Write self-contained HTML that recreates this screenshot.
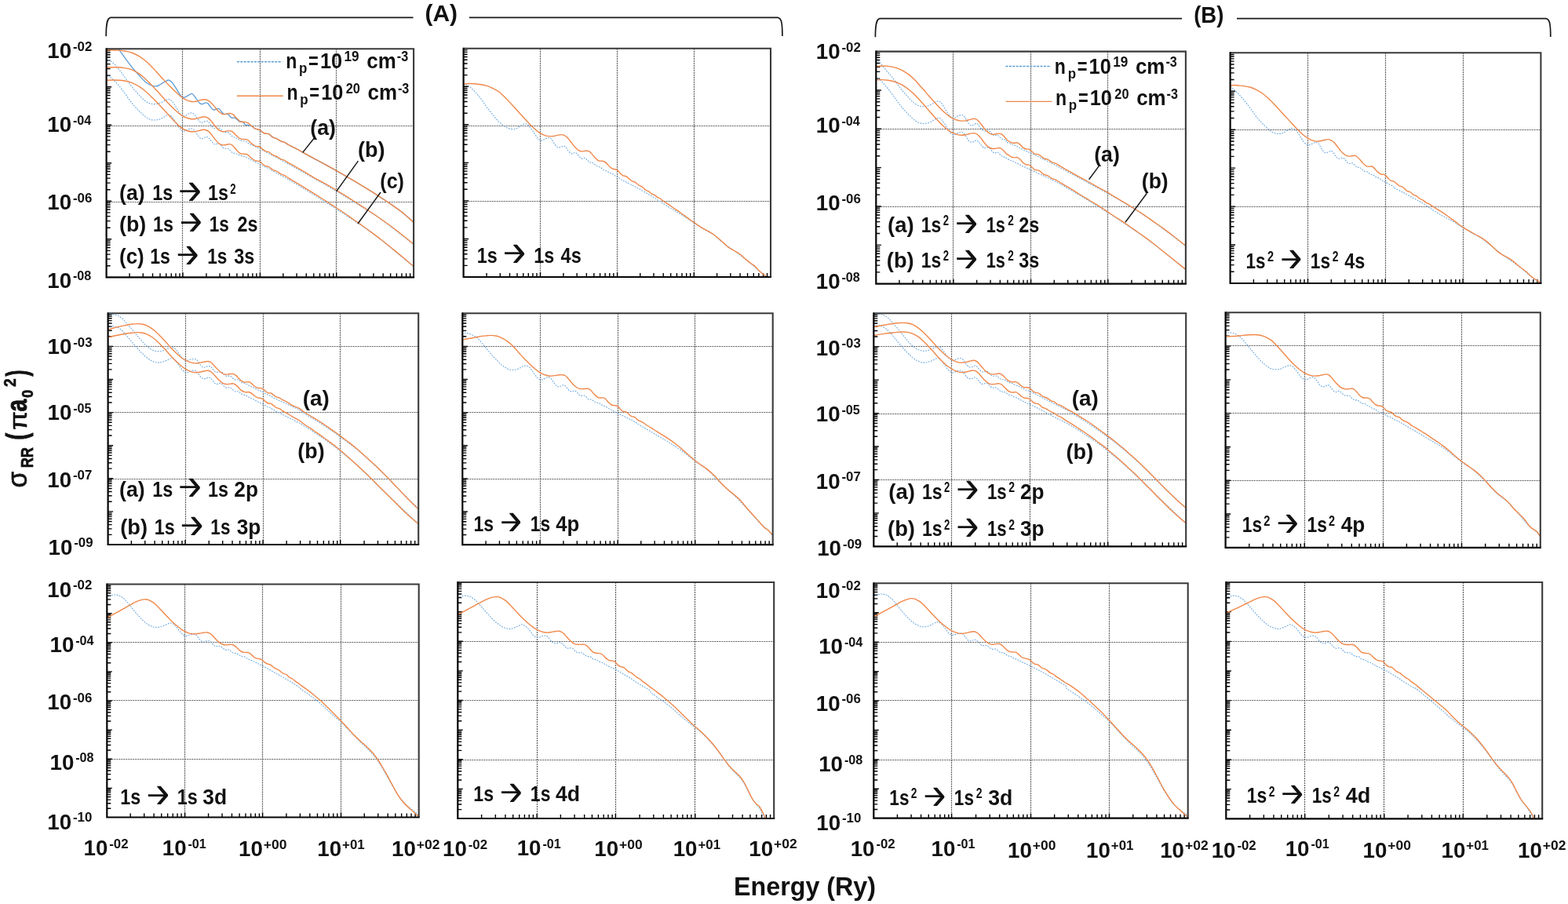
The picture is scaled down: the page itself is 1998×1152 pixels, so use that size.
<!DOCTYPE html>
<html lang="en"><head><meta charset="utf-8"><title>Radiative recombination cross sections</title>
<style>
html,body{margin:0;padding:0;background:#fff;}
body{width:1998px;height:1152px;overflow:hidden;}
svg{display:block;font-family:"Liberation Sans",sans-serif;font-weight:bold;fill:#111;}
.g{stroke:#444;stroke-width:1.2;stroke-dasharray:2 1;fill:none;opacity:.85}
.fr{stroke:#3a3a3a;stroke-width:2.1;fill:none;}
.ax{stroke:#050505;stroke-width:2.2;fill:none;}
.tk{stroke:#000;stroke-width:1.4;fill:none;}
.o{stroke:#F0884A;stroke-width:1.4;fill:none;stroke-linejoin:round;}
.b{stroke:#6CA8DE;stroke-width:1.1;fill:none;stroke-dasharray:1.8 1.5;stroke-linejoin:round;}
.bs{stroke:#5B9BD5;stroke-width:1.3;fill:none;stroke-linejoin:round;}
.ln{stroke:#1a1a1a;stroke-width:1.5;fill:none;}
</style></head><body>
<svg width="1998" height="1152" viewBox="0 0 1998 1152">
<rect x="0" y="0" width="1998" height="1152" fill="#fff"/>

<g id="p1">
<clipPath id="cp1"><rect x="135.6" y="62.3" width="391.5" height="291"/></clipPath>
<path class="g" d="M232.5 62.3V353.3M331.5 62.3V353.3M428.5 62.3V353.3M135.6 160.5H527.1M135.6 257.5H527.1"/>
<path class="tk" d="M165.06 353.3v-5M182.3 353.3v-5M194.53 353.3v-5M204.01 353.3v-5M211.76 353.3v-5M218.31 353.3v-5M223.99 353.3v-5M229 353.3v-5M262.94 353.3v-5M280.17 353.3v-5M292.4 353.3v-5M301.89 353.3v-5M309.64 353.3v-5M316.19 353.3v-5M321.86 353.3v-5M326.87 353.3v-5M360.81 353.3v-5M378.05 353.3v-5M390.28 353.3v-5M399.76 353.3v-5M407.51 353.3v-5M414.06 353.3v-5M419.74 353.3v-5M424.75 353.3v-5M458.69 353.3v-5M475.92 353.3v-5M488.15 353.3v-5M497.64 353.3v-5M505.39 353.3v-5M511.94 353.3v-5M517.61 353.3v-5M522.62 353.3v-5M233 353.3v-6M331.4 353.3v-6M428.7 353.3v-6M135.6 338.7h5M135.6 330.16h5M135.6 324.1h5M135.6 319.4h5M135.6 315.56h5M135.6 312.31h5M135.6 309.5h5M135.6 307.02h5M135.6 304.8h6.5M135.6 290.2h5M135.6 281.66h5M135.6 275.6h5M135.6 270.9h5M135.6 267.06h5M135.6 263.81h5M135.6 261h5M135.6 258.52h5M135.6 256.3h6.5M135.6 241.7h5M135.6 233.16h5M135.6 227.1h5M135.6 222.4h5M135.6 218.56h5M135.6 215.31h5M135.6 212.5h5M135.6 210.02h5M135.6 207.8h6.5M135.6 193.2h5M135.6 184.66h5M135.6 178.6h5M135.6 173.9h5M135.6 170.06h5M135.6 166.81h5M135.6 164h5M135.6 161.52h5M135.6 159.3h6.5M135.6 144.7h5M135.6 136.16h5M135.6 130.1h5M135.6 125.4h5M135.6 121.56h5M135.6 118.31h5M135.6 115.5h5M135.6 113.02h5M135.6 110.8h6.5M135.6 96.2h5M135.6 87.66h5M135.6 81.6h5M135.6 76.9h5M135.6 73.06h5M135.6 69.81h5M135.6 67h5M135.6 64.52h5"/>
<g clip-path="url(#cp1)">
<path class="b" d="M135.01 75.02C135.84 75.39 138.34 76.27 140.01 77.27C141.68 78.27 143.35 79.46 145.02 81.03C146.68 82.59 148.35 84.67 150.02 86.66C151.69 88.64 153.36 90.72 155.03 92.91C156.69 95.1 158.36 97.5 160.03 99.79C161.7 102.09 163.37 104.49 165.04 106.68C166.7 108.87 168.37 110.95 170.04 112.93C171.71 114.91 173.38 116.69 175.05 118.56C176.71 120.44 178.38 122.52 180.05 124.19C181.72 125.86 183.39 127.36 185.06 128.57C186.72 129.78 188.39 130.78 190.06 131.45C191.73 132.12 193.4 132.43 195.07 132.58C196.73 132.72 198.4 132.64 200.07 132.33C201.74 132.01 203.41 131.39 205.08 130.7C206.74 130.01 208.62 128.91 210.08 128.2C211.54 127.49 212.79 126.7 213.83 126.45C214.88 126.2 215.4 126.24 216.34 126.7C217.27 127.15 218.42 128.05 219.46 129.2C220.51 130.35 221.45 131.8 222.59 133.58C223.74 135.35 225.1 137.85 226.35 139.83C227.6 141.81 228.95 144.11 230.1 145.46C231.25 146.82 232.19 147.65 233.23 147.97C234.27 148.28 235.21 147.82 236.36 147.34C237.5 146.86 238.96 145.67 240.11 145.09C241.26 144.51 242.3 143.98 243.24 143.84C244.18 143.69 244.91 143.73 245.74 144.21C246.57 144.69 247.3 145.57 248.24 146.72C249.18 147.86 250.33 149.74 251.37 151.1C252.41 152.45 253.56 154.01 254.5 154.85C255.44 155.68 256.06 156.04 257 156.1C257.94 156.16 259.09 155.58 260.13 155.22C261.17 154.87 262.32 153.93 263.26 153.97C264.2 154.01 264.93 154.7 265.76 155.47C266.59 156.25 267.32 157.46 268.26 158.6C269.2 159.75 270.45 161.48 271.39 162.36C272.33 163.23 273.06 163.75 273.89 163.86C274.73 163.96 275.56 163.13 276.4 162.98C277.23 162.84 278.06 162.67 278.9 162.98C279.73 163.29 280.57 164.13 281.4 164.86C282.24 165.59 283.07 166.74 283.9 167.36C284.74 167.99 285.36 168.4 286.41 168.61C287.45 168.82 289.12 168.3 290.16 168.61C291.2 168.93 291.62 169.55 292.66 170.49C293.71 171.43 295.17 173.41 296.42 174.24C297.67 175.08 298.53 174.74 300.17 175.49C301.81 176.25 304.2 177.99 306.26 178.79C308.31 179.59 310.22 179.35 312.51 180.29C314.81 181.23 316.89 182.9 320.02 184.42C323.15 185.94 327.53 187.55 331.28 189.42C335.04 191.3 337.33 192.87 342.54 195.68C347.76 198.5 355.06 202.21 362.56 206.32C370.07 210.42 377.16 214.45 387.59 220.33C398.01 226.21 412.61 234.22 425.13 241.6C437.64 248.98 452.24 258.03 462.66 264.62C473.09 271.21 476.84 273.24 487.69 281.14C498.53 289.04 521.05 306.9 527.73 312.05"/>
<path class="b" d="M135.01 95.04C135.84 95.52 138.34 96.71 140.01 97.92C141.68 99.13 143.35 100.73 145.02 102.3C146.68 103.86 148.35 105.42 150.02 107.3C151.69 109.18 153.36 111.37 155.03 113.56C156.69 115.75 158.36 118.15 160.03 120.44C161.7 122.73 163.37 125.13 165.04 127.32C166.7 129.51 168.37 131.6 170.04 133.58C171.71 135.56 173.38 137.44 175.05 139.21C176.71 140.98 178.38 142.65 180.05 144.21C181.72 145.78 183.39 147.34 185.06 148.59C186.72 149.84 188.39 150.99 190.06 151.72C191.73 152.45 193.4 152.81 195.07 152.97C196.73 153.14 198.4 152.99 200.07 152.72C201.74 152.45 203.41 152.03 205.08 151.35C206.74 150.66 208.62 149.43 210.08 148.59C211.54 147.76 212.79 146.65 213.83 146.34C214.88 146.03 215.4 146.24 216.34 146.72C217.27 147.2 218.42 148.07 219.46 149.22C220.51 150.37 221.45 151.82 222.59 153.6C223.74 155.37 225.1 157.98 226.35 159.85C227.6 161.73 228.95 163.65 230.1 164.86C231.25 166.07 232.19 166.84 233.23 167.11C234.27 167.38 235.21 166.9 236.36 166.49C237.5 166.07 238.96 165.05 240.11 164.61C241.26 164.17 242.2 163.86 243.24 163.86C244.28 163.86 245.43 164.02 246.37 164.61C247.3 165.19 247.93 166.07 248.87 167.36C249.81 168.65 250.95 170.91 252 172.37C253.04 173.83 254.29 175.39 255.13 176.12C255.96 176.85 256.17 176.85 257 176.75C257.84 176.64 259.09 175.91 260.13 175.49C261.17 175.08 262.32 174.24 263.26 174.24C264.2 174.24 264.93 174.76 265.76 175.49C266.59 176.22 267.32 177.48 268.26 178.62C269.2 179.77 270.45 181.5 271.39 182.38C272.33 183.25 273.06 183.71 273.89 183.88C274.73 184.04 275.56 183.52 276.4 183.38C277.23 183.23 278.06 182.75 278.9 183C279.73 183.25 280.57 184.04 281.4 184.88C282.24 185.71 283.07 187.28 283.9 188.01C284.74 188.74 285.36 189.05 286.41 189.26C287.45 189.47 289.12 188.95 290.16 189.26C291.2 189.57 291.62 190.24 292.66 191.14C293.71 192.03 295.17 193.91 296.42 194.64C297.67 195.37 298.53 194.92 300.17 195.51C301.81 196.11 304.2 197.43 306.26 198.18C308.31 198.94 310.22 199.12 312.51 200.06C314.81 201 316.89 202.25 320.02 203.81C323.15 205.38 327.53 207.57 331.28 209.44C335.04 211.32 337.33 212.3 342.54 215.08C347.76 217.85 355.06 221.81 362.56 226.09C370.07 230.36 377.16 234.39 387.59 240.73C398.01 247.07 412.61 256.1 425.13 264.12C437.64 272.15 452.24 281.68 462.66 288.9C473.09 296.11 476.84 298.83 487.69 307.42C498.53 316.01 521.05 334.94 527.73 340.45"/>
<path class="bs" d="M150.65 61.01C150.96 61.59 151.79 63.36 152.52 64.51C153.25 65.66 153.77 66.18 155.03 67.89C156.28 69.6 158.36 72.47 160.03 74.77C161.7 77.06 163.37 79.46 165.04 81.65C166.7 83.84 168.37 85.93 170.04 87.91C171.71 89.89 173.38 91.66 175.05 93.54C176.71 95.41 178.38 97.4 180.05 99.17C181.72 100.94 183.39 102.78 185.06 104.17C186.72 105.57 188.39 106.65 190.06 107.55C191.73 108.45 193.61 109.18 195.07 109.55C196.52 109.93 197.57 109.97 198.82 109.8C200.07 109.64 201.32 109.12 202.57 108.55C203.82 107.99 205.08 107.16 206.33 106.43C207.58 105.7 208.93 104.86 210.08 104.17C211.23 103.48 212.37 102.65 213.21 102.3C214.04 101.94 214.36 101.84 215.09 102.05C215.81 102.25 216.75 102.88 217.59 103.55C218.42 104.21 219.05 104.69 220.09 106.05C221.13 107.41 222.59 109.7 223.84 111.68C225.1 113.66 226.45 116.16 227.6 117.94C228.74 119.71 229.79 121.27 230.73 122.32C231.66 123.36 232.29 123.98 233.23 124.19C234.17 124.4 235.21 124.05 236.36 123.57C237.5 123.09 238.96 121.98 240.11 121.32C241.26 120.65 242.4 119.81 243.24 119.56C244.07 119.31 244.39 119.36 245.12 119.81C245.85 120.27 246.68 121.17 247.62 122.32C248.56 123.46 249.7 125.24 250.75 126.7C251.79 128.16 252.83 130.07 253.87 131.08C254.92 132.08 255.96 132.6 257 132.7C258.04 132.81 259.19 132.01 260.13 131.7C261.07 131.39 261.8 130.76 262.63 130.82C263.47 130.89 264.3 131.3 265.14 132.08C265.97 132.85 266.7 134.27 267.64 135.45C268.58 136.64 269.83 138.44 270.77 139.21C271.7 139.98 272.43 140.15 273.27 140.08C274.1 140.02 274.94 139.12 275.77 138.83C276.6 138.54 277.54 138.21 278.27 138.33C279 138.46 279.42 138.81 280.15 139.58C280.88 140.36 281.71 141.98 282.65 142.96C283.59 143.94 284.74 145.11 285.78 145.46C286.82 145.82 287.97 144.94 288.91 145.09C289.85 145.24 290.58 145.65 291.41 146.34C292.25 147.03 293.08 148.53 293.91 149.22C294.75 149.91 295.58 150.37 296.42 150.47C297.25 150.57 298.08 149.64 298.92 149.84C299.75 150.05 300.38 150.89 301.42 151.72C302.46 152.55 304.13 154.33 305.18 154.85C306.22 155.37 306.84 154.64 307.68 154.85C308.51 155.06 309.35 155.37 310.18 156.1C311.01 156.83 311.85 158.71 312.68 159.23C313.52 159.75 314.35 159.08 315.19 159.23C316.02 159.37 316.88 159.93 317.69 160.1C318.49 160.28 318.8 159.62 320.02 160.27C321.24 160.92 323.46 163.19 325.03 164.02C326.59 164.86 328.26 164.9 329.4 165.28C330.55 165.65 330.97 165.65 331.91 166.28C332.85 166.9 333.89 168.34 335.04 169.03C336.18 169.72 337.54 170.11 338.79 170.41C340.04 170.7 341.08 170.03 342.54 170.78C344 171.53 345.88 173.91 347.55 174.91C349.22 175.91 350.88 175.95 352.55 176.79C354.22 177.62 355.89 179.14 357.56 179.91C359.23 180.69 360.89 180.64 362.56 181.42C364.23 182.19 365.48 183.4 367.57 184.54C369.65 185.69 371.74 186.53 375.08 188.3C378.41 190.07 383.42 192.89 387.59 195.18C391.76 197.47 395.93 199.81 400.1 202.06C404.27 204.31 408.44 206.44 412.61 208.69C416.78 210.95 420.95 213.24 425.13 215.58C429.3 217.91 433.47 220.31 437.64 222.71C441.81 225.11 445.98 227.5 450.15 229.96C454.32 232.43 458.49 234.93 462.66 237.47C466.83 240.02 471 242.58 475.18 245.23C479.35 247.88 483.52 250.61 487.69 253.36C491.86 256.12 496.03 258.84 500.2 261.75C504.37 264.66 508.12 267.12 512.71 270.82C517.3 274.52 525.23 281.77 527.73 283.96"/>
<path class="o" d="M135.01 63.76C137.92 63.82 148.14 63.86 152.52 64.13C156.9 64.4 158.57 64.82 161.28 65.38C163.99 65.95 166.29 66.57 168.79 67.51C171.29 68.45 173.79 69.56 176.3 71.02C178.8 72.47 181.3 74.29 183.8 76.27C186.31 78.25 188.81 80.44 191.31 82.9C193.81 85.36 196.32 88.32 198.82 91.04C201.32 93.75 203.82 96.46 206.33 99.17C208.83 101.88 211.33 104.69 213.83 107.3C216.34 109.91 218.84 112.41 221.34 114.81C223.84 117.21 226.55 119.81 228.85 121.69C231.14 123.57 233.23 124.96 235.11 126.07C236.98 127.18 238.44 127.74 240.11 128.32C241.78 128.91 243.45 129.43 245.12 129.57C246.78 129.72 248.45 129.53 250.12 129.2C251.79 128.86 253.46 127.99 255.13 127.57C256.79 127.15 258.67 126.74 260.13 126.7C261.59 126.65 262.63 126.8 263.88 127.32C265.14 127.84 266.39 128.78 267.64 129.82C268.89 130.87 270.14 132.22 271.39 133.58C272.64 134.93 273.89 136.5 275.15 137.96C276.4 139.42 277.65 141.15 278.9 142.34C280.15 143.53 281.4 144.55 282.65 145.09C283.9 145.63 285.16 145.63 286.41 145.59C287.66 145.55 288.91 145.01 290.16 144.84C291.41 144.67 292.77 144.42 293.91 144.59C295.06 144.76 296 145.07 297.04 145.84C298.08 146.61 299.05 148.11 300.17 149.22C301.29 150.33 302.74 151.59 303.75 152.51C304.77 153.44 305.21 154.26 306.26 154.76C307.3 155.27 308.86 155.37 310.01 155.52C311.16 155.66 312.1 155.41 313.14 155.64C314.18 155.87 315.12 156.16 316.27 156.89C317.41 157.62 318.56 158.87 320.02 160.02C321.48 161.17 323.46 162.94 325.03 163.77C326.59 164.61 328.26 164.65 329.4 165.03C330.55 165.4 330.97 165.4 331.91 166.03C332.85 166.65 333.89 168.07 335.04 168.78C336.18 169.49 337.54 169.97 338.79 170.28C340.04 170.59 341.08 169.9 342.54 170.66C344 171.41 345.88 173.78 347.55 174.78C349.22 175.79 350.88 175.83 352.55 176.66C354.22 177.5 355.89 179.02 357.56 179.79C359.23 180.56 360.89 180.52 362.56 181.29C364.23 182.06 365.48 183.27 367.57 184.42C369.65 185.57 371.74 186.4 375.08 188.17C378.41 189.95 383.42 192.76 387.59 195.06C391.76 197.35 395.93 199.68 400.1 201.94C404.27 204.19 408.44 206.32 412.61 208.57C416.78 210.82 420.95 213.11 425.13 215.45C429.3 217.79 433.47 220.18 437.64 222.58C441.81 224.98 445.98 227.38 450.15 229.84C454.32 232.3 458.49 234.8 462.66 237.35C466.83 239.89 471 242.46 475.18 245.11C479.35 247.75 483.52 250.49 487.69 253.24C491.86 255.99 496.03 258.7 500.2 261.62C504.37 264.54 508.12 267.04 512.71 270.76C517.3 274.47 525.23 281.7 527.73 283.89"/>
<path class="o" d="M135.01 86.03C136.26 85.99 140.01 85.82 142.51 85.78C145.02 85.74 147.52 85.68 150.02 85.78C152.52 85.88 155.03 86.05 157.53 86.41C160.03 86.76 162.74 87.24 165.04 87.91C167.33 88.57 169.21 89.37 171.29 90.41C173.38 91.45 175.46 92.7 177.55 94.16C179.63 95.62 181.72 97.33 183.8 99.17C185.89 101 187.97 103.09 190.06 105.17C192.15 107.26 194.23 109.45 196.32 111.68C198.4 113.91 200.49 116.27 202.57 118.56C204.66 120.86 206.74 123.15 208.83 125.44C210.91 127.74 213 130.14 215.09 132.33C217.17 134.52 219.26 136.6 221.34 138.58C223.43 140.56 225.51 142.59 227.6 144.21C229.68 145.84 231.98 147.3 233.85 148.34C235.73 149.39 237.19 149.91 238.86 150.47C240.53 151.03 242.2 151.55 243.86 151.72C245.53 151.89 247.2 151.74 248.87 151.47C250.54 151.2 252.21 150.51 253.87 150.09C255.54 149.68 257.42 149.11 258.88 148.97C260.34 148.82 261.38 148.82 262.63 149.22C263.88 149.61 265.14 150.3 266.39 151.35C267.64 152.39 268.89 153.95 270.14 155.47C271.39 157 272.64 158.96 273.89 160.48C275.15 162 276.4 163.5 277.65 164.61C278.9 165.71 280.15 166.59 281.4 167.11C282.65 167.63 283.9 167.74 285.16 167.74C286.41 167.74 287.66 167.3 288.91 167.11C290.16 166.92 291.52 166.53 292.66 166.61C293.81 166.69 294.75 166.97 295.79 167.61C296.83 168.26 297.8 169.42 298.92 170.49C300.04 171.56 301.28 172.96 302.5 174.03C303.73 175.1 305.01 176.35 306.26 176.91C307.51 177.47 308.86 177.31 310.01 177.41C311.16 177.52 312.1 177.31 313.14 177.54C314.18 177.77 315.12 177.95 316.27 178.79C317.41 179.62 318.56 181.33 320.02 182.54C321.48 183.75 323.46 185.34 325.03 186.05C326.59 186.76 328.26 186.53 329.4 186.8C330.55 187.07 330.97 187.03 331.91 187.67C332.85 188.32 333.89 189.8 335.04 190.68C336.18 191.55 337.54 192.45 338.79 192.93C340.04 193.41 341.08 192.82 342.54 193.55C344 194.28 345.88 196.33 347.55 197.31C349.22 198.29 350.88 198.56 352.55 199.43C354.22 200.31 355.89 201.75 357.56 202.56C359.23 203.38 360.89 203.48 362.56 204.31C364.23 205.15 365.48 206.36 367.57 207.57C369.65 208.78 371.74 209.69 375.08 211.57C378.41 213.45 383.42 216.37 387.59 218.83C391.76 221.29 395.93 223.94 400.1 226.34C404.27 228.73 408.44 230.88 412.61 233.22C416.78 235.55 420.95 237.91 425.13 240.35C429.3 242.79 433.47 245.29 437.64 247.86C441.81 250.42 445.98 253.07 450.15 255.74C454.32 258.41 458.49 261.16 462.66 263.87C466.83 266.58 471 269.19 475.18 272.01C479.35 274.82 483.52 277.8 487.69 280.77C491.86 283.73 496.03 286.65 500.2 289.77C504.37 292.9 508.12 295.89 512.71 299.53C517.3 303.18 525.23 309.65 527.73 311.67"/>
<path class="o" d="M135.01 102.3C136.67 102.25 141.68 102 145.02 102.05C148.35 102.09 152.11 102.25 155.03 102.55C157.94 102.84 160.03 103.17 162.53 103.8C165.04 104.42 167.54 105.2 170.04 106.3C172.54 107.41 175.05 108.8 177.55 110.43C180.05 112.06 182.55 113.97 185.06 116.06C187.56 118.15 190.06 120.54 192.56 122.94C195.07 125.34 197.57 127.84 200.07 130.45C202.57 133.06 205.08 135.87 207.58 138.58C210.08 141.29 212.58 144 215.09 146.72C217.59 149.43 220.3 152.45 222.59 154.85C224.89 157.25 226.97 159.48 228.85 161.11C230.73 162.73 232.19 163.67 233.85 164.61C235.52 165.55 237.19 166.21 238.86 166.74C240.53 167.26 242.2 167.59 243.86 167.74C245.53 167.88 247.2 167.84 248.87 167.61C250.54 167.38 252.21 166.76 253.87 166.36C255.54 165.96 257.42 165.34 258.88 165.23C260.34 165.13 261.38 165.28 262.63 165.73C263.88 166.19 265.14 166.88 266.39 167.99C267.64 169.09 268.89 170.8 270.14 172.37C271.39 173.93 272.64 175.81 273.89 177.37C275.15 178.94 276.4 180.6 277.65 181.75C278.9 182.9 280.15 183.73 281.4 184.25C282.65 184.77 283.9 184.88 285.16 184.88C286.41 184.88 287.66 184.46 288.91 184.25C290.16 184.04 291.52 183.52 292.66 183.63C293.81 183.73 294.75 184.15 295.79 184.88C296.83 185.61 297.8 186.73 298.92 188.01C300.04 189.29 301.28 191.27 302.5 192.55C303.73 193.83 305.01 195.08 306.26 195.68C307.51 196.29 308.86 196.08 310.01 196.18C311.16 196.29 312.1 196.08 313.14 196.31C314.18 196.54 315.12 196.72 316.27 197.56C317.41 198.39 318.56 200.14 320.02 201.31C321.48 202.48 323.46 203.9 325.03 204.56C326.59 205.23 328.26 205.02 329.4 205.32C330.55 205.61 330.97 205.63 331.91 206.32C332.85 207 333.89 208.55 335.04 209.44C336.18 210.34 337.54 211.18 338.79 211.7C340.04 212.22 341.08 211.8 342.54 212.57C344 213.34 345.88 215.39 347.55 216.33C349.22 217.26 350.88 217.33 352.55 218.2C354.22 219.08 355.89 220.68 357.56 221.58C359.23 222.48 360.89 222.69 362.56 223.58C364.23 224.48 365.48 225.67 367.57 226.96C369.65 228.25 371.74 229.36 375.08 231.34C378.41 233.32 383.42 236.3 387.59 238.85C391.76 241.39 395.93 244 400.1 246.61C404.27 249.21 408.44 251.82 412.61 254.49C416.78 257.16 420.95 259.91 425.13 262.62C429.3 265.33 433.47 267.94 437.64 270.76C441.81 273.57 445.98 276.59 450.15 279.51C454.32 282.43 458.49 285.29 462.66 288.27C466.83 291.26 471 294.28 475.18 297.41C479.35 300.54 483.52 303.77 487.69 307.04C491.86 310.32 496.03 313.67 500.2 317.05C504.37 320.43 508.12 323.45 512.71 327.31C517.3 331.17 525.23 338.05 527.73 340.2"/>
</g>
<path class="fr" d="M135.6 62.3H527.1V353.3"/>
<path class="ax" d="M135.6 61.3V353.3H528.1"/>
</g>
<g id="p2">
<clipPath id="cp2"><rect x="590.6" y="61.7" width="391.4" height="291.3"/></clipPath>
<path class="g" d="M688.5 61.7V353M786.5 61.7V353M884.5 61.7V353M590.6 160.5H982M590.6 256.5H982"/>
<path class="tk" d="M620.06 353v-5M637.29 353v-5M649.51 353v-5M658.99 353v-5M666.74 353v-5M673.29 353v-5M678.97 353v-5M683.97 353v-5M717.91 353v-5M735.14 353v-5M747.36 353v-5M756.84 353v-5M764.59 353v-5M771.14 353v-5M776.82 353v-5M781.82 353v-5M815.76 353v-5M832.99 353v-5M845.21 353v-5M854.69 353v-5M862.44 353v-5M868.99 353v-5M874.67 353v-5M879.67 353v-5M913.61 353v-5M930.84 353v-5M943.06 353v-5M952.54 353v-5M960.29 353v-5M966.84 353v-5M972.52 353v-5M977.52 353v-5M688.5 353v-6M786.6 353v-6M884.3 353v-6M590.6 338.38h5M590.6 329.84h5M590.6 323.77h5M590.6 319.07h5M590.6 315.22h5M590.6 311.97h5M590.6 309.15h5M590.6 306.67h5M590.6 304.45h6.5M590.6 289.83h5M590.6 281.29h5M590.6 275.22h5M590.6 270.52h5M590.6 266.67h5M590.6 263.42h5M590.6 260.6h5M590.6 258.12h5M590.6 255.9h6.5M590.6 241.28h5M590.6 232.74h5M590.6 226.67h5M590.6 221.97h5M590.6 218.12h5M590.6 214.87h5M590.6 212.05h5M590.6 209.57h5M590.6 207.35h6.5M590.6 192.73h5M590.6 184.19h5M590.6 178.12h5M590.6 173.42h5M590.6 169.57h5M590.6 166.32h5M590.6 163.5h5M590.6 161.02h5M590.6 158.8h6.5M590.6 144.18h5M590.6 135.64h5M590.6 129.57h5M590.6 124.87h5M590.6 121.02h5M590.6 117.77h5M590.6 114.95h5M590.6 112.47h5M590.6 110.25h6.5M590.6 95.63h5M590.6 87.09h5M590.6 81.02h5M590.6 76.32h5M590.6 72.47h5M590.6 69.22h5M590.6 66.4h5M590.6 63.92h5"/>
<g clip-path="url(#cp2)">
<path class="b" d="M590.01 107.52C590.84 107.62 593.34 107.41 595.01 108.14C596.68 108.87 598.35 110.44 600.02 111.9C601.68 113.36 603.35 115.17 605.02 116.9C606.69 118.63 608.36 120.3 610.03 122.28C611.69 124.26 613.36 126.45 615.03 128.79C616.7 131.12 618.37 134 620.04 136.3C621.7 138.59 623.37 140.47 625.04 142.55C626.71 144.64 628.38 146.83 630.05 148.81C631.71 150.79 633.38 152.77 635.05 154.44C636.72 156.11 638.39 157.51 640.06 158.82C641.72 160.13 643.39 161.43 645.06 162.32C646.73 163.22 648.4 163.84 650.07 164.2C651.73 164.55 653.4 164.72 655.07 164.45C656.74 164.18 658.41 163.41 660.08 162.57C661.74 161.74 663.62 160.24 665.08 159.44C666.54 158.65 667.58 157.92 668.83 157.82C670.09 157.71 671.54 158.13 672.59 158.82C673.63 159.51 674.05 160.59 675.09 161.95C676.13 163.3 677.59 165.18 678.84 166.95C680.1 168.72 681.35 170.81 682.6 172.58C683.85 174.36 685.2 176.5 686.35 177.59C687.5 178.67 688.44 178.98 689.48 179.09C690.52 179.19 691.46 178.67 692.61 178.21C693.75 177.75 695.21 176.8 696.36 176.34C697.51 175.88 698.55 175.46 699.49 175.46C700.43 175.46 701.16 175.56 701.99 176.34C702.83 177.11 703.66 178.8 704.49 180.09C705.33 181.38 706.06 182.88 707 184.09C707.94 185.3 709.19 186.7 710.13 187.35C711.06 187.99 711.69 188.04 712.63 187.97C713.57 187.91 714.71 187.28 715.76 186.97C716.8 186.66 717.95 185.89 718.88 186.1C719.82 186.3 720.55 187.24 721.39 188.22C722.22 189.2 722.95 190.79 723.89 191.98C724.83 193.17 726.08 194.73 727.02 195.36C727.96 195.98 728.58 195.88 729.52 195.73C730.46 195.58 731.71 194.48 732.65 194.48C733.59 194.48 734.32 195 735.15 195.73C735.98 196.46 736.71 197.82 737.65 198.86C738.59 199.9 739.84 201.51 740.78 201.99C741.72 202.47 742.45 201.84 743.28 201.74C744.12 201.63 744.95 201.01 745.79 201.36C746.62 201.72 747.35 202.93 748.29 203.86C749.23 204.8 750.37 206.47 751.42 206.99C752.46 207.51 753.5 206.57 754.54 206.99C755.59 207.41 756.53 208.66 757.67 209.49C758.82 210.33 760.18 211.37 761.43 212C762.68 212.62 763.93 212.52 765.18 213.25C766.43 213.98 767.68 215.65 768.93 216.38C770.19 217.11 771.44 217 772.69 217.63C773.94 218.25 775.19 219.5 776.44 220.13C777.69 220.76 778.94 220.71 780.2 221.38C781.45 222.05 782.7 223.34 783.95 224.13C785.2 224.93 786.24 225.24 787.7 226.14C789.16 227.03 791.04 228.53 792.71 229.51C794.38 230.49 795.03 230.64 797.71 232.02C800.4 233.39 804.88 235.67 808.82 237.77C812.76 239.88 817.16 242.26 821.33 244.66C825.5 247.05 829.67 249.56 833.84 252.16C838.01 254.77 842.19 257.69 846.36 260.3C850.53 262.9 854.7 265.26 858.87 267.8C863.04 270.35 867.15 272.85 871.38 275.56C875.61 278.27 880.1 281.36 884.27 284.07C888.44 286.78 892.3 289.35 896.41 291.83C900.51 294.31 904.75 296 908.92 298.96C913.09 301.92 916.63 305.93 921.43 309.6C926.23 313.27 931.86 316.62 937.7 320.98C943.54 325.34 951.67 331.83 956.47 335.75C961.26 339.67 962.51 341.34 966.48 344.51C970.44 347.68 977.95 353.06 980.24 354.77"/>
<path class="o" d="M590.01 107.27C591.26 107.14 595.01 106.6 597.51 106.52C600.02 106.43 602.52 106.56 605.02 106.77C607.52 106.98 610.03 107.33 612.53 107.77C615.03 108.21 617.53 108.64 620.04 109.39C622.54 110.15 625.04 111.08 627.54 112.27C630.05 113.46 632.76 114.92 635.05 116.53C637.34 118.13 639.22 119.97 641.31 121.91C643.39 123.85 645.48 125.97 647.56 128.16C649.65 130.35 651.73 132.75 653.82 135.05C655.9 137.34 657.99 139.63 660.08 141.93C662.16 144.22 664.25 146.51 666.33 148.81C668.42 151.1 670.5 153.5 672.59 155.69C674.67 157.88 676.76 160.01 678.84 161.95C680.93 163.89 683.22 165.87 685.1 167.33C686.98 168.79 688.44 169.79 690.11 170.71C691.77 171.62 693.44 172.35 695.11 172.83C696.78 173.31 698.45 173.48 700.12 173.58C701.78 173.69 703.45 173.67 705.12 173.46C706.79 173.25 708.46 172.65 710.13 172.33C711.79 172.02 713.67 171.58 715.13 171.58C716.59 171.58 717.63 171.75 718.88 172.33C720.14 172.92 721.39 173.9 722.64 175.09C723.89 176.27 725.14 177.9 726.39 179.46C727.64 181.03 728.89 182.91 730.15 184.47C731.4 186.03 732.65 187.6 733.9 188.85C735.15 190.1 736.4 191.31 737.65 191.98C738.9 192.64 740.16 192.79 741.41 192.85C742.66 192.92 743.91 192.44 745.16 192.35C746.41 192.27 747.77 192.1 748.91 192.35C750.06 192.6 751 193.02 752.04 193.85C753.08 194.69 754.02 196.04 755.17 197.36C756.32 198.67 757.67 200.49 758.92 201.74C760.18 202.99 761.43 204.3 762.68 204.86C763.93 205.43 765.28 204.97 766.43 205.12C767.58 205.26 768.52 205.28 769.56 205.74C770.6 206.2 771.54 206.83 772.69 207.87C773.83 208.91 775.19 210.83 776.44 212C777.69 213.16 778.94 214.25 780.2 214.87C781.45 215.5 782.8 215.4 783.95 215.75C785.1 216.11 786.03 216.17 787.08 217C788.12 217.84 789.06 219.61 790.21 220.76C791.35 221.9 792.71 223.26 793.96 223.88C795.21 224.51 796.46 223.88 797.71 224.51C798.96 225.14 800.22 226.59 801.47 227.64C802.72 228.68 803.97 230.04 805.22 230.77C806.47 231.5 807.85 231.43 808.97 232.02C810.1 232.6 810.93 233.48 811.95 234.27C812.96 235.06 814.03 236.15 815.08 236.77C816.12 237.4 816.95 237.13 818.2 238.02C819.45 238.92 821.23 241.19 822.58 242.15C823.94 243.11 825.09 243.01 826.34 243.78C827.59 244.55 828.84 246.01 830.09 246.78C831.34 247.55 832.59 247.66 833.84 248.41C835.1 249.16 836.35 250.52 837.6 251.29C838.85 252.06 840.1 252.2 841.35 253.04C842.6 253.87 843.65 255.25 845.11 256.29C846.56 257.34 848.44 258.21 850.11 259.3C851.78 260.38 853.45 261.63 855.12 262.8C856.78 263.97 858.45 265.16 860.12 266.3C861.79 267.45 863.25 268.39 865.13 269.68C867 270.97 869.3 272.54 871.38 274.06C873.47 275.58 875.49 277.25 877.64 278.81C879.79 280.38 882.18 281.98 884.27 283.44C886.35 284.9 888.13 286.26 890.15 287.57C892.17 288.89 894.32 290.14 896.41 291.33C898.49 292.52 900.58 293.52 902.66 294.71C904.75 295.89 906.83 297 908.92 298.46C911 299.92 913.09 301.69 915.18 303.46C917.26 305.24 919.35 307.22 921.43 309.1C923.52 310.97 925.81 313.27 927.69 314.73C929.56 316.19 931.02 316.87 932.69 317.85C934.36 318.83 935.82 319.46 937.7 320.61C939.57 321.75 941.87 323.11 943.95 324.74C946.04 326.36 948.12 328.59 950.21 330.37C952.3 332.14 954.59 333.95 956.47 335.37C958.34 336.79 959.8 337.42 961.47 338.87C963.14 340.33 964.81 342.52 966.48 344.13C968.14 345.74 969.81 347.15 971.48 348.51C973.15 349.87 975.03 351.28 976.49 352.26C977.95 353.24 979.61 354.04 980.24 354.39"/>
</g>
<path class="fr" d="M590.6 61.7H982V353"/>
<path class="ax" d="M590.6 60.7V353H983"/>
</g>
<g id="p3">
<clipPath id="cp3"><rect x="1116.3" y="65.6" width="394.6" height="296.1"/></clipPath>
<path class="g" d="M1214.5 65.6V361.7M1313.5 65.6V361.7M1411.5 65.6V361.7M1116.3 164.5H1510.9M1116.3 263.5H1510.9"/>
<path class="tk" d="M1146 361.7v-5M1163.37 361.7v-5M1175.69 361.7v-5M1185.25 361.7v-5M1193.06 361.7v-5M1199.67 361.7v-5M1205.39 361.7v-5M1210.44 361.7v-5M1244.65 361.7v-5M1262.02 361.7v-5M1274.34 361.7v-5M1283.9 361.7v-5M1291.71 361.7v-5M1298.32 361.7v-5M1304.04 361.7v-5M1309.09 361.7v-5M1343.3 361.7v-5M1360.67 361.7v-5M1372.99 361.7v-5M1382.55 361.7v-5M1390.36 361.7v-5M1396.97 361.7v-5M1402.69 361.7v-5M1407.74 361.7v-5M1441.95 361.7v-5M1459.32 361.7v-5M1471.64 361.7v-5M1481.2 361.7v-5M1489.01 361.7v-5M1495.62 361.7v-5M1501.34 361.7v-5M1506.39 361.7v-5M1214.9 361.7v-6M1313.6 361.7v-6M1411.8 361.7v-6M1116.3 346.84h5M1116.3 338.15h5M1116.3 331.99h5M1116.3 327.21h5M1116.3 323.3h5M1116.3 319.99h5M1116.3 317.13h5M1116.3 314.61h5M1116.3 312.35h6.5M1116.3 297.49h5M1116.3 288.8h5M1116.3 282.64h5M1116.3 277.86h5M1116.3 273.95h5M1116.3 270.64h5M1116.3 267.78h5M1116.3 265.26h5M1116.3 263h6.5M1116.3 248.14h5M1116.3 239.45h5M1116.3 233.29h5M1116.3 228.51h5M1116.3 224.6h5M1116.3 221.29h5M1116.3 218.43h5M1116.3 215.91h5M1116.3 213.65h6.5M1116.3 198.79h5M1116.3 190.1h5M1116.3 183.94h5M1116.3 179.16h5M1116.3 175.25h5M1116.3 171.94h5M1116.3 169.08h5M1116.3 166.56h5M1116.3 164.3h6.5M1116.3 149.44h5M1116.3 140.75h5M1116.3 134.59h5M1116.3 129.81h5M1116.3 125.9h5M1116.3 122.59h5M1116.3 119.73h5M1116.3 117.21h5M1116.3 114.95h6.5M1116.3 100.09h5M1116.3 91.4h5M1116.3 85.24h5M1116.3 80.46h5M1116.3 76.55h5M1116.3 73.24h5M1116.3 70.38h5M1116.3 67.86h5"/>
<g clip-path="url(#cp3)">
<path class="b" d="M1115.63 76.02C1116.36 76.47 1118.45 77.37 1120.01 78.77C1121.57 80.17 1123.35 82.42 1125.02 84.4C1126.68 86.38 1128.35 88.67 1130.02 90.66C1131.69 92.64 1133.36 94.31 1135.03 96.29C1136.69 98.27 1138.36 100.35 1140.03 102.54C1141.7 104.73 1143.37 107.23 1145.04 109.42C1146.7 111.61 1148.37 113.7 1150.04 115.68C1151.71 117.66 1153.38 119.43 1155.05 121.31C1156.71 123.19 1158.38 125.23 1160.05 126.94C1161.72 128.65 1163.39 130.32 1165.06 131.57C1166.72 132.82 1168.39 133.76 1170.06 134.45C1171.73 135.14 1173.4 135.53 1175.07 135.7C1176.73 135.87 1178.4 135.76 1180.07 135.45C1181.74 135.14 1183.41 134.55 1185.08 133.82C1186.74 133.09 1188.62 131.84 1190.08 131.07C1191.54 130.3 1192.69 129.47 1193.83 129.19C1194.98 128.92 1195.92 128.99 1196.96 129.44C1198 129.9 1199.05 130.7 1200.09 131.95C1201.13 133.2 1202.07 135.08 1203.22 136.95C1204.37 138.83 1205.72 141.33 1206.97 143.21C1208.22 145.09 1209.47 147.02 1210.73 148.21C1211.98 149.4 1213.33 150.07 1214.48 150.34C1215.63 150.61 1216.46 150.3 1217.61 149.84C1218.75 149.38 1220.21 148.13 1221.36 147.59C1222.51 147.05 1223.55 146.69 1224.49 146.59C1225.43 146.48 1226.16 146.48 1226.99 146.96C1227.83 147.44 1228.66 148.32 1229.49 149.46C1230.33 150.61 1231.06 152.38 1232 153.84C1232.94 155.3 1234.19 157.22 1235.13 158.22C1236.06 159.22 1236.69 159.75 1237.63 159.85C1238.57 159.95 1239.71 159.27 1240.76 158.85C1241.8 158.43 1242.95 157.35 1243.88 157.35C1244.82 157.35 1245.55 158.08 1246.39 158.85C1247.22 159.62 1247.95 160.83 1248.89 161.98C1249.83 163.12 1251.08 164.9 1252.02 165.73C1252.96 166.56 1253.58 166.88 1254.52 166.98C1255.46 167.09 1256.71 166.46 1257.65 166.36C1258.59 166.25 1259.32 165.98 1260.15 166.36C1260.98 166.73 1261.82 167.71 1262.65 168.61C1263.49 169.51 1264.32 171.07 1265.16 171.74C1265.99 172.4 1266.72 172.57 1267.66 172.61C1268.6 172.65 1269.85 171.74 1270.79 171.99C1271.72 172.24 1272.35 173.28 1273.29 174.11C1274.23 174.95 1275.48 176.41 1276.42 176.99C1277.35 177.58 1277.98 177.41 1278.92 177.62C1279.86 177.83 1281.45 177.64 1282.05 178.24C1282.65 178.85 1281.39 180.38 1282.51 181.26C1283.63 182.14 1286.68 182.68 1288.77 183.51C1290.85 184.35 1292.94 185.29 1295.03 186.27C1297.11 187.25 1299.2 188.35 1301.28 189.39C1303.37 190.44 1305.49 191.58 1307.54 192.52C1309.58 193.46 1310.42 193.57 1313.54 195.03C1316.67 196.48 1321.05 198.67 1326.31 201.28C1331.56 203.89 1337.78 206.87 1345.08 210.67C1352.37 214.46 1361.76 219.57 1370.1 224.05C1378.44 228.54 1386.78 233.02 1395.13 237.57C1403.47 242.11 1411.81 246.53 1420.15 251.33C1428.49 256.13 1436.83 261.09 1445.18 266.35C1453.52 271.6 1459.15 274.92 1470.2 282.86C1481.25 290.81 1504.61 308.83 1511.49 314.02"/>
<path class="b" d="M1115.63 98.29C1116.36 98.68 1118.45 99.44 1120.01 100.67C1121.57 101.9 1123.35 103.9 1125.02 105.67C1126.68 107.44 1128.35 109.32 1130.02 111.3C1131.69 113.28 1133.36 115.37 1135.03 117.56C1136.69 119.75 1138.36 122.15 1140.03 124.44C1141.7 126.73 1143.37 129.13 1145.04 131.32C1146.7 133.51 1148.37 135.6 1150.04 137.58C1151.71 139.56 1153.38 141.44 1155.05 143.21C1156.71 144.98 1158.38 146.61 1160.05 148.21C1161.72 149.82 1163.39 151.53 1165.06 152.84C1166.72 154.16 1168.39 155.35 1170.06 156.1C1171.73 156.85 1173.4 157.16 1175.07 157.35C1176.73 157.54 1178.4 157.49 1180.07 157.22C1181.74 156.95 1183.41 156.45 1185.08 155.72C1186.74 154.99 1188.62 153.68 1190.08 152.84C1191.54 152.01 1192.69 151.13 1193.83 150.72C1194.98 150.3 1195.92 150.03 1196.96 150.34C1198 150.65 1199.05 151.49 1200.09 152.59C1201.13 153.7 1202.07 155.2 1203.22 156.97C1204.37 158.74 1205.72 161.25 1206.97 163.23C1208.22 165.21 1209.47 167.46 1210.73 168.86C1211.98 170.26 1213.33 171.24 1214.48 171.61C1215.63 171.99 1216.46 171.53 1217.61 171.11C1218.75 170.69 1220.21 169.59 1221.36 169.11C1222.51 168.63 1223.55 168.27 1224.49 168.23C1225.43 168.19 1226.16 168.34 1226.99 168.86C1227.83 169.38 1228.66 170.21 1229.49 171.36C1230.33 172.51 1231.06 174.28 1232 175.74C1232.94 177.2 1234.19 179.18 1235.13 180.12C1236.06 181.06 1236.69 181.33 1237.63 181.37C1238.57 181.41 1239.71 180.79 1240.76 180.37C1241.8 179.95 1242.95 178.91 1243.88 178.87C1244.82 178.83 1245.55 179.39 1246.39 180.12C1247.22 180.85 1247.95 182.1 1248.89 183.25C1249.83 184.4 1251.08 186.11 1252.02 187C1252.96 187.9 1253.58 188.48 1254.52 188.63C1255.46 188.77 1256.71 187.94 1257.65 187.88C1258.59 187.82 1259.32 187.77 1260.15 188.25C1260.98 188.73 1261.82 189.82 1262.65 190.76C1263.49 191.69 1264.32 193.15 1265.16 193.88C1265.99 194.61 1266.72 195.14 1267.66 195.14C1268.6 195.14 1269.85 193.78 1270.79 193.88C1271.72 193.99 1272.35 194.93 1273.29 195.76C1274.23 196.59 1275.48 198.2 1276.42 198.89C1277.35 199.58 1277.98 199.58 1278.92 199.89C1279.86 200.2 1281.45 200.43 1282.05 200.77C1282.65 201.1 1281.39 201.24 1282.51 201.91C1283.63 202.58 1286.68 203.85 1288.77 204.78C1290.85 205.72 1292.94 206.56 1295.03 207.54C1297.11 208.52 1299.2 209.62 1301.28 210.67C1303.37 211.71 1305.49 212.81 1307.54 213.79C1309.58 214.77 1310.42 215.09 1313.54 216.55C1316.67 218.01 1321.05 220.09 1326.31 222.55C1331.56 225.01 1337.78 227.45 1345.08 231.31C1352.37 235.17 1361.76 240.8 1370.1 245.7C1378.44 250.6 1386.78 255.61 1395.13 260.72C1403.47 265.82 1411.81 270.93 1420.15 276.36C1428.49 281.78 1436.83 287.45 1445.18 293.25C1453.52 299.05 1459.15 302.65 1470.2 311.14C1481.25 319.63 1504.61 338.67 1511.49 344.17"/>
<path class="o" d="M1115.63 84.65C1116.99 84.55 1121.16 84.07 1123.76 84.02C1126.37 83.98 1128.77 84.13 1131.27 84.4C1133.77 84.67 1136.28 85.03 1138.78 85.65C1141.28 86.28 1143.99 87.21 1146.29 88.15C1148.58 89.09 1150.46 90.03 1152.54 91.28C1154.63 92.53 1156.71 93.99 1158.8 95.66C1160.88 97.33 1162.97 99.21 1165.06 101.29C1167.14 103.38 1169.23 105.88 1171.31 108.17C1173.4 110.47 1175.48 112.66 1177.57 115.06C1179.65 117.45 1181.74 120.16 1183.82 122.56C1185.91 124.96 1187.99 127.15 1190.08 129.44C1192.17 131.74 1194.25 134.14 1196.34 136.33C1198.42 138.52 1200.51 140.71 1202.59 142.58C1204.68 144.46 1206.81 146.13 1208.85 147.59C1210.89 149.05 1212.98 150.4 1214.85 151.34C1216.73 152.28 1218.4 152.76 1220.11 153.22C1221.82 153.68 1223.45 153.99 1225.12 154.09C1226.78 154.2 1228.45 154.09 1230.12 153.84C1231.79 153.59 1233.46 153.01 1235.13 152.59C1236.79 152.18 1238.77 151.49 1240.13 151.34C1241.49 151.2 1242.22 151.3 1243.26 151.72C1244.3 152.13 1245.24 152.76 1246.39 153.84C1247.53 154.93 1248.89 156.66 1250.14 158.22C1251.39 159.79 1252.64 161.66 1253.89 163.23C1255.15 164.79 1256.4 166.42 1257.65 167.61C1258.9 168.8 1260.15 169.73 1261.4 170.36C1262.65 170.99 1263.9 171.3 1265.16 171.36C1266.41 171.42 1267.66 170.94 1268.91 170.74C1270.16 170.53 1271.52 170.11 1272.66 170.11C1273.81 170.11 1274.75 170.21 1275.79 170.74C1276.83 171.26 1277.77 172.09 1278.92 173.24C1280.07 174.39 1281.87 176.7 1282.67 177.62C1283.48 178.54 1282.75 178.05 1283.76 178.76C1284.78 179.47 1287.31 181.3 1288.77 181.89C1290.23 182.47 1291.27 182.26 1292.52 182.26C1293.77 182.26 1295.03 181.53 1296.28 181.89C1297.53 182.24 1298.78 183.35 1300.03 184.39C1301.28 185.43 1302.53 187.2 1303.78 188.14C1305.04 189.08 1306.29 189.67 1307.54 190.02C1308.79 190.37 1310.14 189.85 1311.29 190.27C1312.44 190.69 1313.27 191.56 1314.42 192.52C1315.57 193.48 1316.82 195.34 1318.17 196.03C1319.53 196.71 1321.2 196.19 1322.55 196.65C1323.91 197.11 1325.06 197.9 1326.31 198.78C1327.56 199.65 1328.6 201.18 1330.06 201.91C1331.52 202.64 1333.4 202.39 1335.07 203.16C1336.73 203.93 1338.4 205.7 1340.07 206.54C1341.74 207.37 1343.2 207.27 1345.08 208.16C1346.95 209.06 1349.25 210.67 1351.33 211.92C1353.42 213.17 1354.46 213.9 1357.59 215.67C1360.72 217.44 1365.93 220.26 1370.1 222.55C1374.27 224.85 1378.44 227.14 1382.61 229.43C1386.78 231.73 1390.95 234.02 1395.13 236.32C1399.3 238.61 1403.47 240.8 1407.64 243.2C1411.81 245.6 1415.98 248.2 1420.15 250.71C1424.32 253.21 1428.49 255.71 1432.66 258.21C1436.83 260.72 1441 263.11 1445.18 265.72C1449.35 268.33 1453.52 271.04 1457.69 273.85C1461.86 276.67 1466.03 279.69 1470.2 282.61C1474.37 285.53 1478.54 288.35 1482.71 291.37C1486.88 294.4 1490.43 297.02 1495.23 300.76C1500.02 304.49 1508.78 311.6 1511.49 313.77"/>
<path class="o" d="M1115.63 101.92C1116.99 101.88 1121.16 101.6 1123.76 101.67C1126.37 101.73 1128.77 101.94 1131.27 102.29C1133.77 102.65 1136.28 103.08 1138.78 103.79C1141.28 104.5 1143.99 105.5 1146.29 106.55C1148.58 107.59 1150.46 108.69 1152.54 110.05C1154.63 111.41 1156.71 112.97 1158.8 114.68C1160.88 116.39 1162.97 118.27 1165.06 120.31C1167.14 122.35 1169.23 124.69 1171.31 126.94C1173.4 129.19 1175.48 131.47 1177.57 133.82C1179.65 136.18 1181.74 138.68 1183.82 141.08C1185.91 143.48 1187.99 145.88 1190.08 148.21C1192.17 150.55 1194.25 152.91 1196.34 155.1C1198.42 157.28 1200.51 159.47 1202.59 161.35C1204.68 163.23 1206.81 164.96 1208.85 166.36C1210.89 167.75 1212.98 168.86 1214.85 169.73C1216.73 170.61 1218.4 171.19 1220.11 171.61C1221.82 172.03 1223.45 172.22 1225.12 172.24C1226.78 172.26 1228.45 172.03 1230.12 171.74C1231.79 171.44 1233.46 170.84 1235.13 170.49C1236.79 170.13 1238.77 169.67 1240.13 169.61C1241.49 169.55 1242.22 169.67 1243.26 170.11C1244.3 170.55 1245.24 171.19 1246.39 172.24C1247.53 173.28 1248.89 174.84 1250.14 176.37C1251.39 177.89 1252.64 179.81 1253.89 181.37C1255.15 182.94 1256.4 184.56 1257.65 185.75C1258.9 186.94 1260.15 187.88 1261.4 188.5C1262.65 189.13 1263.9 189.4 1265.16 189.5C1266.41 189.61 1267.66 189.3 1268.91 189.13C1270.16 188.96 1271.52 188.48 1272.66 188.5C1273.81 188.52 1274.75 188.67 1275.79 189.25C1276.83 189.84 1277.77 190.82 1278.92 192.01C1280.07 193.2 1281.87 195.63 1282.67 196.39C1283.48 197.14 1282.75 195.92 1283.76 196.53C1284.78 197.13 1287.31 199.34 1288.77 200.03C1290.23 200.72 1291.27 200.55 1292.52 200.66C1293.77 200.76 1295.03 200.24 1296.28 200.66C1297.53 201.07 1298.78 202.01 1300.03 203.16C1301.28 204.31 1302.53 206.43 1303.78 207.54C1305.04 208.64 1306.29 209.37 1307.54 209.79C1308.79 210.21 1310.14 209.58 1311.29 210.04C1312.44 210.5 1313.27 211.54 1314.42 212.54C1315.57 213.54 1316.82 215.32 1318.17 216.05C1319.53 216.78 1321.2 216.42 1322.55 216.92C1323.91 217.42 1325.06 218.15 1326.31 219.05C1327.56 219.95 1328.6 221.51 1330.06 222.3C1331.52 223.09 1333.4 222.97 1335.07 223.8C1336.73 224.64 1338.4 226.43 1340.07 227.31C1341.74 228.18 1343.2 228.14 1345.08 229.06C1346.95 229.98 1349.25 231.56 1351.33 232.81C1353.42 234.06 1354.46 234.69 1357.59 236.57C1360.72 238.44 1365.93 241.51 1370.1 244.07C1374.27 246.64 1378.44 249.39 1382.61 251.96C1386.78 254.52 1390.95 256.9 1395.13 259.46C1399.3 262.03 1403.47 264.64 1407.64 267.35C1411.81 270.06 1415.98 272.98 1420.15 275.73C1424.32 278.48 1428.49 281.05 1432.66 283.86C1436.83 286.68 1441 289.7 1445.18 292.62C1449.35 295.54 1453.52 298.36 1457.69 301.38C1461.86 304.41 1466.03 307.53 1470.2 310.77C1474.37 314 1478.54 317.44 1482.71 320.78C1486.88 324.11 1490.43 326.93 1495.23 330.79C1500.02 334.64 1508.78 341.73 1511.49 343.92"/>
</g>
<path class="fr" d="M1116.3 65.6H1510.9V361.7"/>
<path class="ax" d="M1116.3 64.6V361.7H1511.9"/>
</g>
<g id="p4">
<clipPath id="cp4"><rect x="1567.6" y="67.3" width="395.8" height="293.7"/></clipPath>
<path class="g" d="M1666.5 67.3V361M1765.5 67.3V361M1864.5 67.3V361M1567.6 165.5H1963.4M1567.6 263.5H1963.4"/>
<path class="tk" d="M1597.39 361v-5M1614.81 361v-5M1627.17 361v-5M1636.76 361v-5M1644.6 361v-5M1651.22 361v-5M1656.96 361v-5M1662.02 361v-5M1696.34 361v-5M1713.76 361v-5M1726.12 361v-5M1735.71 361v-5M1743.55 361v-5M1750.17 361v-5M1755.91 361v-5M1760.97 361v-5M1795.29 361v-5M1812.71 361v-5M1825.07 361v-5M1834.66 361v-5M1842.5 361v-5M1849.12 361v-5M1854.86 361v-5M1859.92 361v-5M1894.24 361v-5M1911.66 361v-5M1924.02 361v-5M1933.61 361v-5M1941.45 361v-5M1948.07 361v-5M1953.81 361v-5M1958.87 361v-5M1666.5 361v-6M1765.3 361v-6M1864.1 361v-6M1567.6 346.26h5M1567.6 337.64h5M1567.6 331.53h5M1567.6 326.79h5M1567.6 322.91h5M1567.6 319.63h5M1567.6 316.79h5M1567.6 314.29h5M1567.6 312.05h6.5M1567.6 297.31h5M1567.6 288.69h5M1567.6 282.58h5M1567.6 277.84h5M1567.6 273.96h5M1567.6 270.68h5M1567.6 267.84h5M1567.6 265.34h5M1567.6 263.1h6.5M1567.6 248.36h5M1567.6 239.74h5M1567.6 233.63h5M1567.6 228.89h5M1567.6 225.01h5M1567.6 221.73h5M1567.6 218.89h5M1567.6 216.39h5M1567.6 214.15h6.5M1567.6 199.41h5M1567.6 190.79h5M1567.6 184.68h5M1567.6 179.94h5M1567.6 176.06h5M1567.6 172.78h5M1567.6 169.94h5M1567.6 167.44h5M1567.6 165.2h6.5M1567.6 150.46h5M1567.6 141.84h5M1567.6 135.73h5M1567.6 130.99h5M1567.6 127.11h5M1567.6 123.83h5M1567.6 120.99h5M1567.6 118.49h5M1567.6 116.25h6.5M1567.6 101.51h5M1567.6 92.89h5M1567.6 86.78h5M1567.6 82.04h5M1567.6 78.16h5M1567.6 74.88h5M1567.6 72.04h5M1567.6 69.54h5"/>
<g clip-path="url(#cp4)">
<path class="b" d="M1567.01 110.39C1567.84 110.95 1570.34 112.37 1572.01 113.77C1573.68 115.17 1575.35 117.11 1577.02 118.77C1578.68 120.44 1580.35 121.9 1582.02 123.78C1583.69 125.66 1585.36 127.95 1587.03 130.04C1588.69 132.12 1590.36 134.1 1592.03 136.29C1593.7 138.48 1595.37 140.88 1597.04 143.17C1598.7 145.47 1600.37 147.97 1602.04 150.06C1603.71 152.14 1605.38 153.91 1607.05 155.69C1608.71 157.46 1610.38 159.08 1612.05 160.69C1613.72 162.3 1615.39 163.96 1617.06 165.32C1618.72 166.68 1620.39 167.97 1622.06 168.82C1623.73 169.68 1625.4 170.24 1627.07 170.45C1628.73 170.66 1630.4 170.45 1632.07 170.08C1633.74 169.7 1635.41 169.03 1637.08 168.2C1638.74 167.36 1640.62 165.84 1642.08 165.07C1643.54 164.3 1644.58 163.71 1645.83 163.57C1647.09 163.42 1648.44 163.53 1649.59 164.19C1650.73 164.86 1651.57 166.07 1652.72 167.57C1653.86 169.07 1655.22 171.22 1656.47 173.2C1657.72 175.18 1658.97 177.73 1660.22 179.46C1661.47 181.19 1662.83 182.69 1663.98 183.59C1665.12 184.49 1666.06 184.76 1667.11 184.84C1668.15 184.92 1669.09 184.57 1670.23 184.09C1671.38 183.61 1672.84 182.42 1673.99 181.96C1675.13 181.5 1676.18 181.23 1677.12 181.34C1678.05 181.44 1678.78 181.75 1679.62 182.59C1680.45 183.42 1681.18 184.88 1682.12 186.34C1683.06 187.8 1684.21 189.99 1685.25 191.35C1686.29 192.7 1687.44 193.95 1688.38 194.47C1689.31 195 1689.94 194.72 1690.88 194.47C1691.82 194.22 1693.07 193.33 1694.01 192.97C1694.95 192.62 1695.68 192.1 1696.51 192.35C1697.34 192.6 1698.18 193.49 1699.01 194.47C1699.85 195.45 1700.58 197.02 1701.51 198.23C1702.45 199.44 1703.7 201.11 1704.64 201.73C1705.58 202.36 1706.21 202.09 1707.15 201.98C1708.08 201.88 1709.33 201.11 1710.27 201.11C1711.21 201.11 1711.94 201.31 1712.78 201.98C1713.61 202.65 1714.34 204.07 1715.28 205.11C1716.22 206.15 1717.47 207.72 1718.41 208.24C1719.34 208.76 1720.07 208.3 1720.91 208.24C1721.74 208.18 1722.58 207.55 1723.41 207.86C1724.25 208.18 1724.98 209.22 1725.91 210.12C1726.85 211.01 1728 212.72 1729.04 213.24C1730.08 213.76 1731.13 212.87 1732.17 213.24C1733.21 213.62 1734.26 214.66 1735.3 215.5C1736.34 216.33 1737.28 217.69 1738.43 218.25C1739.57 218.81 1740.93 218.25 1742.18 218.87C1743.43 219.5 1744.68 221.33 1745.93 222C1747.19 222.67 1748.44 222.25 1749.69 222.88C1750.94 223.5 1752.19 225.07 1753.44 225.76C1754.69 226.44 1755.94 226.32 1757.2 227.01C1758.45 227.7 1759.59 229.05 1760.95 229.88C1762.3 230.72 1763.66 231.09 1765.33 232.01C1767 232.93 1769.19 234.45 1770.96 235.39C1772.73 236.33 1775.07 237 1775.96 237.64C1776.86 238.29 1774.16 237.91 1776.31 239.27C1778.45 240.62 1784.65 243.54 1788.82 245.77C1792.99 248.01 1797.16 250.36 1801.33 252.66C1805.5 254.95 1809.67 256.97 1813.84 259.54C1818.01 262.1 1822.19 265.38 1826.36 268.05C1830.53 270.72 1834.7 273.22 1838.87 275.55C1843.04 277.89 1847.17 279.62 1851.38 282.06C1855.59 284.5 1859.97 287.65 1864.14 290.19C1868.31 292.74 1872.28 294.95 1876.41 297.33C1880.54 299.7 1884.75 301.6 1888.92 304.46C1893.09 307.31 1896.63 310.73 1901.43 314.47C1906.23 318.2 1912.07 322.7 1917.7 326.85C1923.33 331 1929.79 335.2 1935.22 339.37C1940.64 343.54 1945.43 348.27 1950.23 351.88C1955.03 355.49 1961.7 359.49 1963.99 361.01"/>
<path class="o" d="M1567.01 109.51C1567.84 109.35 1570.13 108.6 1572.01 108.51C1573.89 108.43 1575.97 108.81 1578.27 109.01C1580.56 109.22 1583.27 109.39 1585.77 109.76C1588.28 110.14 1590.78 110.49 1593.28 111.27C1595.78 112.04 1598.29 113.14 1600.79 114.39C1603.29 115.65 1605.79 117 1608.3 118.77C1610.8 120.55 1613.3 122.74 1615.8 125.03C1618.31 127.32 1620.81 129.93 1623.31 132.54C1625.81 135.14 1628.32 137.96 1630.82 140.67C1633.32 143.38 1635.82 146.09 1638.33 148.8C1640.83 151.51 1643.33 154.23 1645.83 156.94C1648.34 159.65 1650.84 162.57 1653.34 165.07C1655.84 167.57 1658.66 170.12 1660.85 171.95C1663.04 173.79 1664.6 174.93 1666.48 176.08C1668.36 177.23 1670.34 178.17 1672.11 178.83C1673.88 179.5 1675.45 179.94 1677.12 180.09C1678.78 180.23 1680.45 179.98 1682.12 179.71C1683.79 179.44 1685.46 178.81 1687.13 178.46C1688.79 178.1 1690.67 177.56 1692.13 177.58C1693.59 177.6 1694.63 177.96 1695.88 178.58C1697.14 179.21 1698.39 180.15 1699.64 181.34C1700.89 182.53 1702.14 184.15 1703.39 185.72C1704.64 187.28 1705.89 189.16 1707.15 190.72C1708.4 192.28 1709.65 193.91 1710.9 195.1C1712.15 196.29 1713.4 197.19 1714.65 197.85C1715.9 198.52 1717.16 198.94 1718.41 199.1C1719.66 199.27 1720.91 199 1722.16 198.85C1723.41 198.71 1724.77 198.12 1725.91 198.23C1727.06 198.33 1728 198.75 1729.04 199.48C1730.08 200.21 1731.02 201.36 1732.17 202.61C1733.32 203.86 1734.67 205.63 1735.92 206.99C1737.18 208.34 1738.43 209.84 1739.68 210.74C1740.93 211.64 1742.18 212.16 1743.43 212.37C1744.68 212.58 1746.14 211.91 1747.19 211.99C1748.23 212.08 1748.75 212.14 1749.69 212.87C1750.63 213.6 1751.67 215.16 1752.82 216.37C1753.96 217.58 1755.32 219.14 1756.57 220.13C1757.82 221.11 1759.18 221.88 1760.32 222.25C1761.47 222.63 1762.51 222.11 1763.45 222.38C1764.39 222.65 1765.02 223 1765.95 223.88C1766.89 224.75 1768.04 226.59 1769.08 227.63C1770.12 228.68 1771.06 229.55 1772.21 230.14C1773.36 230.72 1774.71 230.47 1775.96 231.14C1777.22 231.8 1778.47 233.16 1779.72 234.14C1780.97 235.12 1782.22 236.33 1783.47 237.02C1784.72 237.71 1785.92 237.43 1787.23 238.27C1788.53 239.1 1790.33 241.14 1791.32 242.02C1792.32 242.9 1792.26 243.06 1793.2 243.52C1794.14 243.98 1795.7 244.02 1796.95 244.77C1798.2 245.52 1799.35 247.19 1800.71 248.03C1802.06 248.86 1803.73 248.94 1805.09 249.78C1806.44 250.61 1807.48 252.13 1808.84 253.03C1810.19 253.93 1811.86 254.32 1813.22 255.16C1814.57 255.99 1815.62 257.2 1816.97 258.04C1818.33 258.87 1820 259.39 1821.35 260.16C1822.71 260.93 1823.65 261.73 1825.11 262.67C1826.56 263.6 1828.44 264.75 1830.11 265.79C1831.78 266.84 1833.45 267.88 1835.12 268.92C1836.78 269.96 1838.45 270.9 1840.12 272.05C1841.79 273.2 1843.25 274.45 1845.13 275.8C1847 277.16 1849.3 278.66 1851.38 280.18C1853.47 281.71 1855.51 283.37 1857.64 284.94C1859.76 286.5 1862.06 288.17 1864.14 289.57C1866.23 290.96 1868.11 292.11 1870.15 293.32C1872.19 294.53 1874.32 295.68 1876.41 296.82C1878.49 297.97 1880.58 299.01 1882.66 300.2C1884.75 301.39 1886.83 302.6 1888.92 303.96C1891 305.31 1893.09 306.67 1895.18 308.34C1897.26 310 1899.35 312.05 1901.43 313.97C1903.52 315.89 1905.81 318.24 1907.69 319.85C1909.56 321.45 1911.02 322.5 1912.69 323.6C1914.36 324.71 1915.82 325.44 1917.7 326.48C1919.57 327.52 1921.87 328.5 1923.95 329.86C1926.04 331.21 1928.33 333.09 1930.21 334.61C1932.09 336.13 1933.55 337.64 1935.22 338.99C1936.88 340.35 1938.55 341.49 1940.22 342.75C1941.89 344 1943.56 345.04 1945.23 346.5C1946.89 347.96 1948.56 350.04 1950.23 351.5C1951.9 352.96 1953.57 354.11 1955.24 355.26C1956.9 356.41 1958.78 357.49 1960.24 358.39C1961.7 359.28 1963.37 360.26 1963.99 360.64"/>
</g>
<path class="fr" d="M1567.6 67.3H1963.4V361"/>
<path class="ax" d="M1567.6 66.3V361H1964.4"/>
</g>
<g id="p5">
<clipPath id="cp5"><rect x="137.6" y="399.3" width="395.6" height="294.7"/></clipPath>
<path class="g" d="M236.5 399.3V694M335.5 399.3V694M433.5 399.3V694M137.6 441.5H533.2M137.6 525.5H533.2M137.6 610.5H533.2"/>
<path class="tk" d="M167.37 694v-5M184.79 694v-5M197.14 694v-5M206.73 694v-5M214.56 694v-5M221.18 694v-5M226.92 694v-5M231.97 694v-5M266.27 694v-5M283.69 694v-5M296.04 694v-5M305.63 694v-5M313.46 694v-5M320.08 694v-5M325.82 694v-5M330.87 694v-5M365.17 694v-5M382.59 694v-5M394.94 694v-5M404.53 694v-5M412.36 694v-5M418.98 694v-5M424.72 694v-5M429.77 694v-5M464.07 694v-5M481.49 694v-5M493.84 694v-5M503.43 694v-5M511.26 694v-5M517.88 694v-5M523.62 694v-5M528.67 694v-5M236 694v-6M335.1 694v-6M433.7 694v-6M137.6 681.33h5M137.6 673.91h5M137.6 668.65h5M137.6 664.57h5M137.6 661.24h5M137.6 658.42h5M137.6 655.98h5M137.6 653.83h5M137.6 651.9h6.5M137.6 639.23h5M137.6 631.81h5M137.6 626.55h5M137.6 622.47h5M137.6 619.14h5M137.6 616.32h5M137.6 613.88h5M137.6 611.73h5M137.6 609.8h6.5M137.6 597.13h5M137.6 589.71h5M137.6 584.45h5M137.6 580.37h5M137.6 577.04h5M137.6 574.22h5M137.6 571.78h5M137.6 569.63h5M137.6 567.7h6.5M137.6 555.03h5M137.6 547.61h5M137.6 542.35h5M137.6 538.27h5M137.6 534.94h5M137.6 532.12h5M137.6 529.68h5M137.6 527.53h5M137.6 525.6h6.5M137.6 512.93h5M137.6 505.51h5M137.6 500.25h5M137.6 496.17h5M137.6 492.84h5M137.6 490.02h5M137.6 487.58h5M137.6 485.43h5M137.6 483.5h6.5M137.6 470.83h5M137.6 463.41h5M137.6 458.15h5M137.6 454.07h5M137.6 450.74h5M137.6 447.92h5M137.6 445.48h5M137.6 443.33h5M137.6 441.4h6.5M137.6 428.73h5M137.6 421.31h5M137.6 416.05h5M137.6 411.97h5M137.6 408.64h5M137.6 405.82h5M137.6 403.38h5M137.6 401.23h5"/>
<g clip-path="url(#cp5)">
<path class="b" d="M137.01 400.76C138.26 400.76 142.43 400.55 144.51 400.76C146.6 400.97 147.85 401.32 149.52 402.01C151.19 402.7 152.85 403.57 154.52 404.89C156.19 406.2 157.86 408.12 159.53 409.89C161.2 411.66 162.86 413.65 164.53 415.52C166.2 417.4 167.87 419.17 169.54 421.15C171.21 423.13 172.87 425.43 174.54 427.41C176.21 429.39 177.88 431.16 179.55 433.04C181.22 434.92 182.88 437 184.55 438.67C186.22 440.34 187.89 441.8 189.56 443.05C191.23 444.3 192.89 445.41 194.56 446.18C196.23 446.95 197.9 447.43 199.57 447.68C201.24 447.93 202.9 447.93 204.57 447.68C206.24 447.43 207.91 446.85 209.58 446.18C211.25 445.51 213.12 444.3 214.58 443.68C216.04 443.05 217.09 442.42 218.34 442.42C219.59 442.42 220.94 442.95 222.09 443.68C223.24 444.41 224.18 445.55 225.22 446.8C226.26 448.06 227.2 449.62 228.35 451.18C229.49 452.75 230.85 454.83 232.1 456.19C233.35 457.54 234.6 458.84 235.85 459.32C237.11 459.8 238.36 459.32 239.61 459.07C240.86 458.82 242.11 458.09 243.36 457.81C244.61 457.54 245.97 457.4 247.12 457.44C248.26 457.48 249.3 457.44 250.24 458.07C251.18 458.69 251.81 459.94 252.75 461.19C253.68 462.44 254.83 464.43 255.87 465.57C256.92 466.72 257.96 467.7 259 468.08C260.04 468.45 261.09 468.14 262.13 467.82C263.17 467.51 264.22 466.32 265.26 466.2C266.3 466.07 267.45 466.45 268.39 467.07C269.32 467.7 269.95 468.85 270.89 469.95C271.83 471.06 272.97 472.98 274.02 473.71C275.06 474.44 276.1 474.33 277.15 474.33C278.19 474.33 279.33 473.71 280.27 473.71C281.21 473.71 281.94 473.77 282.78 474.33C283.61 474.89 284.34 476.25 285.28 477.08C286.22 477.92 287.36 479 288.41 479.34C289.45 479.67 290.6 479.04 291.53 479.09C292.47 479.13 293.1 479.02 294.04 479.59C294.98 480.15 296.12 481.71 297.17 482.46C298.21 483.22 299.25 483.88 300.29 484.09C301.34 484.3 302.48 483.47 303.42 483.72C304.36 483.97 304.99 484.9 305.92 485.59C306.86 486.28 307.91 487.32 309.05 487.84C310.2 488.37 311.66 488.26 312.81 488.72C313.95 489.18 314.79 489.97 315.93 490.6C317.08 491.22 318.44 491.89 319.69 492.47C320.94 493.06 322.19 493.48 323.44 494.1C324.69 494.73 325.94 495.6 327.2 496.23C328.45 496.85 329.66 497.33 330.95 497.85C332.24 498.38 333.49 498.58 334.95 499.36C336.41 500.13 338.08 501.61 339.71 502.48C341.33 503.36 342.84 503.67 344.71 504.61C346.59 505.55 348.88 507.01 350.97 508.12C353.05 509.22 355.14 510.3 357.23 511.24C359.31 512.18 361.4 512.81 363.48 513.75C365.57 514.68 367.65 515.89 369.74 516.87C371.82 517.85 373.95 518.69 375.99 519.63C378.04 520.57 380.11 521.33 382 522.5C383.89 523.68 383.67 524.31 387.33 526.67C391 529.03 398.44 533.19 404 536.67C409.56 540.14 415.11 543.69 420.67 547.5C426.22 551.31 431.78 555.42 437.33 559.5C442.89 563.58 448.44 567.47 454 572C459.56 576.53 465.11 581.61 470.67 586.67C476.22 591.72 481.78 596.86 487.33 602.33C492.89 607.81 496.08 611.56 504 619.5C511.92 627.44 529.69 644.92 534.83 650"/>
<path class="b" d="M137.01 416.15C138.05 416.04 141.38 415.48 143.26 415.52C145.14 415.56 146.6 415.77 148.27 416.4C149.93 417.02 151.6 417.96 153.27 419.28C154.94 420.59 156.61 422.51 158.28 424.28C159.94 426.05 161.61 427.93 163.28 429.91C164.95 431.89 166.62 434.19 168.29 436.17C169.95 438.15 171.62 439.92 173.29 441.8C174.96 443.68 176.63 445.66 178.3 447.43C179.96 449.2 181.63 450.87 183.3 452.43C184.97 454 186.64 455.56 188.31 456.81C189.97 458.07 191.64 459.11 193.31 459.94C194.98 460.78 196.65 461.46 198.32 461.82C199.98 462.17 201.65 462.24 203.32 462.07C204.99 461.9 206.66 461.38 208.33 460.82C209.99 460.25 211.77 459.36 213.33 458.69C214.9 458.02 216.36 456.96 217.71 456.81C219.07 456.67 220.32 457.08 221.46 457.81C222.61 458.54 223.45 459.8 224.59 461.19C225.74 462.59 227.1 464.53 228.35 466.2C229.6 467.87 230.85 469.85 232.1 471.2C233.35 472.56 234.71 473.77 235.85 474.33C237 474.89 237.84 474.79 238.98 474.58C240.13 474.37 241.48 473.5 242.74 473.08C243.99 472.66 245.34 472.14 246.49 472.08C247.64 472.02 248.57 472.02 249.62 472.7C250.66 473.39 251.7 474.89 252.75 476.21C253.79 477.52 254.83 479.54 255.87 480.59C256.92 481.63 257.96 482.15 259 482.46C260.04 482.78 261.09 482.71 262.13 482.46C263.17 482.21 264.22 481.07 265.26 480.96C266.3 480.86 267.45 481.17 268.39 481.84C269.32 482.51 269.95 483.82 270.89 484.97C271.83 486.11 272.97 487.99 274.02 488.72C275.06 489.45 276.1 489.41 277.15 489.35C278.19 489.28 279.33 488.35 280.27 488.35C281.21 488.35 281.94 488.76 282.78 489.35C283.61 489.93 284.34 491.06 285.28 491.85C286.22 492.64 287.36 493.79 288.41 494.1C289.45 494.41 290.6 493.68 291.53 493.73C292.47 493.77 293.1 493.79 294.04 494.35C294.98 494.91 296.12 496.31 297.17 497.1C298.21 497.9 299.25 498.84 300.29 499.11C301.34 499.38 302.48 498.48 303.42 498.73C304.36 498.98 304.99 499.92 305.92 500.61C306.86 501.3 307.91 502.34 309.05 502.86C310.2 503.38 311.66 503.28 312.81 503.74C313.95 504.19 314.79 504.99 315.93 505.61C317.08 506.24 318.44 506.91 319.69 507.49C320.94 508.07 322.19 508.49 323.44 509.12C324.69 509.74 325.94 510.58 327.2 511.24C328.45 511.91 329.66 512.49 330.95 513.12C332.24 513.75 333.49 514.2 334.95 515C336.41 515.79 338.08 517.04 339.71 517.87C341.33 518.71 342.84 519.02 344.71 520C346.59 520.98 348.88 522.61 350.97 523.76C353.05 524.9 355.14 525.84 357.23 526.88C359.31 527.93 361.4 528.97 363.48 530.01C365.57 531.05 367.65 532.1 369.74 533.14C371.82 534.18 373.06 534.71 375.99 536.27C378.93 537.83 382.67 539.66 387.33 542.5C392 545.34 398.44 549.58 404 553.33C409.56 557.08 415.11 560.89 420.67 565C426.22 569.11 431.78 573.47 437.33 578C442.89 582.53 448.44 587.19 454 592.17C459.56 597.14 465.11 602.44 470.67 607.83C476.22 613.22 476.64 614.28 487.33 624.5C498.03 634.72 526.92 661.72 534.83 669.17"/>
<path class="o" d="M137.01 420.4C138.26 420.01 142.01 418.73 144.51 418.03C147.02 417.32 149.52 416.71 152.02 416.15C154.52 415.59 157.03 415.13 159.53 414.65C162.03 414.17 164.53 413.6 167.04 413.27C169.54 412.94 172.25 412.69 174.54 412.64C176.84 412.6 178.71 412.64 180.8 413.02C182.88 413.4 184.97 413.96 187.06 414.9C189.14 415.84 191.23 417.19 193.31 418.65C195.4 420.11 197.48 421.78 199.57 423.66C201.65 425.53 203.74 427.72 205.82 429.91C207.91 432.1 209.99 434.5 212.08 436.79C214.17 439.09 216.25 441.49 218.34 443.68C220.42 445.87 222.51 447.95 224.59 449.93C226.68 451.91 228.97 454.1 230.85 455.56C232.73 457.02 234.19 457.75 235.85 458.69C237.52 459.63 239.19 460.55 240.86 461.19C242.53 461.84 244.2 462.3 245.86 462.57C247.53 462.84 249.2 462.9 250.87 462.82C252.54 462.74 254.21 462.38 255.87 462.07C257.54 461.76 259.42 461.19 260.88 460.94C262.34 460.69 263.49 460.53 264.63 460.57C265.78 460.61 266.72 460.67 267.76 461.19C268.8 461.71 269.74 462.59 270.89 463.7C272.04 464.8 273.39 466.47 274.64 467.82C275.89 469.18 277.15 470.64 278.4 471.83C279.65 473.02 280.9 474.12 282.15 474.96C283.4 475.79 284.65 476.48 285.9 476.83C287.16 477.19 288.41 477.15 289.66 477.08C290.91 477.02 292.16 476.56 293.41 476.46C294.66 476.35 296.02 476.19 297.17 476.46C298.31 476.73 299.25 477.29 300.29 478.09C301.34 478.88 302.27 480.07 303.42 481.21C304.57 482.36 305.92 484.03 307.18 484.97C308.43 485.91 309.68 486.53 310.93 486.84C312.18 487.16 313.54 486.84 314.68 486.84C315.83 486.84 316.77 486.47 317.81 486.84C318.85 487.22 319.79 488.16 320.94 489.1C322.09 490.03 323.44 491.6 324.69 492.47C325.94 493.35 327.2 494 328.45 494.35C329.7 494.71 331.05 494.35 332.2 494.6C333.35 494.85 334.29 495.16 335.33 495.85C336.37 496.54 337.31 497.9 338.46 498.73C339.6 499.56 341.06 500.48 342.21 500.86C343.36 501.23 344.3 500.61 345.34 500.98C346.38 501.36 347.32 502.28 348.47 503.11C349.61 503.94 350.97 505.36 352.22 505.99C353.47 506.61 354.72 506.3 355.97 506.86C357.23 507.43 358.48 508.64 359.73 509.37C360.98 510.1 362.23 510.62 363.48 511.24C364.73 511.87 365.98 512.35 367.24 513.12C368.49 513.89 369.53 515.04 370.99 515.87C372.45 516.71 374.16 517.29 375.99 518.13C377.83 518.96 380.11 519.73 382 520.88C383.89 522.02 385.06 523.48 387.33 525C389.61 526.52 392.89 528.33 395.67 530C398.44 531.67 401.22 533.25 404 535C406.78 536.75 409.56 538.64 412.33 540.5C415.11 542.36 417.89 544.25 420.67 546.17C423.44 548.08 426.22 549.97 429 552C431.78 554.03 434.56 556.22 437.33 558.33C440.11 560.44 442.89 562.5 445.67 564.67C448.44 566.83 451.22 569 454 571.33C456.78 573.67 459.56 576.19 462.33 578.67C465.11 581.14 467.89 583.64 470.67 586.17C473.44 588.69 476.22 591.19 479 593.83C481.78 596.47 484.56 599.25 487.33 602C490.11 604.75 492.89 607.47 495.67 610.33C498.44 613.19 501.22 616.22 504 619.17C506.78 622.11 509.56 625.08 512.33 628C515.11 630.92 517.89 633.83 520.67 636.67C523.44 639.5 526.64 642.83 529 645C531.36 647.17 533.86 648.89 534.83 649.67"/>
<path class="o" d="M137.01 430.04C138.26 429.75 142.01 428.83 144.51 428.29C147.02 427.74 149.52 427.28 152.02 426.78C154.52 426.28 157.03 425.7 159.53 425.28C162.03 424.87 164.53 424.55 167.04 424.28C169.54 424.01 172.25 423.7 174.54 423.66C176.84 423.61 178.71 423.68 180.8 424.03C182.88 424.39 184.97 424.91 187.06 425.78C189.14 426.66 191.23 427.87 193.31 429.29C195.4 430.7 197.48 432.41 199.57 434.29C201.65 436.17 203.74 438.42 205.82 440.55C207.91 442.67 209.99 444.76 212.08 447.05C214.17 449.35 216.25 452.06 218.34 454.31C220.42 456.56 222.51 458.59 224.59 460.57C226.68 462.55 228.97 464.63 230.85 466.2C232.73 467.76 234.19 468.87 235.85 469.95C237.52 471.04 239.19 471.97 240.86 472.7C242.53 473.43 244.2 474 245.86 474.33C247.53 474.66 249.2 474.77 250.87 474.71C252.54 474.64 254.21 474.29 255.87 473.96C257.54 473.62 259.42 473 260.88 472.7C262.34 472.41 263.49 472.14 264.63 472.2C265.78 472.27 266.72 472.52 267.76 473.08C268.8 473.64 269.74 474.5 270.89 475.58C272.04 476.67 273.39 478.23 274.64 479.59C275.89 480.94 277.15 482.46 278.4 483.72C279.65 484.97 280.9 486.2 282.15 487.09C283.4 487.99 284.65 488.68 285.9 489.1C287.16 489.51 288.41 489.6 289.66 489.6C290.91 489.6 292.16 489.22 293.41 489.1C294.66 488.97 296.02 488.64 297.17 488.85C298.31 489.05 299.25 489.6 300.29 490.35C301.34 491.1 302.27 492.22 303.42 493.35C304.57 494.48 305.92 496.1 307.18 497.1C308.43 498.11 309.68 498.92 310.93 499.36C312.18 499.79 313.54 499.67 314.68 499.73C315.83 499.79 316.77 499.42 317.81 499.73C318.85 500.04 319.79 500.77 320.94 501.61C322.09 502.44 323.44 503.86 324.69 504.74C325.94 505.61 327.2 506.41 328.45 506.86C329.7 507.32 331.05 507.18 332.2 507.49C333.35 507.8 334.29 508.01 335.33 508.74C336.37 509.47 337.31 510.97 338.46 511.87C339.6 512.77 341.06 513.7 342.21 514.12C343.36 514.54 344.3 513.95 345.34 514.37C346.38 514.79 347.32 515.75 348.47 516.62C349.61 517.5 350.97 518.96 352.22 519.63C353.47 520.29 354.72 520 355.97 520.63C357.23 521.25 358.48 522.55 359.73 523.38C360.98 524.21 362.23 524.94 363.48 525.63C364.73 526.32 365.98 526.78 367.24 527.51C368.49 528.24 369.53 529.12 370.99 530.01C372.45 530.91 374.16 531.85 375.99 532.89C377.83 533.93 380.11 535 382 536.27C383.89 537.54 385.06 538.91 387.33 540.5C389.61 542.09 392.89 543.97 395.67 545.83C398.44 547.69 401.22 549.72 404 551.67C406.78 553.61 409.56 555.5 412.33 557.5C415.11 559.5 417.89 561.58 420.67 563.67C423.44 565.75 426.22 567.78 429 570C431.78 572.22 434.56 574.64 437.33 577C440.11 579.36 442.89 581.72 445.67 584.17C448.44 586.61 451.22 589.11 454 591.67C456.78 594.22 459.56 596.86 462.33 599.5C465.11 602.14 467.89 604.78 470.67 607.5C473.44 610.22 476.22 613.06 479 615.83C481.78 618.61 484.56 621.39 487.33 624.17C490.11 626.94 492.89 629.72 495.67 632.5C498.44 635.28 501.22 638.06 504 640.83C506.78 643.61 509.56 646.47 512.33 649.17C515.11 651.86 517.89 654.5 520.67 657C523.44 659.5 526.64 662.19 529 664.17C531.36 666.14 533.86 668.06 534.83 668.83"/>
</g>
<path class="fr" d="M137.6 399.3H533.2V694"/>
<path class="ax" d="M137.6 398.3V694H534.2"/>
</g>
<g id="p6">
<clipPath id="cp6"><rect x="589.3" y="399.3" width="395.4" height="294.9"/></clipPath>
<path class="g" d="M688.5 399.3V694.2M787.5 399.3V694.2M885.5 399.3V694.2M589.3 441.5H984.7M589.3 525.5H984.7M589.3 610.5H984.7"/>
<path class="tk" d="M619.06 694.2v-5M636.46 694.2v-5M648.81 694.2v-5M658.39 694.2v-5M666.22 694.2v-5M672.84 694.2v-5M678.57 694.2v-5M683.63 694.2v-5M717.91 694.2v-5M735.31 694.2v-5M747.66 694.2v-5M757.24 694.2v-5M765.07 694.2v-5M771.69 694.2v-5M777.42 694.2v-5M782.48 694.2v-5M816.76 694.2v-5M834.16 694.2v-5M846.51 694.2v-5M856.09 694.2v-5M863.92 694.2v-5M870.54 694.2v-5M876.27 694.2v-5M881.33 694.2v-5M915.61 694.2v-5M933.01 694.2v-5M945.36 694.2v-5M954.94 694.2v-5M962.77 694.2v-5M969.39 694.2v-5M975.12 694.2v-5M980.18 694.2v-5M688 694.2v-6M787.1 694.2v-6M885.8 694.2v-6M589.3 681.52h5M589.3 674.1h5M589.3 668.84h5M589.3 664.75h5M589.3 661.42h5M589.3 658.6h5M589.3 656.15h5M589.3 654h5M589.3 652.07h6.5M589.3 639.39h5M589.3 631.97h5M589.3 626.71h5M589.3 622.62h5M589.3 619.29h5M589.3 616.47h5M589.3 614.03h5M589.3 611.87h5M589.3 609.94h6.5M589.3 597.26h5M589.3 589.84h5M589.3 584.58h5M589.3 580.5h5M589.3 577.16h5M589.3 574.34h5M589.3 571.9h5M589.3 569.74h5M589.3 567.81h6.5M589.3 555.13h5M589.3 547.71h5M589.3 542.45h5M589.3 538.37h5M589.3 535.03h5M589.3 532.21h5M589.3 529.77h5M589.3 527.61h5M589.3 525.69h6.5M589.3 513h5M589.3 505.59h5M589.3 500.32h5M589.3 496.24h5M589.3 492.9h5M589.3 490.08h5M589.3 487.64h5M589.3 485.48h5M589.3 483.56h6.5M589.3 470.88h5M589.3 463.46h5M589.3 458.19h5M589.3 454.11h5M589.3 450.77h5M589.3 447.95h5M589.3 445.51h5M589.3 443.36h5M589.3 441.43h6.5M589.3 428.75h5M589.3 421.33h5M589.3 416.06h5M589.3 411.98h5M589.3 408.65h5M589.3 405.83h5M589.3 403.38h5M589.3 401.23h5"/>
<g clip-path="url(#cp6)">
<path class="b" d="M588.5 425.03C589.42 424.95 592.26 424.41 594.01 424.53C595.76 424.66 597.35 425.2 599.02 425.78C600.68 426.37 602.35 427.08 604.02 428.04C605.69 428.99 607.36 430.04 609.03 431.54C610.69 433.04 612.36 435.13 614.03 437.04C615.7 438.96 617.37 441.01 619.04 443.05C620.7 445.09 622.37 447.33 624.04 449.31C625.71 451.29 627.38 453.16 629.05 454.94C630.71 456.71 632.38 458.27 634.05 459.94C635.72 461.61 637.39 463.53 639.06 464.95C640.72 466.37 642.39 467.47 644.06 468.45C645.73 469.43 647.4 470.33 649.07 470.83C650.73 471.33 652.4 471.5 654.07 471.45C655.74 471.41 657.41 471.14 659.08 470.58C660.74 470.01 662.62 468.8 664.08 468.08C665.54 467.35 666.58 466.51 667.83 466.2C669.09 465.89 670.44 465.89 671.59 466.2C672.73 466.51 673.67 467.09 674.72 468.08C675.76 469.06 676.7 470.52 677.84 472.08C678.99 473.64 680.35 475.79 681.6 477.46C682.85 479.13 684.1 480.98 685.35 482.09C686.6 483.19 687.96 483.88 689.11 484.09C690.25 484.3 691.19 483.76 692.23 483.34C693.28 482.92 694.32 482.05 695.36 481.59C696.4 481.13 697.45 480.5 698.49 480.59C699.53 480.67 700.68 481.3 701.62 482.09C702.56 482.88 703.18 484.09 704.12 485.34C705.06 486.59 706.21 488.41 707.25 489.6C708.29 490.79 709.33 491.95 710.38 492.47C711.42 493 712.57 492.93 713.5 492.72C714.44 492.52 715.17 491.54 716.01 491.22C716.84 490.91 717.68 490.64 718.51 490.85C719.34 491.06 720.18 491.68 721.01 492.47C721.85 493.27 722.58 494.56 723.51 495.6C724.45 496.65 725.6 498.27 726.64 498.73C727.69 499.19 728.73 498.46 729.77 498.36C730.81 498.25 731.96 497.83 732.9 498.11C733.84 498.38 734.57 499.15 735.4 499.98C736.24 500.82 736.97 502.38 737.9 503.11C738.84 503.84 739.89 504.19 741.03 504.36C742.18 504.53 743.74 503.8 744.79 504.11C745.83 504.42 746.35 505.4 747.29 506.24C748.23 507.07 749.37 508.64 750.42 509.12C751.46 509.6 752.5 508.76 753.54 509.12C754.59 509.47 755.63 510.58 756.67 511.24C757.72 511.91 758.76 512.77 759.8 513.12C760.84 513.47 761.89 512.95 762.93 513.37C763.97 513.79 765.01 515 766.06 515.62C767.1 516.25 768.04 516.6 769.19 517.12C770.33 517.65 771.69 518.06 772.94 518.75C774.19 519.44 775.44 520.52 776.69 521.25C777.94 521.98 779.2 522.5 780.45 523.13C781.7 523.76 783.12 524.42 784.2 525.01C785.28 525.59 785.7 526.01 786.95 526.63C788.2 527.26 790.08 527.99 791.71 528.76C793.33 529.53 795.04 530.43 796.71 531.26C798.38 532.1 800.05 532.93 801.72 533.77C803.39 534.6 803.95 534.62 806.72 536.27C809.49 537.92 813.62 540.82 818.33 543.67C823.05 546.51 829.44 550.06 835 553.33C840.56 556.61 846.11 559.86 851.67 563.33C857.22 566.81 862.64 570.08 868.33 574.17C874.03 578.25 880.28 583.69 885.83 587.83C891.39 591.97 896.25 594.36 901.67 599C907.08 603.64 912.78 610.39 918.33 615.67C923.89 620.94 929.44 625.25 935 630.67C940.56 636.08 946.39 642.47 951.67 648.17C956.94 653.86 961.94 659.97 966.67 664.83C971.39 669.69 976.81 674.08 980 677.33C983.19 680.58 984.86 683.17 985.83 684.33"/>
<path class="o" d="M588.5 433.42C589.63 433.14 593.09 432.23 595.26 431.79C597.43 431.35 599.43 431.16 601.52 430.79C603.6 430.41 605.69 429.93 607.77 429.54C609.86 429.14 611.94 428.7 614.03 428.41C616.12 428.12 618.31 427.95 620.29 427.78C622.27 427.62 624.04 427.37 625.92 427.41C627.79 427.45 629.77 427.72 631.55 428.04C633.32 428.35 634.88 428.66 636.55 429.29C638.22 429.91 639.89 430.85 641.56 431.79C643.23 432.73 644.89 433.71 646.56 434.92C648.23 436.13 649.9 437.48 651.57 439.05C653.24 440.61 654.9 442.49 656.57 444.3C658.24 446.12 659.91 448.06 661.58 449.93C663.25 451.81 664.91 453.79 666.58 455.56C668.25 457.34 669.92 458.9 671.59 460.57C673.26 462.24 674.92 464.01 676.59 465.57C678.26 467.14 679.72 468.45 681.6 469.95C683.47 471.45 685.98 473.37 687.85 474.58C689.73 475.79 691.19 476.52 692.86 477.21C694.53 477.9 696.2 478.4 697.86 478.71C699.53 479.02 701.2 479.13 702.87 479.09C704.54 479.04 706.21 478.69 707.87 478.46C709.54 478.23 711.31 477.83 712.88 477.71C714.44 477.58 716.01 477.54 717.26 477.71C718.51 477.88 719.34 478.02 720.39 478.71C721.43 479.4 722.37 480.59 723.51 481.84C724.66 483.09 726.02 484.76 727.27 486.22C728.52 487.68 729.77 489.35 731.02 490.6C732.27 491.85 733.52 492.93 734.78 493.73C736.03 494.52 737.28 495.04 738.53 495.35C739.78 495.67 741.03 495.6 742.28 495.6C743.53 495.6 744.79 495.39 746.04 495.35C747.29 495.31 748.75 495.1 749.79 495.35C750.83 495.6 751.35 496.02 752.29 496.85C753.23 497.69 754.27 499.11 755.42 500.36C756.57 501.61 757.92 503.28 759.18 504.36C760.43 505.45 761.68 506.45 762.93 506.86C764.18 507.28 765.54 506.82 766.68 506.86C767.83 506.91 768.87 506.74 769.81 507.11C770.75 507.49 771.37 508.16 772.31 509.12C773.25 510.08 774.29 511.74 775.44 512.87C776.59 514 777.94 515.25 779.2 515.87C780.45 516.5 781.7 516.35 782.95 516.62C784.2 516.89 785.56 516.83 786.7 517.5C787.85 518.17 788.79 519.58 789.83 520.63C790.87 521.67 791.81 523.09 792.96 523.76C794.11 524.42 795.57 524.21 796.71 524.63C797.86 525.05 798.8 525.42 799.84 526.26C800.88 527.09 801.93 528.87 802.97 529.64C804.01 530.41 805.05 530.51 806.1 530.89C807.14 531.26 808.18 531.2 809.23 531.89C810.27 532.58 811.31 534.22 812.35 535.02C813.4 535.81 814.35 536.09 815.48 536.64C816.62 537.2 817.72 537.44 819.17 538.33C820.61 539.23 822.36 540.83 824.17 542C825.97 543.17 827.92 544.06 830 545.33C832.08 546.61 834.44 548.25 836.67 549.67C838.89 551.08 840.83 552.25 843.33 553.83C845.83 555.42 848.89 557.31 851.67 559.17C854.44 561.03 857.22 562.92 860 565C862.78 567.08 865.56 569.31 868.33 571.67C871.11 574.03 873.75 576.61 876.67 579.17C879.58 581.72 883.06 584.78 885.83 587C888.61 589.22 890.69 590.61 893.33 592.5C895.97 594.39 898.89 596.11 901.67 598.33C904.44 600.56 907.22 603.06 910 605.83C912.78 608.61 915.56 612.08 918.33 615C921.11 617.92 923.89 620.83 926.67 623.33C929.44 625.83 932.22 627.64 935 630C937.78 632.36 940.56 634.58 943.33 637.5C946.11 640.42 948.89 644.31 951.67 647.5C954.44 650.69 957.5 653.89 960 656.67C962.5 659.44 964.44 661.67 966.67 664.17C968.89 666.67 971.11 669.58 973.33 671.67C975.56 673.75 977.92 674.67 980 676.67C982.08 678.67 984.86 682.5 985.83 683.67"/>
</g>
<path class="fr" d="M589.3 399.3H984.7V694.2"/>
<path class="ax" d="M589.3 398.3V694.2H985.7"/>
</g>
<g id="p7">
<clipPath id="cp7"><rect x="1113.3" y="399.3" width="397.9" height="297"/></clipPath>
<path class="g" d="M1212.5 399.3V696.3M1312.5 399.3V696.3M1411.5 399.3V696.3M1113.3 441.5H1511.2M1113.3 527.5H1511.2M1113.3 611.5H1511.2"/>
<path class="tk" d="M1143.24 696.3v-5M1160.76 696.3v-5M1173.19 696.3v-5M1182.83 696.3v-5M1190.71 696.3v-5M1197.37 696.3v-5M1203.13 696.3v-5M1208.22 696.3v-5M1242.72 696.3v-5M1260.24 696.3v-5M1272.66 696.3v-5M1282.31 696.3v-5M1290.18 696.3v-5M1296.84 696.3v-5M1302.61 696.3v-5M1307.7 696.3v-5M1342.19 696.3v-5M1359.71 696.3v-5M1372.14 696.3v-5M1381.78 696.3v-5M1389.66 696.3v-5M1396.32 696.3v-5M1402.08 696.3v-5M1407.17 696.3v-5M1441.67 696.3v-5M1459.19 696.3v-5M1471.61 696.3v-5M1481.26 696.3v-5M1489.13 696.3v-5M1495.79 696.3v-5M1501.56 696.3v-5M1506.65 696.3v-5M1212.3 696.3v-6M1312.5 696.3v-6M1411.7 696.3v-6M1113.3 683.53h5M1113.3 676.06h5M1113.3 670.76h5M1113.3 666.64h5M1113.3 663.28h5M1113.3 660.44h5M1113.3 657.98h5M1113.3 655.81h5M1113.3 653.87h6.5M1113.3 641.1h5M1113.3 633.63h5M1113.3 628.33h5M1113.3 624.22h5M1113.3 620.86h5M1113.3 618.02h5M1113.3 615.55h5M1113.3 613.38h5M1113.3 611.44h6.5M1113.3 598.67h5M1113.3 591.2h5M1113.3 585.9h5M1113.3 581.79h5M1113.3 578.43h5M1113.3 575.59h5M1113.3 573.13h5M1113.3 570.96h5M1113.3 569.01h6.5M1113.3 556.24h5M1113.3 548.77h5M1113.3 543.47h5M1113.3 539.36h5M1113.3 536h5M1113.3 533.16h5M1113.3 530.7h5M1113.3 528.53h5M1113.3 526.59h6.5M1113.3 513.81h5M1113.3 506.34h5M1113.3 501.04h5M1113.3 496.93h5M1113.3 493.57h5M1113.3 490.73h5M1113.3 488.27h5M1113.3 486.1h5M1113.3 484.16h6.5M1113.3 471.38h5M1113.3 463.91h5M1113.3 458.61h5M1113.3 454.5h5M1113.3 451.14h5M1113.3 448.3h5M1113.3 445.84h5M1113.3 443.67h5M1113.3 441.73h6.5M1113.3 428.96h5M1113.3 421.48h5M1113.3 416.18h5M1113.3 412.07h5M1113.3 408.71h5M1113.3 405.87h5M1113.3 403.41h5M1113.3 401.24h5"/>
<g clip-path="url(#cp7)">
<path class="b" d="M1112.5 400.26C1113.84 400.26 1118.34 400.05 1120.51 400.26C1122.68 400.47 1123.85 400.84 1125.52 401.51C1127.19 402.18 1128.85 402.97 1130.52 404.26C1132.19 405.55 1133.86 407.49 1135.53 409.27C1137.2 411.04 1138.86 412.98 1140.53 414.9C1142.2 416.82 1143.87 418.75 1145.54 420.78C1147.21 422.8 1148.87 424.99 1150.54 427.03C1152.21 429.08 1153.88 431.1 1155.55 433.04C1157.22 434.98 1158.88 437 1160.55 438.67C1162.22 440.34 1163.89 441.86 1165.56 443.05C1167.23 444.24 1168.89 445.14 1170.56 445.8C1172.23 446.47 1173.9 446.85 1175.57 447.05C1177.24 447.26 1178.9 447.3 1180.57 447.05C1182.24 446.8 1183.91 446.22 1185.58 445.55C1187.25 444.89 1189.12 443.68 1190.58 443.05C1192.04 442.42 1193.09 441.86 1194.34 441.8C1195.59 441.74 1196.94 441.94 1198.09 442.67C1199.24 443.4 1200.07 444.76 1201.22 446.18C1202.37 447.6 1203.72 449.51 1204.97 451.18C1206.22 452.85 1207.47 454.94 1208.73 456.19C1209.98 457.44 1211.33 458.21 1212.48 458.69C1213.63 459.17 1214.46 459.27 1215.61 459.07C1216.75 458.86 1218.11 457.86 1219.36 457.44C1220.61 457.02 1221.97 456.56 1223.12 456.56C1224.26 456.56 1225.3 456.77 1226.24 457.44C1227.18 458.11 1227.81 459.32 1228.75 460.57C1229.68 461.82 1230.83 463.76 1231.87 464.95C1232.92 466.14 1233.96 467.22 1235 467.7C1236.04 468.18 1237.09 468.08 1238.13 467.82C1239.17 467.57 1240.22 466.37 1241.26 466.2C1242.3 466.03 1243.45 466.26 1244.39 466.82C1245.32 467.39 1245.95 468.53 1246.89 469.58C1247.83 470.62 1248.97 472.33 1250.02 473.08C1251.06 473.83 1252.1 474.08 1253.15 474.08C1254.19 474.08 1255.33 473.14 1256.27 473.08C1257.21 473.02 1257.94 473.12 1258.78 473.71C1259.61 474.29 1260.34 475.69 1261.28 476.58C1262.22 477.48 1263.36 478.67 1264.41 479.09C1265.45 479.5 1266.49 479.04 1267.53 479.09C1268.58 479.13 1269.72 478.88 1270.66 479.34C1271.6 479.8 1272.23 481.11 1273.17 481.84C1274.1 482.57 1275.25 483.4 1276.29 483.72C1277.34 484.03 1278.38 483.44 1279.42 483.72C1280.46 483.99 1281.51 484.72 1282.55 485.34C1283.59 485.97 1284.63 487.01 1285.68 487.47C1286.72 487.93 1287.76 487.68 1288.81 488.1C1289.85 488.51 1290.79 489.45 1291.93 489.97C1293.08 490.49 1294.44 490.7 1295.69 491.22C1296.94 491.74 1298.19 492.47 1299.44 493.1C1300.69 493.73 1301.94 494.35 1303.2 494.98C1304.45 495.6 1305.38 496.23 1306.95 496.85C1308.51 497.48 1310.7 497.9 1312.58 498.73C1314.46 499.56 1316.44 500.96 1318.21 501.86C1319.98 502.76 1321.34 503.17 1323.22 504.11C1325.09 505.05 1327.39 506.41 1329.47 507.49C1331.56 508.57 1333.64 509.57 1335.73 510.62C1337.81 511.66 1339.9 512.7 1341.98 513.75C1344.07 514.79 1346.36 515.94 1348.24 516.87C1350.12 517.81 1351.62 518.54 1353.25 519.38C1354.87 520.21 1355.99 520.72 1358 521.88C1360.01 523.04 1361.33 523.87 1365.33 526.33C1369.33 528.8 1376.44 533.11 1382 536.67C1387.56 540.22 1393.11 543.83 1398.67 547.67C1404.22 551.5 1409.78 555.44 1415.33 559.67C1420.89 563.89 1426.44 568.36 1432 573C1437.56 577.64 1443.11 582.44 1448.67 587.5C1454.22 592.56 1459.78 597.86 1465.33 603.33C1470.89 608.81 1474.08 612.75 1482 620.33C1489.92 627.92 1507.69 644.08 1512.83 648.83"/>
<path class="b" d="M1112.5 414.9C1113.63 414.9 1117.3 414.69 1119.26 414.9C1121.22 415.11 1122.6 415.42 1124.27 416.15C1125.93 416.88 1127.6 417.96 1129.27 419.28C1130.94 420.59 1132.61 422.26 1134.28 424.03C1135.94 425.8 1137.61 427.89 1139.28 429.91C1140.95 431.93 1142.62 434.19 1144.29 436.17C1145.95 438.15 1147.62 439.92 1149.29 441.8C1150.96 443.68 1152.63 445.66 1154.3 447.43C1155.96 449.2 1157.63 450.87 1159.3 452.43C1160.97 454 1162.64 455.56 1164.31 456.81C1165.97 458.07 1167.64 459.11 1169.31 459.94C1170.98 460.78 1172.65 461.46 1174.32 461.82C1175.98 462.17 1177.65 462.24 1179.32 462.07C1180.99 461.9 1182.66 461.38 1184.33 460.82C1185.99 460.25 1187.77 459.4 1189.33 458.69C1190.9 457.98 1192.36 456.77 1193.71 456.56C1195.07 456.36 1196.32 456.77 1197.46 457.44C1198.61 458.11 1199.45 459.11 1200.59 460.57C1201.74 462.03 1203.1 464.43 1204.35 466.2C1205.6 467.97 1206.85 469.85 1208.1 471.2C1209.35 472.56 1210.71 473.71 1211.85 474.33C1213 474.96 1213.84 475.17 1214.98 474.96C1216.13 474.75 1217.48 473.56 1218.74 473.08C1219.99 472.6 1221.34 472.14 1222.49 472.08C1223.64 472.02 1224.57 472.02 1225.62 472.7C1226.66 473.39 1227.7 474.89 1228.75 476.21C1229.79 477.52 1230.83 479.54 1231.87 480.59C1232.92 481.63 1233.96 482.15 1235 482.46C1236.04 482.78 1237.09 482.71 1238.13 482.46C1239.17 482.21 1240.22 481.07 1241.26 480.96C1242.3 480.86 1243.45 481.17 1244.39 481.84C1245.32 482.51 1245.95 483.82 1246.89 484.97C1247.83 486.11 1248.97 487.99 1250.02 488.72C1251.06 489.45 1252.1 489.41 1253.15 489.35C1254.19 489.28 1255.33 488.45 1256.27 488.35C1257.21 488.24 1257.94 488.14 1258.78 488.72C1259.61 489.3 1260.34 490.95 1261.28 491.85C1262.22 492.75 1263.36 493.79 1264.41 494.1C1265.45 494.41 1266.6 493.68 1267.53 493.73C1268.47 493.77 1269.1 493.79 1270.04 494.35C1270.98 494.91 1272.12 496.31 1273.17 497.1C1274.21 497.9 1275.25 498.73 1276.29 499.11C1277.34 499.48 1278.48 499.11 1279.42 499.36C1280.36 499.61 1280.99 499.98 1281.92 500.61C1282.86 501.23 1283.91 502.59 1285.05 503.11C1286.2 503.63 1287.66 503.32 1288.81 503.74C1289.95 504.15 1290.79 505.05 1291.93 505.61C1293.08 506.18 1294.44 506.53 1295.69 507.11C1296.94 507.7 1298.19 508.43 1299.44 509.12C1300.69 509.8 1301.94 510.58 1303.2 511.24C1304.45 511.91 1305.38 512.39 1306.95 513.12C1308.51 513.85 1310.7 514.79 1312.58 515.62C1314.46 516.46 1316.44 517.29 1318.21 518.13C1319.98 518.96 1321.34 519.69 1323.22 520.63C1325.09 521.57 1327.39 522.61 1329.47 523.76C1331.56 524.9 1333.64 526.36 1335.73 527.51C1337.81 528.66 1339.9 529.59 1341.98 530.64C1344.07 531.68 1346.36 532.83 1348.24 533.77C1350.12 534.7 1350.4 534.78 1353.25 536.27C1356.09 537.75 1360.54 539.82 1365.33 542.67C1370.13 545.51 1376.44 549.67 1382 553.33C1387.56 557 1393.11 560.61 1398.67 564.67C1404.22 568.72 1409.78 573.17 1415.33 577.67C1420.89 582.17 1426.44 586.78 1432 591.67C1437.56 596.56 1443.11 601.72 1448.67 607C1454.22 612.28 1454.64 613.11 1465.33 623.33C1476.03 633.56 1504.92 660.83 1512.83 668.33"/>
<path class="o" d="M1112.5 416.9C1113.84 416.63 1117.93 415.75 1120.51 415.27C1123.1 414.79 1125.52 414.44 1128.02 414.02C1130.52 413.6 1133.03 413.15 1135.53 412.77C1138.03 412.39 1140.53 412 1143.04 411.77C1145.54 411.54 1148.25 411.39 1150.54 411.39C1152.84 411.39 1154.71 411.39 1156.8 411.77C1158.88 412.14 1160.97 412.71 1163.06 413.65C1165.14 414.58 1167.23 415.94 1169.31 417.4C1171.4 418.86 1173.48 420.53 1175.57 422.4C1177.65 424.28 1179.74 426.47 1181.82 428.66C1183.91 430.85 1185.99 433.25 1188.08 435.54C1190.17 437.84 1192.25 440.23 1194.34 442.42C1196.42 444.61 1198.51 446.7 1200.59 448.68C1202.68 450.66 1204.91 452.79 1206.85 454.31C1208.79 455.83 1210.56 456.81 1212.23 457.81C1213.9 458.82 1215.25 459.65 1216.86 460.32C1218.46 460.98 1220.2 461.53 1221.86 461.82C1223.53 462.11 1225.2 462.17 1226.87 462.07C1228.54 461.96 1230.21 461.55 1231.87 461.19C1233.54 460.84 1235.42 460.25 1236.88 459.94C1238.34 459.63 1239.49 459.27 1240.63 459.32C1241.78 459.36 1242.72 459.61 1243.76 460.19C1244.8 460.78 1245.74 461.67 1246.89 462.82C1248.04 463.97 1249.39 465.64 1250.64 467.07C1251.89 468.51 1253.15 470.2 1254.4 471.45C1255.65 472.7 1256.9 473.73 1258.15 474.58C1259.4 475.44 1260.65 476.21 1261.9 476.58C1263.16 476.96 1264.41 476.85 1265.66 476.83C1266.91 476.81 1268.16 476.6 1269.41 476.46C1270.66 476.31 1272.02 475.85 1273.17 475.96C1274.31 476.06 1275.25 476.42 1276.29 477.08C1277.34 477.75 1278.27 478.86 1279.42 479.96C1280.57 481.07 1281.92 482.67 1283.18 483.72C1284.43 484.76 1285.68 485.7 1286.93 486.22C1288.18 486.74 1289.43 486.78 1290.68 486.84C1291.93 486.91 1293.39 486.43 1294.44 486.59C1295.48 486.76 1295.9 487.07 1296.94 487.84C1297.98 488.62 1299.44 490.28 1300.69 491.22C1301.94 492.16 1303.2 493.06 1304.45 493.48C1305.7 493.89 1306.95 493.54 1308.2 493.73C1309.45 493.91 1310.81 493.98 1311.95 494.6C1313.1 495.23 1314.04 496.58 1315.08 497.48C1316.12 498.38 1317.06 499.46 1318.21 499.98C1319.36 500.5 1320.82 500.25 1321.96 500.61C1323.11 500.96 1324.05 501.38 1325.09 502.11C1326.13 502.84 1327.07 504.3 1328.22 504.99C1329.37 505.68 1330.72 505.72 1331.97 506.24C1333.23 506.76 1334.48 507.34 1335.73 508.12C1336.98 508.89 1338.23 510.24 1339.48 510.87C1340.73 511.49 1341.98 511.18 1343.24 511.87C1344.49 512.56 1345.53 514.16 1346.99 515C1348.45 515.83 1350.16 515.98 1351.99 516.87C1353.83 517.77 1355.78 519.13 1358 520.38C1360.22 521.62 1362.72 522.84 1365.33 524.33C1367.94 525.83 1370.89 527.61 1373.67 529.33C1376.44 531.06 1379.22 532.89 1382 534.67C1384.78 536.44 1387.56 538.11 1390.33 540C1393.11 541.89 1395.89 543.97 1398.67 546C1401.44 548.03 1404.22 550.11 1407 552.17C1409.78 554.22 1412.56 556.19 1415.33 558.33C1418.11 560.47 1420.89 562.75 1423.67 565C1426.44 567.25 1429.22 569.44 1432 571.83C1434.78 574.22 1437.56 576.83 1440.33 579.33C1443.11 581.83 1445.89 584.28 1448.67 586.83C1451.44 589.39 1454.22 591.97 1457 594.67C1459.78 597.36 1462.56 600.22 1465.33 603C1468.11 605.78 1470.89 608.5 1473.67 611.33C1476.44 614.17 1479.22 617.17 1482 620C1484.78 622.83 1487.56 625.61 1490.33 628.33C1493.11 631.06 1495.89 633.75 1498.67 636.33C1501.44 638.92 1504.64 641.81 1507 643.83C1509.36 645.86 1511.86 647.72 1512.83 648.5"/>
<path class="o" d="M1112.5 427.78C1113.84 427.51 1117.93 426.6 1120.51 426.16C1123.1 425.72 1125.52 425.47 1128.02 425.16C1130.52 424.84 1133.03 424.57 1135.53 424.28C1138.03 423.99 1140.53 423.61 1143.04 423.41C1145.54 423.2 1148.25 423.03 1150.54 423.03C1152.84 423.03 1154.71 423.03 1156.8 423.41C1158.88 423.78 1160.97 424.41 1163.06 425.28C1165.14 426.16 1167.23 427.26 1169.31 428.66C1171.4 430.06 1173.48 431.79 1175.57 433.67C1177.65 435.54 1179.74 437.73 1181.82 439.92C1183.91 442.11 1185.99 444.47 1188.08 446.8C1190.17 449.14 1192.25 451.64 1194.34 453.94C1196.42 456.23 1198.51 458.52 1200.59 460.57C1202.68 462.61 1204.91 464.68 1206.85 466.2C1208.79 467.72 1210.56 468.66 1212.23 469.7C1213.9 470.74 1215.25 471.72 1216.86 472.45C1218.46 473.18 1220.2 473.73 1221.86 474.08C1223.53 474.44 1225.2 474.64 1226.87 474.58C1228.54 474.52 1230.21 474.06 1231.87 473.71C1233.54 473.35 1235.42 472.73 1236.88 472.45C1238.34 472.18 1239.49 471.97 1240.63 472.08C1241.78 472.18 1242.72 472.5 1243.76 473.08C1244.8 473.66 1245.74 474.44 1246.89 475.58C1248.04 476.73 1249.39 478.5 1250.64 479.96C1251.89 481.42 1253.15 483.09 1254.4 484.34C1255.65 485.59 1256.9 486.64 1258.15 487.47C1259.4 488.3 1260.65 488.99 1261.9 489.35C1263.16 489.7 1264.41 489.64 1265.66 489.6C1266.91 489.55 1268.16 489.22 1269.41 489.1C1270.66 488.97 1272.02 488.7 1273.17 488.85C1274.31 488.99 1275.25 489.26 1276.29 489.97C1277.34 490.68 1278.27 491.95 1279.42 493.1C1280.57 494.25 1281.92 495.81 1283.18 496.85C1284.43 497.9 1285.68 498.84 1286.93 499.36C1288.18 499.88 1289.43 499.94 1290.68 499.98C1291.93 500.02 1293.39 499.44 1294.44 499.61C1295.48 499.77 1295.9 500.19 1296.94 500.98C1297.98 501.78 1299.44 503.38 1300.69 504.36C1301.94 505.34 1303.2 506.34 1304.45 506.86C1305.7 507.39 1306.95 507.24 1308.2 507.49C1309.45 507.74 1310.81 507.74 1311.95 508.37C1313.1 508.99 1314.04 510.35 1315.08 511.24C1316.12 512.14 1317.06 513.22 1318.21 513.75C1319.36 514.27 1320.82 513.95 1321.96 514.37C1323.11 514.79 1324.05 515.46 1325.09 516.25C1326.13 517.04 1327.07 518.44 1328.22 519.13C1329.37 519.81 1330.72 519.81 1331.97 520.38C1333.23 520.94 1334.48 521.73 1335.73 522.5C1336.98 523.28 1338.23 524.38 1339.48 525.01C1340.73 525.63 1341.98 525.53 1343.24 526.26C1344.49 526.99 1345.53 528.49 1346.99 529.39C1348.45 530.28 1350.16 530.6 1351.99 531.64C1353.83 532.68 1355.78 534.22 1358 535.64C1360.22 537.06 1362.72 538.52 1365.33 540.17C1367.94 541.81 1370.89 543.69 1373.67 545.5C1376.44 547.31 1379.22 549.11 1382 551C1384.78 552.89 1387.56 554.83 1390.33 556.83C1393.11 558.83 1395.89 560.94 1398.67 563C1401.44 565.06 1404.22 566.94 1407 569.17C1409.78 571.39 1412.56 573.97 1415.33 576.33C1418.11 578.69 1420.89 580.92 1423.67 583.33C1426.44 585.75 1429.22 588.31 1432 590.83C1434.78 593.36 1437.56 595.92 1440.33 598.5C1443.11 601.08 1445.89 603.64 1448.67 606.33C1451.44 609.03 1454.22 611.89 1457 614.67C1459.78 617.44 1462.56 620.17 1465.33 623C1468.11 625.83 1470.89 628.83 1473.67 631.67C1476.44 634.5 1479.22 637.22 1482 640C1484.78 642.78 1487.56 645.67 1490.33 648.33C1493.11 651 1495.89 653.5 1498.67 656C1501.44 658.5 1504.64 661.33 1507 663.33C1509.36 665.33 1511.86 667.22 1512.83 668"/>
</g>
<path class="fr" d="M1113.3 399.3H1511.2V696.3"/>
<path class="ax" d="M1113.3 398.3V696.3H1512.2"/>
</g>
<g id="p8">
<clipPath id="cp8"><rect x="1561.6" y="398.3" width="401.2" height="299.5"/></clipPath>
<path class="g" d="M1662.5 398.3V697.8M1762.5 398.3V697.8M1862.5 398.3V697.8M1561.6 440.5H1962.8M1561.6 526.5H1962.8M1561.6 612.5H1962.8"/>
<path class="tk" d="M1591.79 697.8v-5M1609.46 697.8v-5M1621.99 697.8v-5M1631.71 697.8v-5M1639.65 697.8v-5M1646.36 697.8v-5M1652.18 697.8v-5M1657.31 697.8v-5M1692.09 697.8v-5M1709.76 697.8v-5M1722.29 697.8v-5M1732.01 697.8v-5M1739.95 697.8v-5M1746.66 697.8v-5M1752.48 697.8v-5M1757.61 697.8v-5M1792.39 697.8v-5M1810.06 697.8v-5M1822.59 697.8v-5M1832.31 697.8v-5M1840.25 697.8v-5M1846.96 697.8v-5M1852.78 697.8v-5M1857.91 697.8v-5M1892.69 697.8v-5M1910.36 697.8v-5M1922.89 697.8v-5M1932.61 697.8v-5M1940.55 697.8v-5M1947.26 697.8v-5M1953.08 697.8v-5M1958.21 697.8v-5M1662.2 697.8v-6M1762.5 697.8v-6M1862.5 697.8v-6M1561.6 684.92h5M1561.6 677.39h5M1561.6 672.04h5M1561.6 667.89h5M1561.6 664.51h5M1561.6 661.64h5M1561.6 659.16h5M1561.6 656.97h5M1561.6 655.01h6.5M1561.6 642.13h5M1561.6 634.6h5M1561.6 629.25h5M1561.6 625.11h5M1561.6 621.72h5M1561.6 618.86h5M1561.6 616.37h5M1561.6 614.19h5M1561.6 612.23h6.5M1561.6 599.35h5M1561.6 591.81h5M1561.6 586.47h5M1561.6 582.32h5M1561.6 578.93h5M1561.6 576.07h5M1561.6 573.59h5M1561.6 571.4h5M1561.6 569.44h6.5M1561.6 556.56h5M1561.6 549.03h5M1561.6 543.68h5M1561.6 539.54h5M1561.6 536.15h5M1561.6 533.28h5M1561.6 530.8h5M1561.6 528.61h5M1561.6 526.66h6.5M1561.6 513.78h5M1561.6 506.24h5M1561.6 500.9h5M1561.6 496.75h5M1561.6 493.36h5M1561.6 490.5h5M1561.6 488.02h5M1561.6 485.83h5M1561.6 483.87h6.5M1561.6 470.99h5M1561.6 463.46h5M1561.6 458.11h5M1561.6 453.97h5M1561.6 450.58h5M1561.6 447.71h5M1561.6 445.23h5M1561.6 443.04h5M1561.6 441.09h6.5M1561.6 428.21h5M1561.6 420.67h5M1561.6 415.33h5M1561.6 411.18h5M1561.6 407.79h5M1561.6 404.93h5M1561.6 402.45h5M1561.6 400.26h5"/>
<g clip-path="url(#cp8)">
<path class="b" d="M1561.01 424.28C1561.84 424.22 1564.34 423.91 1566.01 423.91C1567.68 423.91 1569.35 423.84 1571.02 424.28C1572.68 424.72 1574.35 425.53 1576.02 426.53C1577.69 427.53 1579.36 428.79 1581.03 430.29C1582.69 431.79 1584.36 433.62 1586.03 435.54C1587.7 437.46 1589.37 439.78 1591.04 441.8C1592.7 443.82 1594.37 445.7 1596.04 447.68C1597.71 449.66 1599.38 451.75 1601.05 453.69C1602.71 455.63 1604.38 457.59 1606.05 459.32C1607.72 461.05 1609.39 462.65 1611.06 464.07C1612.72 465.49 1614.39 466.8 1616.06 467.82C1617.73 468.85 1619.4 469.7 1621.07 470.2C1622.73 470.7 1624.4 470.81 1626.07 470.83C1627.74 470.85 1629.41 470.74 1631.08 470.33C1632.74 469.91 1634.62 468.97 1636.08 468.33C1637.54 467.68 1638.58 466.87 1639.83 466.45C1641.09 466.03 1642.34 465.72 1643.59 465.82C1644.84 465.93 1646.19 466.28 1647.34 467.07C1648.49 467.87 1649.32 469.16 1650.47 470.58C1651.62 472 1652.97 473.91 1654.22 475.58C1655.47 477.25 1656.73 479.29 1657.98 480.59C1659.23 481.88 1660.58 482.82 1661.73 483.34C1662.88 483.86 1663.71 483.92 1664.86 483.72C1666.01 483.51 1667.36 482.61 1668.61 482.09C1669.86 481.57 1671.22 480.59 1672.37 480.59C1673.51 480.59 1674.45 481.15 1675.49 482.09C1676.54 483.03 1677.58 484.8 1678.62 486.22C1679.67 487.64 1680.71 489.51 1681.75 490.6C1682.79 491.68 1683.84 492.41 1684.88 492.72C1685.92 493.04 1686.96 492.83 1688.01 492.47C1689.05 492.12 1690.2 490.81 1691.14 490.6C1692.07 490.39 1692.8 490.64 1693.64 491.22C1694.47 491.81 1695.2 492.95 1696.14 494.1C1697.08 495.25 1698.23 497.19 1699.27 498.11C1700.31 499.02 1701.35 499.56 1702.4 499.61C1703.44 499.65 1704.59 498.44 1705.52 498.36C1706.46 498.27 1707.19 498.52 1708.03 499.11C1708.86 499.69 1709.59 501.02 1710.53 501.86C1711.47 502.69 1712.61 503.74 1713.66 504.11C1714.7 504.49 1715.74 504.07 1716.79 504.11C1717.83 504.15 1718.98 503.86 1719.91 504.36C1720.85 504.86 1721.48 506.24 1722.42 507.11C1723.35 507.99 1724.4 509.14 1725.54 509.62C1726.69 510.1 1728.15 509.62 1729.3 509.99C1730.45 510.37 1731.38 511.18 1732.43 511.87C1733.47 512.56 1734.51 513.75 1735.55 514.12C1736.6 514.5 1737.64 513.7 1738.68 514.12C1739.73 514.54 1740.77 516 1741.81 516.62C1742.85 517.25 1743.79 517.25 1744.94 517.87C1746.09 518.5 1747.44 519.75 1748.69 520.38C1749.94 521 1751.2 520.96 1752.45 521.63C1753.7 522.3 1754.53 523.55 1756.2 524.38C1757.87 525.22 1760.58 525.7 1762.46 526.63C1764.33 527.57 1765.79 529.14 1767.46 530.01C1769.13 530.89 1770.8 531.05 1772.47 531.89C1774.13 532.72 1776.01 534.22 1777.47 535.02C1778.93 535.81 1779.14 535.54 1781.23 536.64C1783.31 537.75 1785.76 539.22 1790 541.67C1794.24 544.11 1801.11 548.06 1806.67 551.33C1812.22 554.61 1817.78 558 1823.33 561.33C1828.89 564.67 1833.47 566.78 1840 571.33C1846.53 575.89 1856.11 583.92 1862.5 588.67C1868.89 593.42 1873.19 595.61 1878.33 599.83C1883.47 604.06 1888.61 609.28 1893.33 614C1898.06 618.72 1901.94 623.78 1906.67 628.17C1911.39 632.56 1916.94 635.89 1921.67 640.33C1926.39 644.78 1930.56 649.83 1935 654.83C1939.44 659.83 1944.44 666.44 1948.33 670.33C1952.22 674.22 1955.69 675.47 1958.33 678.17C1960.97 680.86 1963.19 685.11 1964.17 686.5"/>
<path class="o" d="M1561.01 428.66C1562.26 428.66 1566.01 428.72 1568.51 428.66C1571.02 428.6 1573.52 428.49 1576.02 428.29C1578.52 428.08 1581.03 427.66 1583.53 427.41C1586.03 427.16 1588.53 426.93 1591.04 426.78C1593.54 426.64 1596.25 426.49 1598.54 426.53C1600.84 426.58 1602.92 426.72 1604.8 427.03C1606.68 427.35 1608.14 427.83 1609.8 428.41C1611.47 428.99 1613.14 429.66 1614.81 430.54C1616.48 431.41 1618.15 432.37 1619.81 433.67C1621.48 434.96 1623.15 436.63 1624.82 438.3C1626.49 439.96 1628.16 441.84 1629.82 443.68C1631.49 445.51 1633.16 447.43 1634.83 449.31C1636.5 451.18 1638.17 453.06 1639.83 454.94C1641.5 456.81 1643.17 458.79 1644.84 460.57C1646.51 462.34 1648.18 464.01 1649.84 465.57C1651.51 467.14 1653.18 468.6 1654.85 469.95C1656.52 471.31 1658.19 472.6 1659.85 473.71C1661.52 474.81 1663.19 475.81 1664.86 476.58C1666.53 477.36 1668.2 477.92 1669.86 478.34C1671.53 478.75 1673.2 479.02 1674.87 479.09C1676.54 479.15 1678.21 478.94 1679.87 478.71C1681.54 478.48 1683.31 478.02 1684.88 477.71C1686.44 477.4 1687.9 476.83 1689.26 476.83C1690.61 476.83 1691.87 477.08 1693.01 477.71C1694.16 478.34 1694.99 479.38 1696.14 480.59C1697.29 481.8 1698.64 483.51 1699.89 484.97C1701.15 486.43 1702.4 488.03 1703.65 489.35C1704.9 490.66 1706.15 491.91 1707.4 492.85C1708.65 493.79 1709.9 494.48 1711.16 494.98C1712.41 495.48 1713.66 495.75 1714.91 495.85C1716.16 495.96 1717.41 495.71 1718.66 495.6C1719.91 495.5 1721.27 495.12 1722.42 495.23C1723.56 495.33 1724.5 495.54 1725.54 496.23C1726.59 496.92 1727.53 498.11 1728.67 499.36C1729.82 500.61 1731.18 502.55 1732.43 503.74C1733.68 504.92 1734.93 505.93 1736.18 506.49C1737.43 507.05 1738.79 507.01 1739.93 507.11C1741.08 507.22 1742.02 506.84 1743.06 507.11C1744.1 507.39 1745.15 507.84 1746.19 508.74C1747.23 509.64 1748.17 511.31 1749.32 512.49C1750.47 513.68 1751.82 515.1 1753.07 515.87C1754.32 516.64 1755.57 516.85 1756.83 517.12C1758.08 517.4 1759.54 517.12 1760.58 517.5C1761.62 517.87 1762.14 518.44 1763.08 519.38C1764.02 520.31 1765.06 522.3 1766.21 523.13C1767.36 523.96 1768.71 523.92 1769.96 524.38C1771.22 524.84 1772.47 525.01 1773.72 525.88C1774.97 526.76 1776.22 528.74 1777.47 529.64C1778.72 530.53 1780.18 530.85 1781.23 531.26C1782.27 531.68 1782.69 531.41 1783.73 532.14C1784.77 532.87 1786.57 534.94 1787.48 535.64C1788.39 536.34 1788.05 535.83 1789.17 536.33C1790.28 536.84 1792.5 537.64 1794.17 538.67C1795.83 539.69 1797.36 541.31 1799.17 542.5C1800.97 543.69 1802.92 544.58 1805 545.83C1807.08 547.08 1809.44 548.61 1811.67 550C1813.89 551.39 1816.11 552.72 1818.33 554.17C1820.56 555.61 1822.78 557.19 1825 558.67C1827.22 560.14 1829.17 561.25 1831.67 563C1834.17 564.75 1837.22 567.03 1840 569.17C1842.78 571.31 1845.56 573.47 1848.33 575.83C1851.11 578.19 1854.31 581.31 1856.67 583.33C1859.03 585.36 1860.28 586.33 1862.5 588C1864.72 589.67 1867.36 591.47 1870 593.33C1872.64 595.19 1875.56 597 1878.33 599.17C1881.11 601.33 1884.17 603.97 1886.67 606.33C1889.17 608.69 1891.11 610.92 1893.33 613.33C1895.56 615.75 1897.78 618.47 1900 620.83C1902.22 623.19 1904.44 625.5 1906.67 627.5C1908.89 629.5 1910.83 630.81 1913.33 632.83C1915.83 634.86 1919.17 637.22 1921.67 639.67C1924.17 642.11 1926.11 645.08 1928.33 647.5C1930.56 649.92 1932.78 651.94 1935 654.17C1937.22 656.39 1939.44 658.25 1941.67 660.83C1943.89 663.42 1946.39 667.44 1948.33 669.67C1950.28 671.89 1951.67 672.86 1953.33 674.17C1955 675.47 1956.53 675.56 1958.33 677.5C1960.14 679.44 1963.19 684.44 1964.17 685.83"/>
</g>
<path class="fr" d="M1561.6 398.3H1962.8V697.8"/>
<path class="ax" d="M1561.6 397.3V697.8H1963.8"/>
</g>
<g id="p9">
<clipPath id="cp9"><rect x="136.3" y="744.5" width="397.4" height="297"/></clipPath>
<path class="g" d="M235.5 744.5V1041.5M334.5 744.5V1041.5M434.5 744.5V1041.5M136.3 818.5H533.7M136.3 892.5H533.7M136.3 967.5H533.7"/>
<path class="tk" d="M166.21 1041.5v-5M183.7 1041.5v-5M196.11 1041.5v-5M205.74 1041.5v-5M213.61 1041.5v-5M220.26 1041.5v-5M226.02 1041.5v-5M231.1 1041.5v-5M265.56 1041.5v-5M283.05 1041.5v-5M295.46 1041.5v-5M305.09 1041.5v-5M312.96 1041.5v-5M319.61 1041.5v-5M325.37 1041.5v-5M330.45 1041.5v-5M364.91 1041.5v-5M382.4 1041.5v-5M394.81 1041.5v-5M404.44 1041.5v-5M412.31 1041.5v-5M418.96 1041.5v-5M424.72 1041.5v-5M429.8 1041.5v-5M464.26 1041.5v-5M481.75 1041.5v-5M494.16 1041.5v-5M503.79 1041.5v-5M511.66 1041.5v-5M518.31 1041.5v-5M524.07 1041.5v-5M529.15 1041.5v-5M235.6 1041.5v-6M334.6 1041.5v-6M434.5 1041.5v-6M136.3 1030.32h5M136.3 1023.79h5M136.3 1019.15h5M136.3 1015.55h5M136.3 1012.61h5M136.3 1010.13h5M136.3 1007.97h5M136.3 1006.07h5M136.3 1004.38h6.5M136.3 993.2h5M136.3 986.66h5M136.3 982.02h5M136.3 978.43h5M136.3 975.49h5M136.3 973h5M136.3 970.85h5M136.3 968.95h5M136.3 967.25h6.5M136.3 956.07h5M136.3 949.54h5M136.3 944.9h5M136.3 941.3h5M136.3 938.36h5M136.3 935.88h5M136.3 933.72h5M136.3 931.82h5M136.3 930.12h6.5M136.3 918.95h5M136.3 912.41h5M136.3 907.77h5M136.3 904.18h5M136.3 901.24h5M136.3 898.75h5M136.3 896.6h5M136.3 894.7h5M136.3 893h6.5M136.3 881.82h5M136.3 875.29h5M136.3 870.65h5M136.3 867.05h5M136.3 864.11h5M136.3 861.63h5M136.3 859.47h5M136.3 857.57h5M136.3 855.88h6.5M136.3 844.7h5M136.3 838.16h5M136.3 833.52h5M136.3 829.93h5M136.3 826.99h5M136.3 824.5h5M136.3 822.35h5M136.3 820.45h5M136.3 818.75h6.5M136.3 807.57h5M136.3 801.04h5M136.3 796.4h5M136.3 792.8h5M136.3 789.86h5M136.3 787.38h5M136.3 785.22h5M136.3 783.32h5M136.3 781.62h6.5M136.3 770.45h5M136.3 763.91h5M136.3 759.27h5M136.3 755.68h5M136.3 752.74h5M136.3 750.25h5M136.3 748.1h5M136.3 746.2h5"/>
<g clip-path="url(#cp9)">
<path class="b" d="M135.5 760.02C136.42 759.79 139.05 758.98 141.01 758.65C142.97 758.31 145.39 757.92 147.27 758.02C149.14 758.12 150.6 758.54 152.27 759.27C153.94 760 155.61 761.04 157.28 762.4C158.94 763.75 160.61 765.53 162.28 767.4C163.95 769.28 165.62 771.58 167.29 773.66C168.95 775.75 170.62 777.94 172.29 779.92C173.96 781.9 175.63 783.77 177.3 785.55C178.96 787.32 180.63 788.99 182.3 790.55C183.97 792.12 185.64 793.72 187.31 794.93C188.97 796.14 190.64 797.08 192.31 797.81C193.98 798.54 195.65 799.06 197.32 799.31C198.98 799.56 200.65 799.56 202.32 799.31C203.99 799.06 205.66 798.39 207.33 797.81C208.99 797.23 210.77 796.43 212.33 795.81C213.9 795.18 215.36 794.2 216.71 794.06C218.07 793.91 219.21 794.26 220.46 794.93C221.72 795.6 222.97 796.7 224.22 798.06C225.47 799.42 226.72 801.5 227.97 803.07C229.22 804.63 230.47 806.23 231.73 807.44C232.98 808.65 234.23 809.91 235.48 810.32C236.73 810.74 237.98 810.22 239.23 809.95C240.48 809.68 241.74 809.01 242.99 808.7C244.24 808.38 245.59 807.97 246.74 808.07C247.89 808.17 248.83 808.49 249.87 809.32C250.91 810.16 251.95 811.87 253 813.08C254.04 814.28 255.08 815.74 256.13 816.58C257.17 817.41 258.21 818 259.25 818.08C260.3 818.16 261.34 817.39 262.38 817.08C263.42 816.77 264.57 816.14 265.51 816.2C266.45 816.27 267.07 816.68 268.01 817.45C268.95 818.23 270.1 819.79 271.14 820.83C272.18 821.88 273.12 823.29 274.27 823.71C275.42 824.13 276.88 823.34 278.02 823.34C279.17 823.34 280.11 823.23 281.15 823.71C282.19 824.19 283.24 825.44 284.28 826.21C285.32 826.98 286.26 828.07 287.41 828.34C288.55 828.61 290.12 827.67 291.16 827.84C292.2 828.01 292.72 828.63 293.66 829.34C294.6 830.05 295.64 831.57 296.79 832.09C297.94 832.62 299.4 832.14 300.54 832.47C301.69 832.8 302.53 833.47 303.67 834.1C304.82 834.72 306.18 835.76 307.43 836.22C308.68 836.68 309.93 836.37 311.18 836.85C312.43 837.33 313.68 838.43 314.93 839.1C316.19 839.77 317.44 840.29 318.69 840.85C319.94 841.42 321.19 841.9 322.44 842.48C323.69 843.06 324.94 843.73 326.2 844.36C327.45 844.98 328.59 845.57 329.95 846.23C331.3 846.9 332.66 847.46 334.33 848.36C336 849.26 337.98 850.51 339.96 851.61C341.94 852.72 344.13 853.85 346.22 854.99C348.3 856.14 350.39 857.35 352.47 858.5C354.56 859.64 356.64 860.69 358.73 861.87C360.81 863.06 362.9 864.38 364.98 865.63C367.07 866.88 369.36 868.23 371.24 869.38C373.12 870.53 374.62 871.47 376.25 872.51C377.87 873.55 379.71 874.64 381 875.64C382.29 876.64 382.11 877.08 384 878.5C385.89 879.92 389.56 882.19 392.33 884.17C395.11 886.14 397.89 888.17 400.67 890.33C403.44 892.5 406.22 894.75 409 897.17C411.78 899.58 414.56 902.28 417.33 904.83C420.11 907.39 422.81 909.97 425.67 912.5C428.53 915.03 431.72 917.36 434.5 920C437.28 922.64 439.64 925.5 442.33 928.33C445.03 931.17 447.89 934.17 450.67 937C453.44 939.83 456.22 942.61 459 945.33C461.78 948.06 464.83 950.83 467.33 953.33C469.83 955.83 471.78 957.83 474 960.33C476.22 962.83 478.44 965.19 480.67 968.33C482.89 971.47 485.11 975.42 487.33 979.17C489.56 982.92 491.78 986.94 494 990.83C496.22 994.72 498.44 998.69 500.67 1002.5C502.89 1006.31 505.11 1010.47 507.33 1013.67C509.56 1016.86 511.78 1019.22 514 1021.67C516.22 1024.11 518.44 1026.39 520.67 1028.33C522.89 1030.28 524.97 1031.5 527.33 1033.33C529.69 1035.17 533.58 1038.33 534.83 1039.33"/>
<path class="o" d="M135.5 787.8C136.84 787.05 140.93 784.71 143.51 783.3C146.1 781.88 148.52 780.65 151.02 779.29C153.52 777.94 156.03 776.58 158.53 775.16C161.03 773.74 163.74 772.08 166.04 770.78C168.33 769.49 170.21 768.38 172.29 767.4C174.38 766.42 176.67 765.49 178.55 764.9C180.42 764.32 182.09 764.05 183.55 763.9C185.01 763.75 186.06 763.8 187.31 764.03C188.56 764.26 189.6 764.55 191.06 765.28C192.52 766.01 194.4 767.11 196.07 768.41C197.73 769.7 199.4 771.39 201.07 773.04C202.74 774.68 204.41 776.52 206.08 778.29C207.74 780.06 209.41 781.9 211.08 783.67C212.75 785.44 214.42 787.26 216.09 788.93C217.75 790.59 219.42 792.16 221.09 793.68C222.76 795.2 224.43 796.66 226.1 798.06C227.76 799.46 229.54 800.96 231.1 802.06C232.66 803.17 234.02 803.94 235.48 804.69C236.94 805.44 238.29 806.07 239.86 806.57C241.42 807.07 243.2 807.49 244.86 807.69C246.53 807.9 248.2 807.92 249.87 807.82C251.54 807.72 253.21 807.34 254.87 807.07C256.54 806.8 258.42 806.38 259.88 806.19C261.34 806.01 262.49 805.84 263.63 805.94C264.78 806.05 265.72 806.3 266.76 806.82C267.8 807.34 268.74 808.03 269.89 809.07C271.04 810.11 272.39 811.74 273.64 813.08C274.89 814.41 276.15 815.93 277.4 817.08C278.65 818.23 279.9 819.23 281.15 819.96C282.4 820.69 283.65 821.15 284.9 821.46C286.16 821.77 287.41 821.83 288.66 821.83C289.91 821.83 291.16 821.52 292.41 821.46C293.66 821.4 295.02 821.19 296.17 821.46C297.31 821.73 298.25 822.33 299.29 823.09C300.34 823.84 301.27 824.92 302.42 825.96C303.57 827.01 304.92 828.47 306.18 829.34C307.43 830.22 308.68 830.86 309.93 831.22C311.18 831.57 312.43 831.32 313.68 831.47C314.93 831.61 316.29 831.61 317.44 832.09C318.58 832.57 319.52 833.45 320.56 834.35C321.61 835.24 322.55 836.68 323.69 837.47C324.84 838.27 326.2 838.73 327.45 839.1C328.7 839.48 330.05 839.37 331.2 839.73C332.35 840.08 333.29 840.5 334.33 841.23C335.37 841.96 336.31 843.27 337.46 844.11C338.6 844.94 339.96 845.67 341.21 846.23C342.46 846.8 343.82 846.86 344.96 847.48C346.11 848.11 347.05 849.22 348.09 849.99C349.13 850.76 350.07 851.49 351.22 852.11C352.37 852.74 353.83 853.05 354.97 853.74C356.12 854.43 357.06 855.47 358.1 856.24C359.14 857.01 360.08 857.81 361.23 858.37C362.38 858.93 363.73 858.83 364.98 859.62C366.24 860.41 367.49 862.23 368.74 863.13C369.99 864.02 371.24 864.17 372.49 865C373.74 865.84 374.83 867.09 376.25 868.13C377.66 869.17 379.71 870.34 381 871.26C382.29 872.18 382.11 872.27 384 873.67C385.89 875.07 389.56 877.58 392.33 879.67C395.11 881.75 397.89 883.89 400.67 886.17C403.44 888.44 406.22 890.81 409 893.33C411.78 895.86 414.56 898.61 417.33 901.33C420.11 904.06 422.81 906.78 425.67 909.67C428.53 912.56 431.72 915.78 434.5 918.67C437.28 921.56 439.64 924.08 442.33 927C445.03 929.92 447.89 933.31 450.67 936.17C453.44 939.03 456.22 941.58 459 944.17C461.78 946.75 464.83 949.31 467.33 951.67C469.83 954.03 471.78 955.78 474 958.33C476.22 960.89 478.44 963.81 480.67 967C482.89 970.19 485.11 973.81 487.33 977.5C489.56 981.19 491.78 985.14 494 989.17C496.22 993.19 498.44 997.64 500.67 1001.67C502.89 1005.69 505.11 1009.86 507.33 1013.33C509.56 1016.81 511.78 1019.86 514 1022.5C516.22 1025.14 518.44 1027.08 520.67 1029.17C522.89 1031.25 524.97 1032.86 527.33 1035C529.69 1037.14 533.58 1040.83 534.83 1042"/>
</g>
<path class="fr" d="M136.3 744.5H533.7V1041.5"/>
<path class="ax" d="M136.3 743.5V1041.5H534.7"/>
</g>
<g id="p10">
<clipPath id="cp10"><rect x="583.3" y="742" width="402.9" height="301"/></clipPath>
<path class="g" d="M684.5 742V1043M784.5 742V1043M885.5 742V1043M583.3 817.5H986.2M583.3 892.5H986.2M583.3 968.5H986.2"/>
<path class="tk" d="M613.62 1043v-5M631.36 1043v-5M643.94 1043v-5M653.7 1043v-5M661.68 1043v-5M668.42 1043v-5M674.26 1043v-5M679.42 1043v-5M714.35 1043v-5M732.08 1043v-5M744.67 1043v-5M754.43 1043v-5M762.4 1043v-5M769.15 1043v-5M774.99 1043v-5M780.14 1043v-5M815.07 1043v-5M832.81 1043v-5M845.39 1043v-5M855.15 1043v-5M863.13 1043v-5M869.87 1043v-5M875.71 1043v-5M880.87 1043v-5M915.8 1043v-5M933.53 1043v-5M946.12 1043v-5M955.88 1043v-5M963.85 1043v-5M970.6 1043v-5M976.44 1043v-5M981.59 1043v-5M684.2 1043v-6M784.4 1043v-6M885.8 1043v-6M583.3 1031.67h5M583.3 1025.05h5M583.3 1020.35h5M583.3 1016.7h5M583.3 1013.72h5M583.3 1011.2h5M583.3 1009.02h5M583.3 1007.1h5M583.3 1005.38h6.5M583.3 994.05h5M583.3 987.42h5M583.3 982.72h5M583.3 979.08h5M583.3 976.1h5M583.3 973.58h5M583.3 971.4h5M583.3 969.47h5M583.3 967.75h6.5M583.3 956.42h5M583.3 949.8h5M583.3 945.1h5M583.3 941.45h5M583.3 938.47h5M583.3 935.95h5M583.3 933.77h5M583.3 931.85h5M583.3 930.12h6.5M583.3 918.8h5M583.3 912.17h5M583.3 907.47h5M583.3 903.83h5M583.3 900.85h5M583.3 898.33h5M583.3 896.15h5M583.3 894.22h5M583.3 892.5h6.5M583.3 881.17h5M583.3 874.55h5M583.3 869.85h5M583.3 866.2h5M583.3 863.22h5M583.3 860.7h5M583.3 858.52h5M583.3 856.6h5M583.3 854.88h6.5M583.3 843.55h5M583.3 836.92h5M583.3 832.22h5M583.3 828.58h5M583.3 825.6h5M583.3 823.08h5M583.3 820.9h5M583.3 818.97h5M583.3 817.25h6.5M583.3 805.92h5M583.3 799.3h5M583.3 794.6h5M583.3 790.95h5M583.3 787.97h5M583.3 785.45h5M583.3 783.27h5M583.3 781.35h5M583.3 779.62h6.5M583.3 768.3h5M583.3 761.67h5M583.3 756.97h5M583.3 753.33h5M583.3 750.35h5M583.3 747.83h5M583.3 745.65h5M583.3 743.72h5"/>
<g clip-path="url(#cp10)">
<path class="b" d="M582.5 761.9C583.42 761.55 586.05 760.23 588.01 759.77C589.97 759.31 592.39 759.04 594.27 759.15C596.14 759.25 597.6 759.67 599.27 760.4C600.94 761.13 602.61 762.17 604.28 763.53C605.94 764.88 607.61 766.76 609.28 768.53C610.95 770.31 612.62 772.29 614.29 774.16C615.95 776.04 617.62 777.92 619.29 779.79C620.96 781.67 622.63 783.65 624.3 785.42C625.96 787.2 627.63 788.87 629.3 790.43C630.97 791.99 632.64 793.52 634.31 794.81C635.97 796.1 637.64 797.25 639.31 798.19C640.98 799.13 642.65 799.9 644.32 800.44C645.98 800.98 647.65 801.44 649.32 801.44C650.99 801.44 652.66 800.96 654.33 800.44C655.99 799.92 657.66 799.04 659.33 798.31C661 797.58 662.88 796.29 664.34 796.06C665.8 795.83 666.84 796.31 668.09 796.94C669.34 797.56 670.59 798.6 671.84 799.81C673.1 801.02 674.35 802.63 675.6 804.19C676.85 805.76 678.1 807.88 679.35 809.2C680.6 810.51 681.85 811.55 683.11 812.08C684.36 812.6 685.61 812.53 686.86 812.33C688.11 812.12 689.26 811.2 690.61 810.82C691.97 810.45 693.74 809.93 694.99 810.07C696.24 810.22 697.08 810.8 698.12 811.7C699.16 812.6 700.21 814.27 701.25 815.45C702.29 816.64 703.33 818.06 704.38 818.83C705.42 819.6 706.46 820.02 707.5 820.08C708.55 820.15 709.59 819.46 710.63 819.21C711.68 818.96 712.82 818.44 713.76 818.58C714.7 818.73 715.32 819.29 716.26 820.08C717.2 820.88 718.35 822.34 719.39 823.34C720.43 824.34 721.37 825.67 722.52 826.09C723.67 826.51 725.13 825.84 726.27 825.84C727.42 825.84 728.36 825.53 729.4 826.09C730.44 826.65 731.49 828.28 732.53 829.22C733.57 830.16 734.51 831.3 735.66 831.72C736.8 832.14 738.26 831.62 739.41 831.72C740.56 831.82 741.6 831.82 742.54 832.35C743.48 832.87 744 834.18 745.04 834.85C746.08 835.52 747.54 835.97 748.8 836.35C750.05 836.73 751.4 836.52 752.55 837.1C753.7 837.69 754.43 839.23 755.68 839.85C756.93 840.48 758.7 840.27 760.06 840.85C761.41 841.44 762.46 842.69 763.81 843.36C765.17 844.02 766.83 844.23 768.19 844.86C769.55 845.48 770.48 846.28 771.94 847.11C773.4 847.95 774.91 848.88 776.95 849.86C778.99 850.84 781.91 851.85 784.21 852.99C786.5 854.14 788.59 855.49 790.71 856.75C792.84 858 794.88 859.25 796.97 860.5C799.05 861.75 801.14 862.9 803.23 864.25C805.31 865.61 807.4 867.28 809.48 868.63C811.57 869.99 813.65 871.14 815.74 872.39C817.82 873.64 819.95 874.93 821.99 876.14C824.04 877.35 826.61 878.44 828 879.64C829.39 880.84 828.28 881.52 830.33 883.33C832.39 885.14 837.28 888.33 840.33 890.5C843.39 892.67 845.89 894.25 848.67 896.33C851.44 898.42 854.22 900.64 857 903C859.78 905.36 862.56 908.06 865.33 910.5C868.11 912.94 870.25 914.89 873.67 917.67C877.08 920.44 882.5 924.53 885.83 927.17C889.17 929.81 890.97 931.06 893.67 933.5C896.36 935.94 899.22 938.86 902 941.83C904.78 944.81 907.83 948.31 910.33 951.33C912.83 954.36 914.78 957 917 960C919.22 963 921.44 966.33 923.67 969.33C925.89 972.33 928.11 975.39 930.33 978C932.56 980.61 934.78 982.64 937 985C939.22 987.36 941.72 989.78 943.67 992.17C945.61 994.56 947 996.56 948.67 999.33C950.33 1002.11 952 1005.67 953.67 1008.83C955.33 1012 957 1015.69 958.67 1018.33C960.33 1020.97 962.28 1022.92 963.67 1024.67C965.06 1026.42 965.75 1026.89 967 1028.83C968.25 1030.78 969.78 1033.64 971.17 1036.33C972.56 1039.03 974.64 1043.56 975.33 1045"/>
<path class="o" d="M582.5 783.3C583.84 782.65 587.93 780.73 590.51 779.42C593.1 778.1 595.52 776.75 598.02 775.41C600.52 774.08 603.03 772.77 605.53 771.41C608.03 770.05 610.74 768.49 613.04 767.28C615.33 766.07 617.21 765.09 619.29 764.15C621.38 763.21 623.67 762.23 625.55 761.65C627.42 761.07 628.99 760.82 630.55 760.65C632.12 760.48 633.47 760.38 634.93 760.65C636.39 760.92 637.75 761.48 639.31 762.28C640.88 763.07 642.65 764.09 644.32 765.4C645.98 766.72 647.65 768.49 649.32 770.16C650.99 771.83 652.66 773.6 654.33 775.41C655.99 777.23 657.66 779.23 659.33 781.05C661 782.86 662.67 784.63 664.34 786.3C666 787.97 667.67 789.53 669.34 791.06C671.01 792.58 672.68 794.04 674.35 795.43C676.01 796.83 677.72 798.29 679.35 799.44C680.98 800.59 682.65 801.52 684.11 802.32C685.57 803.11 686.61 803.63 688.11 804.19C689.61 804.76 691.45 805.38 693.12 805.69C694.78 806.01 696.45 806.11 698.12 806.07C699.79 806.03 701.46 805.72 703.13 805.44C704.79 805.17 706.67 804.65 708.13 804.44C709.59 804.23 710.74 804.09 711.88 804.19C713.03 804.3 713.97 804.55 715.01 805.07C716.05 805.59 716.99 806.28 718.14 807.32C719.29 808.36 720.64 809.97 721.89 811.33C723.15 812.68 724.4 814.2 725.65 815.45C726.9 816.71 728.15 817.94 729.4 818.83C730.65 819.73 731.9 820.42 733.16 820.83C734.41 821.25 735.66 821.25 736.91 821.34C738.16 821.42 739.41 821.34 740.66 821.34C741.91 821.34 743.37 821.17 744.42 821.34C745.46 821.5 745.98 821.71 746.92 822.34C747.86 822.96 749 824.05 750.05 825.09C751.09 826.13 752.03 827.49 753.18 828.59C754.32 829.7 755.68 831.1 756.93 831.72C758.18 832.35 759.43 832.2 760.68 832.35C761.93 832.49 763.29 832.28 764.44 832.6C765.58 832.91 766.52 833.43 767.56 834.22C768.61 835.02 769.55 836.31 770.69 837.35C771.84 838.39 773.2 839.71 774.45 840.48C775.7 841.25 776.95 841.67 778.2 841.98C779.45 842.29 780.91 841.98 781.95 842.36C783 842.73 783.52 843.36 784.46 844.23C785.39 845.11 786.54 846.71 787.58 847.61C788.63 848.51 789.57 849.13 790.71 849.61C791.86 850.09 793.32 849.93 794.47 850.49C795.61 851.05 796.55 852.1 797.59 852.99C798.64 853.89 799.58 855.14 800.72 855.87C801.87 856.6 803.23 856.6 804.48 857.37C805.73 858.14 806.98 859.5 808.23 860.5C809.48 861.5 810.73 862.54 811.98 863.38C813.24 864.21 814.49 864.59 815.74 865.5C816.99 866.42 818.24 867.9 819.49 868.88C820.74 869.86 821.83 870.34 823.25 871.39C824.66 872.43 825.71 873.4 828 875.14C830.29 876.88 834.11 879.63 837 881.83C839.89 884.03 842.56 886.06 845.33 888.33C848.11 890.61 850.89 893.06 853.67 895.5C856.44 897.94 859.22 900.36 862 903C864.78 905.64 867.56 908.61 870.33 911.33C873.11 914.06 876.08 916.89 878.67 919.33C881.25 921.78 883.33 923.78 885.83 926C888.33 928.22 890.97 930.17 893.67 932.67C896.36 935.17 899.22 938.03 902 941C904.78 943.97 907.83 947.44 910.33 950.5C912.83 953.56 914.78 956.28 917 959.33C919.22 962.39 921.44 965.86 923.67 968.83C925.89 971.81 928.11 974.67 930.33 977.17C932.56 979.67 934.78 981.61 937 983.83C939.22 986.06 941.72 988.14 943.67 990.5C945.61 992.86 947 995.08 948.67 998C950.33 1000.92 952 1004.67 953.67 1008C955.33 1011.33 957 1015.22 958.67 1018C960.33 1020.78 962.14 1023 963.67 1024.67C965.19 1026.33 966.44 1026.19 967.83 1028C969.22 1029.81 970.61 1032.67 972 1035.5C973.39 1038.33 975.47 1043.42 976.17 1045"/>
</g>
<path class="fr" d="M583.3 742H986.2V1043"/>
<path class="ax" d="M583.3 741V1043H987.2"/>
</g>
<g id="p11">
<clipPath id="cp11"><rect x="1113.3" y="743.3" width="400.4" height="299.4"/></clipPath>
<path class="g" d="M1212.5 743.3V1042.7M1313.5 743.3V1042.7M1413.5 743.3V1042.7M1113.3 818.5H1513.7M1113.3 892.5H1513.7M1113.3 968.5H1513.7"/>
<path class="tk" d="M1143.43 1042.7v-5M1161.06 1042.7v-5M1173.57 1042.7v-5M1183.27 1042.7v-5M1191.19 1042.7v-5M1197.89 1042.7v-5M1203.7 1042.7v-5M1208.82 1042.7v-5M1243.53 1042.7v-5M1261.16 1042.7v-5M1273.67 1042.7v-5M1283.37 1042.7v-5M1291.29 1042.7v-5M1297.99 1042.7v-5M1303.8 1042.7v-5M1308.92 1042.7v-5M1343.63 1042.7v-5M1361.26 1042.7v-5M1373.77 1042.7v-5M1383.47 1042.7v-5M1391.39 1042.7v-5M1398.09 1042.7v-5M1403.9 1042.7v-5M1409.02 1042.7v-5M1443.73 1042.7v-5M1461.36 1042.7v-5M1473.87 1042.7v-5M1483.57 1042.7v-5M1491.49 1042.7v-5M1498.19 1042.7v-5M1504 1042.7v-5M1509.12 1042.7v-5M1212.6 1042.7v-6M1313.5 1042.7v-6M1413.5 1042.7v-6M1113.3 1031.43h5M1113.3 1024.84h5M1113.3 1020.17h5M1113.3 1016.54h5M1113.3 1013.58h5M1113.3 1011.07h5M1113.3 1008.9h5M1113.3 1006.99h5M1113.3 1005.28h6.5M1113.3 994.01h5M1113.3 987.42h5M1113.3 982.74h5M1113.3 979.12h5M1113.3 976.15h5M1113.3 973.65h5M1113.3 971.48h5M1113.3 969.56h5M1113.3 967.85h6.5M1113.3 956.58h5M1113.3 949.99h5M1113.3 945.32h5M1113.3 941.69h5M1113.3 938.73h5M1113.3 936.22h5M1113.3 934.05h5M1113.3 932.14h5M1113.3 930.42h6.5M1113.3 919.16h5M1113.3 912.57h5M1113.3 907.89h5M1113.3 904.27h5M1113.3 901.3h5M1113.3 898.8h5M1113.3 896.63h5M1113.3 894.71h5M1113.3 893h6.5M1113.3 881.73h5M1113.3 875.14h5M1113.3 870.47h5M1113.3 866.84h5M1113.3 863.88h5M1113.3 861.37h5M1113.3 859.2h5M1113.3 857.29h5M1113.3 855.58h6.5M1113.3 844.31h5M1113.3 837.72h5M1113.3 833.04h5M1113.3 829.42h5M1113.3 826.45h5M1113.3 823.95h5M1113.3 821.78h5M1113.3 819.86h5M1113.3 818.15h6.5M1113.3 806.88h5M1113.3 800.29h5M1113.3 795.62h5M1113.3 791.99h5M1113.3 789.03h5M1113.3 786.52h5M1113.3 784.35h5M1113.3 782.44h5M1113.3 780.72h6.5M1113.3 769.46h5M1113.3 762.87h5M1113.3 758.19h5M1113.3 754.57h5M1113.3 751.6h5M1113.3 749.1h5M1113.3 746.93h5M1113.3 745.01h5"/>
<g clip-path="url(#cp11)">
<path class="b" d="M1112.5 758.65C1113.42 758.48 1116.05 757.92 1118.01 757.65C1119.97 757.37 1122.39 756.92 1124.27 757.02C1126.14 757.12 1127.6 757.54 1129.27 758.27C1130.94 759 1132.61 760.04 1134.28 761.4C1135.94 762.75 1137.61 764.53 1139.28 766.4C1140.95 768.28 1142.62 770.58 1144.29 772.66C1145.95 774.75 1147.62 776.94 1149.29 778.92C1150.96 780.9 1152.63 782.77 1154.3 784.55C1155.96 786.32 1157.63 787.99 1159.3 789.55C1160.97 791.12 1162.64 792.72 1164.31 793.93C1165.97 795.14 1167.64 796.04 1169.31 796.81C1170.98 797.58 1172.65 798.25 1174.32 798.56C1175.98 798.87 1177.65 798.9 1179.32 798.69C1180.99 798.48 1182.66 797.96 1184.33 797.31C1185.99 796.66 1187.77 795.58 1189.33 794.81C1190.9 794.04 1192.36 792.89 1193.71 792.68C1195.07 792.47 1196.21 792.87 1197.46 793.56C1198.72 794.24 1199.97 795.43 1201.22 796.81C1202.47 798.19 1203.72 800.21 1204.97 801.81C1206.22 803.42 1207.47 805.26 1208.73 806.44C1209.98 807.63 1211.23 808.53 1212.48 808.95C1213.73 809.36 1214.98 809.16 1216.23 808.95C1217.48 808.74 1218.74 808.01 1219.99 807.7C1221.24 807.38 1222.59 807.01 1223.74 807.07C1224.89 807.13 1225.83 807.28 1226.87 808.07C1227.91 808.86 1228.95 810.57 1230 811.82C1231.04 813.08 1232.08 814.74 1233.13 815.58C1234.17 816.41 1235.21 816.75 1236.25 816.83C1237.3 816.91 1238.34 816.35 1239.38 816.08C1240.42 815.81 1241.57 815.14 1242.51 815.2C1243.45 815.27 1244.07 815.72 1245.01 816.45C1245.95 817.18 1247.1 818.54 1248.14 819.58C1249.18 820.63 1250.12 822.25 1251.27 822.71C1252.42 823.17 1253.88 822.27 1255.02 822.34C1256.17 822.4 1257.11 822.54 1258.15 823.09C1259.19 823.63 1260.24 824.88 1261.28 825.59C1262.32 826.3 1263.26 827.09 1264.41 827.34C1265.55 827.59 1267.12 826.92 1268.16 827.09C1269.2 827.26 1269.72 827.67 1270.66 828.34C1271.6 829.01 1272.64 830.51 1273.79 831.09C1274.94 831.68 1276.4 831.51 1277.54 831.84C1278.69 832.18 1279.53 832.43 1280.67 833.1C1281.82 833.76 1283.18 835.29 1284.43 835.85C1285.68 836.41 1286.93 835.95 1288.18 836.47C1289.43 837 1290.68 838.35 1291.93 838.98C1293.19 839.6 1294.44 839.67 1295.69 840.23C1296.94 840.79 1298.19 841.73 1299.44 842.36C1300.69 842.98 1301.94 843.4 1303.2 843.98C1304.45 844.57 1305.28 845.09 1306.95 845.86C1308.62 846.63 1311.12 847.57 1313.21 848.61C1315.29 849.65 1317.38 851.01 1319.46 852.12C1321.55 853.22 1323.63 854.16 1325.72 855.24C1327.8 856.33 1329.89 857.47 1331.97 858.62C1334.06 859.77 1336.14 860.92 1338.23 862.13C1340.32 863.33 1342.4 864.63 1344.49 865.88C1346.57 867.13 1348.49 868.28 1350.74 869.63C1352.99 870.99 1356.62 872.76 1358 874.01C1359.38 875.27 1357.17 875.53 1359 877.17C1360.83 878.8 1365.94 881.75 1369 883.83C1372.06 885.92 1374.56 887.72 1377.33 889.67C1380.11 891.61 1382.89 893.42 1385.67 895.5C1388.44 897.58 1391.22 899.81 1394 902.17C1396.78 904.53 1399.08 906.81 1402.33 909.67C1405.58 912.53 1410.17 916.14 1413.5 919.33C1416.83 922.53 1419.47 925.72 1422.33 928.83C1425.19 931.94 1427.89 935.08 1430.67 938C1433.44 940.92 1436.22 943.61 1439 946.33C1441.78 949.06 1444.56 951.61 1447.33 954.33C1450.11 957.06 1453.17 959.83 1455.67 962.67C1458.17 965.5 1460.11 968.08 1462.33 971.33C1464.56 974.58 1466.78 978.42 1469 982.17C1471.22 985.92 1473.44 989.89 1475.67 993.83C1477.89 997.78 1480.11 1002.08 1482.33 1005.83C1484.56 1009.58 1486.78 1013.11 1489 1016.33C1491.22 1019.56 1493.44 1022.72 1495.67 1025.17C1497.89 1027.61 1500.11 1029.19 1502.33 1031C1504.56 1032.81 1506.92 1034.42 1509 1036C1511.08 1037.58 1513.86 1039.75 1514.83 1040.5"/>
<path class="o" d="M1112.5 786.17C1113.84 785.49 1117.93 783.4 1120.51 782.05C1123.1 780.69 1125.52 779.35 1128.02 778.04C1130.52 776.73 1133.03 775.54 1135.53 774.16C1138.03 772.79 1140.74 771.08 1143.04 769.78C1145.33 768.49 1147.21 767.38 1149.29 766.4C1151.38 765.42 1153.67 764.53 1155.55 763.9C1157.42 763.28 1159.09 762.82 1160.55 762.65C1162.01 762.48 1163.06 762.63 1164.31 762.9C1165.56 763.17 1166.6 763.53 1168.06 764.28C1169.52 765.03 1171.4 766.11 1173.07 767.41C1174.73 768.7 1176.4 770.39 1178.07 772.04C1179.74 773.68 1181.41 775.52 1183.08 777.29C1184.74 779.06 1186.41 780.9 1188.08 782.67C1189.75 784.44 1191.42 786.26 1193.09 787.93C1194.75 789.59 1196.42 791.16 1198.09 792.68C1199.76 794.2 1201.43 795.7 1203.1 797.06C1204.76 798.42 1206.54 799.71 1208.1 800.81C1209.66 801.92 1211.02 802.9 1212.48 803.69C1213.94 804.48 1215.29 805.01 1216.86 805.57C1218.42 806.13 1220.2 806.78 1221.86 807.07C1223.53 807.36 1225.2 807.42 1226.87 807.32C1228.54 807.22 1230.21 806.8 1231.87 806.44C1233.54 806.09 1235.42 805.46 1236.88 805.19C1238.34 804.92 1239.49 804.76 1240.63 804.82C1241.78 804.88 1242.72 805.09 1243.76 805.57C1244.8 806.05 1245.74 806.65 1246.89 807.7C1248.04 808.74 1249.39 810.47 1250.64 811.82C1251.89 813.18 1253.15 814.64 1254.4 815.83C1255.65 817.02 1256.9 818.12 1258.15 818.96C1259.4 819.79 1260.65 820.46 1261.9 820.83C1263.16 821.21 1264.41 821.25 1265.66 821.21C1266.91 821.17 1268.16 820.71 1269.41 820.58C1270.66 820.46 1272.02 820.25 1273.17 820.46C1274.31 820.67 1275.25 821.08 1276.29 821.83C1277.34 822.59 1278.27 823.88 1279.42 824.96C1280.57 826.05 1281.92 827.4 1283.18 828.34C1284.43 829.28 1285.68 830.18 1286.93 830.59C1288.18 831.01 1289.43 830.76 1290.68 830.84C1291.93 830.93 1293.29 830.68 1294.44 831.09C1295.58 831.51 1296.52 832.45 1297.56 833.35C1298.61 834.24 1299.55 835.6 1300.69 836.47C1301.84 837.35 1303.2 838.12 1304.45 838.6C1305.7 839.08 1306.95 839.02 1308.2 839.35C1309.45 839.69 1310.81 839.89 1311.95 840.6C1313.1 841.31 1314.04 842.69 1315.08 843.61C1316.12 844.52 1317.06 845.57 1318.21 846.11C1319.36 846.65 1320.82 846.38 1321.96 846.86C1323.11 847.34 1324.05 848.22 1325.09 848.99C1326.13 849.76 1327.07 850.86 1328.22 851.49C1329.37 852.12 1330.83 852.18 1331.97 852.74C1333.12 853.3 1334.06 854.1 1335.1 854.87C1336.14 855.64 1337.08 856.68 1338.23 857.37C1339.38 858.06 1340.73 858.2 1341.98 859C1343.24 859.79 1344.49 861.23 1345.74 862.13C1346.99 863.02 1348.24 863.54 1349.49 864.38C1350.74 865.21 1351.83 866.15 1353.25 867.13C1354.66 868.11 1356.76 869.5 1358 870.26C1359.24 871.01 1358.83 870.52 1360.67 871.67C1362.5 872.82 1366.22 875.19 1369 877.17C1371.78 879.14 1374.56 881.22 1377.33 883.5C1380.11 885.78 1382.89 888.33 1385.67 890.83C1388.44 893.33 1391.22 895.92 1394 898.5C1396.78 901.08 1399.08 903.08 1402.33 906.33C1405.58 909.58 1410.17 914.44 1413.5 918C1416.83 921.56 1419.47 924.56 1422.33 927.67C1425.19 930.78 1427.89 933.78 1430.67 936.67C1433.44 939.56 1436.22 942.42 1439 945C1441.78 947.58 1444.56 949.58 1447.33 952.17C1450.11 954.75 1453.17 957.72 1455.67 960.5C1458.17 963.28 1460.11 965.64 1462.33 968.83C1464.56 972.03 1466.78 975.78 1469 979.67C1471.22 983.56 1473.44 988 1475.67 992.17C1477.89 996.33 1480.11 1000.78 1482.33 1004.67C1484.56 1008.56 1486.78 1012.17 1489 1015.5C1491.22 1018.83 1493.44 1022.03 1495.67 1024.67C1497.89 1027.31 1500.11 1029.25 1502.33 1031.33C1504.56 1033.42 1506.92 1035.33 1509 1037.17C1511.08 1039 1513.86 1041.47 1514.83 1042.33"/>
</g>
<path class="fr" d="M1113.3 743.3H1513.7V1042.7"/>
<path class="ax" d="M1113.3 742.3V1042.7H1514.7"/>
</g>
<g id="p12">
<clipPath id="cp12"><rect x="1562.3" y="742" width="402.9" height="301.3"/></clipPath>
<path class="g" d="M1662.5 742V1043.3M1763.5 742V1043.3M1864.5 742V1043.3M1562.3 817.5H1965.2M1562.3 892.5H1965.2M1562.3 968.5H1965.2"/>
<path class="tk" d="M1592.62 1043.3v-5M1610.36 1043.3v-5M1622.94 1043.3v-5M1632.7 1043.3v-5M1640.68 1043.3v-5M1647.42 1043.3v-5M1653.26 1043.3v-5M1658.42 1043.3v-5M1693.35 1043.3v-5M1711.08 1043.3v-5M1723.67 1043.3v-5M1733.43 1043.3v-5M1741.4 1043.3v-5M1748.15 1043.3v-5M1753.99 1043.3v-5M1759.14 1043.3v-5M1794.07 1043.3v-5M1811.81 1043.3v-5M1824.39 1043.3v-5M1834.15 1043.3v-5M1842.13 1043.3v-5M1848.87 1043.3v-5M1854.71 1043.3v-5M1859.87 1043.3v-5M1894.8 1043.3v-5M1912.53 1043.3v-5M1925.12 1043.3v-5M1934.88 1043.3v-5M1942.85 1043.3v-5M1949.6 1043.3v-5M1955.44 1043.3v-5M1960.59 1043.3v-5M1662.7 1043.3v-6M1763.8 1043.3v-6M1864.3 1043.3v-6M1562.3 1031.96h5M1562.3 1025.33h5M1562.3 1020.62h5M1562.3 1016.98h5M1562.3 1013.99h5M1562.3 1011.47h5M1562.3 1009.29h5M1562.3 1007.36h5M1562.3 1005.64h6.5M1562.3 994.3h5M1562.3 987.67h5M1562.3 982.96h5M1562.3 979.31h5M1562.3 976.33h5M1562.3 973.81h5M1562.3 971.62h5M1562.3 969.7h5M1562.3 967.97h6.5M1562.3 956.64h5M1562.3 950.01h5M1562.3 945.3h5M1562.3 941.65h5M1562.3 938.67h5M1562.3 936.15h5M1562.3 933.96h5M1562.3 932.04h5M1562.3 930.31h6.5M1562.3 918.97h5M1562.3 912.34h5M1562.3 907.64h5M1562.3 903.99h5M1562.3 901.01h5M1562.3 898.48h5M1562.3 896.3h5M1562.3 894.37h5M1562.3 892.65h6.5M1562.3 881.31h5M1562.3 874.68h5M1562.3 869.97h5M1562.3 866.33h5M1562.3 863.34h5M1562.3 860.82h5M1562.3 858.64h5M1562.3 856.71h5M1562.3 854.99h6.5M1562.3 843.65h5M1562.3 837.02h5M1562.3 832.31h5M1562.3 828.66h5M1562.3 825.68h5M1562.3 823.16h5M1562.3 820.97h5M1562.3 819.05h5M1562.3 817.33h6.5M1562.3 805.99h5M1562.3 799.36h5M1562.3 794.65h5M1562.3 791h5M1562.3 788.02h5M1562.3 785.5h5M1562.3 783.31h5M1562.3 781.39h5M1562.3 779.66h6.5M1562.3 768.32h5M1562.3 761.69h5M1562.3 756.99h5M1562.3 753.34h5M1562.3 750.36h5M1562.3 747.83h5M1562.3 745.65h5M1562.3 743.72h5"/>
<g clip-path="url(#cp12)">
<path class="b" d="M1561.5 762.15C1562.42 761.75 1565.05 760.27 1567.01 759.77C1568.97 759.27 1571.39 759.04 1573.27 759.15C1575.14 759.25 1576.6 759.67 1578.27 760.4C1579.94 761.13 1581.61 762.17 1583.28 763.53C1584.94 764.88 1586.61 766.76 1588.28 768.53C1589.95 770.31 1591.62 772.29 1593.29 774.16C1594.95 776.04 1596.62 777.92 1598.29 779.79C1599.96 781.67 1601.63 783.65 1603.3 785.42C1604.96 787.2 1606.63 788.87 1608.3 790.43C1609.97 791.99 1611.64 793.52 1613.31 794.81C1614.97 796.1 1616.64 797.25 1618.31 798.19C1619.98 799.13 1621.65 799.9 1623.32 800.44C1624.98 800.98 1626.65 801.44 1628.32 801.44C1629.99 801.44 1631.66 800.96 1633.33 800.44C1634.99 799.92 1636.66 799.04 1638.33 798.31C1640 797.58 1641.88 796.29 1643.34 796.06C1644.8 795.83 1645.84 796.31 1647.09 796.94C1648.34 797.56 1649.59 798.6 1650.84 799.81C1652.1 801.02 1653.35 802.63 1654.6 804.19C1655.85 805.76 1657.1 807.88 1658.35 809.2C1659.6 810.51 1660.85 811.55 1662.11 812.08C1663.36 812.6 1664.61 812.53 1665.86 812.33C1667.11 812.12 1668.26 811.2 1669.61 810.82C1670.97 810.45 1672.74 809.93 1673.99 810.07C1675.24 810.22 1676.08 810.8 1677.12 811.7C1678.16 812.6 1679.21 814.27 1680.25 815.45C1681.29 816.64 1682.33 818.06 1683.38 818.83C1684.42 819.6 1685.46 820.02 1686.5 820.08C1687.55 820.15 1688.59 819.46 1689.63 819.21C1690.68 818.96 1691.82 818.44 1692.76 818.58C1693.7 818.73 1694.32 819.29 1695.26 820.08C1696.2 820.88 1697.35 822.34 1698.39 823.34C1699.43 824.34 1700.37 825.67 1701.52 826.09C1702.67 826.51 1704.13 825.84 1705.27 825.84C1706.42 825.84 1707.36 825.53 1708.4 826.09C1709.44 826.65 1710.49 828.28 1711.53 829.22C1712.57 830.16 1713.51 831.3 1714.66 831.72C1715.8 832.14 1717.26 831.62 1718.41 831.72C1719.56 831.82 1720.6 831.82 1721.54 832.35C1722.48 832.87 1723 834.18 1724.04 834.85C1725.08 835.52 1726.54 835.97 1727.8 836.35C1729.05 836.73 1730.4 836.52 1731.55 837.1C1732.7 837.69 1733.43 839.23 1734.68 839.85C1735.93 840.48 1737.7 840.27 1739.06 840.85C1740.41 841.44 1741.46 842.69 1742.81 843.36C1744.17 844.02 1745.83 844.23 1747.19 844.86C1748.55 845.48 1749.48 846.28 1750.94 847.11C1752.4 847.95 1753.82 848.82 1755.95 849.86C1758.08 850.91 1761.41 852.22 1763.71 853.37C1766 854.51 1767.67 855.56 1769.71 856.75C1771.76 857.93 1773.88 859.25 1775.97 860.5C1778.05 861.75 1780.14 862.9 1782.23 864.25C1784.31 865.61 1786.4 867.28 1788.48 868.63C1790.57 869.99 1792.65 871.14 1794.74 872.39C1796.82 873.64 1798.95 874.93 1800.99 876.14C1803.04 877.35 1801.17 875.03 1807 879.64C1812.83 884.26 1829.78 898.55 1836 903.83C1842.22 909.11 1841.56 908.92 1844.33 911.33C1847.11 913.75 1849.33 915.69 1852.67 918.33C1856 920.97 1861 924.58 1864.33 927.17C1867.67 929.75 1869.89 931.33 1872.67 933.83C1875.44 936.33 1878.22 939.19 1881 942.17C1883.78 945.14 1886.83 948.61 1889.33 951.67C1891.83 954.72 1893.78 957.5 1896 960.5C1898.22 963.5 1900.44 966.69 1902.67 969.67C1904.89 972.64 1907.11 975.61 1909.33 978.33C1911.56 981.06 1913.78 983.56 1916 986C1918.22 988.44 1920.72 990.67 1922.67 993C1924.61 995.33 1926 997.22 1927.67 1000C1929.33 1002.78 1931 1006.58 1932.67 1009.67C1934.33 1012.75 1936 1015.94 1937.67 1018.5C1939.33 1021.06 1941.28 1023.14 1942.67 1025C1944.06 1026.86 1944.75 1027.83 1946 1029.67C1947.25 1031.5 1948.64 1033.44 1950.17 1036C1951.69 1038.56 1954.33 1043.5 1955.17 1045"/>
<path class="o" d="M1561.5 781.42C1562.84 780.84 1566.93 779.06 1569.51 777.92C1572.1 776.77 1574.52 775.73 1577.02 774.54C1579.52 773.35 1582.03 771.99 1584.53 770.78C1587.03 769.58 1589.74 768.39 1592.04 767.28C1594.33 766.18 1596.21 765.09 1598.29 764.15C1600.38 763.21 1602.67 762.23 1604.55 761.65C1606.42 761.07 1607.99 760.82 1609.55 760.65C1611.12 760.48 1612.47 760.38 1613.93 760.65C1615.39 760.92 1616.75 761.48 1618.31 762.28C1619.88 763.07 1621.65 764.09 1623.32 765.4C1624.98 766.72 1626.65 768.49 1628.32 770.16C1629.99 771.83 1631.66 773.6 1633.33 775.41C1634.99 777.23 1636.66 779.23 1638.33 781.05C1640 782.86 1641.67 784.63 1643.34 786.3C1645 787.97 1646.67 789.53 1648.34 791.06C1650.01 792.58 1651.68 794.04 1653.35 795.43C1655.01 796.83 1656.79 798.29 1658.35 799.44C1659.92 800.59 1661.27 801.52 1662.73 802.32C1664.19 803.11 1665.55 803.63 1667.11 804.19C1668.67 804.76 1670.45 805.38 1672.12 805.69C1673.78 806.01 1675.45 806.11 1677.12 806.07C1678.79 806.03 1680.46 805.72 1682.13 805.44C1683.79 805.17 1685.67 804.65 1687.13 804.44C1688.59 804.23 1689.74 804.09 1690.88 804.19C1692.03 804.3 1692.97 804.55 1694.01 805.07C1695.05 805.59 1695.99 806.28 1697.14 807.32C1698.29 808.36 1699.64 809.97 1700.89 811.33C1702.15 812.68 1703.4 814.2 1704.65 815.45C1705.9 816.71 1707.15 817.94 1708.4 818.83C1709.65 819.73 1710.9 820.4 1712.16 820.83C1713.41 821.27 1714.66 821.36 1715.91 821.46C1717.16 821.56 1718.41 821.46 1719.66 821.46C1720.91 821.46 1722.37 821.31 1723.42 821.46C1724.46 821.61 1724.98 821.73 1725.92 822.34C1726.86 822.94 1728 824.05 1729.05 825.09C1730.09 826.13 1731.03 827.49 1732.18 828.59C1733.32 829.7 1734.68 831.1 1735.93 831.72C1737.18 832.35 1738.43 832.2 1739.68 832.35C1740.93 832.49 1742.29 832.28 1743.44 832.6C1744.58 832.91 1745.52 833.43 1746.56 834.22C1747.61 835.02 1748.55 836.31 1749.69 837.35C1750.84 838.39 1752.2 839.71 1753.45 840.48C1754.7 841.25 1755.95 841.67 1757.2 841.98C1758.45 842.29 1759.87 841.98 1760.95 842.36C1762.04 842.73 1762.77 843.36 1763.71 844.23C1764.65 845.11 1765.58 846.71 1766.58 847.61C1767.59 848.51 1768.57 849.13 1769.71 849.61C1770.86 850.09 1772.32 849.93 1773.47 850.49C1774.61 851.05 1775.55 852.1 1776.59 852.99C1777.64 853.89 1778.58 855.14 1779.72 855.87C1780.87 856.6 1782.23 856.6 1783.48 857.37C1784.73 858.14 1785.98 859.5 1787.23 860.5C1788.48 861.5 1789.73 862.54 1790.98 863.38C1792.24 864.21 1793.49 864.59 1794.74 865.5C1795.99 866.42 1797.24 867.9 1798.49 868.88C1799.74 869.86 1800.83 870.34 1802.25 871.39C1803.66 872.43 1800.54 869.81 1807 875.14C1813.46 880.46 1833.94 897.25 1841 903.33C1848.06 909.42 1846.56 908.94 1849.33 911.67C1852.11 914.39 1855.17 917.36 1857.67 919.67C1860.17 921.97 1861.83 923.42 1864.33 925.5C1866.83 927.58 1869.89 929.67 1872.67 932.17C1875.44 934.67 1878.22 937.44 1881 940.5C1883.78 943.56 1886.83 947.36 1889.33 950.5C1891.83 953.64 1893.78 956.28 1896 959.33C1898.22 962.39 1900.44 965.86 1902.67 968.83C1904.89 971.81 1907.11 974.58 1909.33 977.17C1911.56 979.75 1913.78 981.97 1916 984.33C1918.22 986.69 1920.72 988.92 1922.67 991.33C1924.61 993.75 1926 995.92 1927.67 998.83C1929.33 1001.75 1931 1005.64 1932.67 1008.83C1934.33 1012.03 1936 1015.36 1937.67 1018C1939.33 1020.64 1941.14 1022.72 1942.67 1024.67C1944.19 1026.61 1945.44 1027.86 1946.83 1029.67C1948.22 1031.47 1949.47 1032.94 1951 1035.5C1952.53 1038.06 1955.17 1043.42 1956 1045"/>
</g>
<path class="fr" d="M1562.3 742H1965.2V1043.3"/>
<path class="ax" d="M1562.3 741V1043.3H1966.2"/>
</g>
<text transform="translate(60.28 74.2) scale(1.023 1.000)" font-size="27.1">10</text>
<text transform="translate(93 64.8) scale(0.973 1.000)" font-size="17.3">-02</text>
<text transform="translate(60.28 168) scale(1.023 1.000)" font-size="27.1">10</text>
<text transform="translate(93 158.6) scale(0.934 1.000)" font-size="17.3">-04</text>
<text transform="translate(60.28 267) scale(1.023 1.000)" font-size="27.1">10</text>
<text transform="translate(93 257.6) scale(0.973 1.000)" font-size="17.3">-06</text>
<text transform="translate(60.28 366.7) scale(1.023 1.000)" font-size="27.1">10</text>
<text transform="translate(93 357.3) scale(0.934 1.000)" font-size="17.3">-08</text>
<text transform="translate(60.48 451.3) scale(1.023 1.000)" font-size="27.1">10</text>
<text transform="translate(93.2 441.9) scale(0.973 1.000)" font-size="17.3">-03</text>
<text transform="translate(60.48 535.3) scale(1.023 1.000)" font-size="27.1">10</text>
<text transform="translate(93.2 525.9) scale(0.934 1.000)" font-size="17.3">-05</text>
<text transform="translate(60.28 620.8) scale(1.023 1.000)" font-size="27.1">10</text>
<text transform="translate(93 611.4) scale(0.973 1.000)" font-size="17.3">-07</text>
<text transform="translate(61.48 706.7) scale(1.023 1.000)" font-size="27.1">10</text>
<text transform="translate(94.2 697.3) scale(0.973 1.000)" font-size="17.3">-09</text>
<text transform="translate(60.28 760.5) scale(1.023 1.000)" font-size="27.1">10</text>
<text transform="translate(93 751.1) scale(0.973 1.000)" font-size="17.3">-02</text>
<text transform="translate(63.48 831.3) scale(1.023 1.000)" font-size="27.1">10</text>
<text transform="translate(96.2 821.9) scale(0.934 1.000)" font-size="17.3">-04</text>
<text transform="translate(60.28 904.2) scale(1.023 1.000)" font-size="27.1">10</text>
<text transform="translate(93 894.8) scale(0.973 1.000)" font-size="17.3">-06</text>
<text transform="translate(63.48 980.8) scale(1.023 1.000)" font-size="27.1">10</text>
<text transform="translate(96.2 971.4) scale(0.934 1.000)" font-size="17.3">-08</text>
<text transform="translate(60.28 1056.7) scale(1.023 1.000)" font-size="27.1">10</text>
<text transform="translate(93 1047.3) scale(0.973 1.000)" font-size="17.3">-10</text>
<text transform="translate(1039.78 75.3) scale(1.023 1.000)" font-size="27.1">10</text>
<text transform="translate(1072.5 65.9) scale(0.973 1.000)" font-size="17.3">-02</text>
<text transform="translate(1039.78 169.2) scale(1.023 1.000)" font-size="27.1">10</text>
<text transform="translate(1072.5 159.8) scale(0.934 1.000)" font-size="17.3">-04</text>
<text transform="translate(1039.78 268.3) scale(1.023 1.000)" font-size="27.1">10</text>
<text transform="translate(1072.5 258.9) scale(0.973 1.000)" font-size="17.3">-06</text>
<text transform="translate(1039.78 368.3) scale(1.023 1.000)" font-size="27.1">10</text>
<text transform="translate(1072.5 358.9) scale(0.934 1.000)" font-size="17.3">-08</text>
<text transform="translate(1039.78 452.5) scale(1.023 1.000)" font-size="27.1">10</text>
<text transform="translate(1072.5 443.1) scale(0.973 1.000)" font-size="17.3">-03</text>
<text transform="translate(1039.78 537) scale(1.023 1.000)" font-size="27.1">10</text>
<text transform="translate(1072.5 527.6) scale(0.934 1.000)" font-size="17.3">-05</text>
<text transform="translate(1039.78 622.5) scale(1.023 1.000)" font-size="27.1">10</text>
<text transform="translate(1072.5 613.1) scale(0.973 1.000)" font-size="17.3">-07</text>
<text transform="translate(1041.18 708) scale(1.023 1.000)" font-size="27.1">10</text>
<text transform="translate(1073.9 698.6) scale(0.973 1.000)" font-size="17.3">-09</text>
<text transform="translate(1039.78 761.7) scale(1.023 1.000)" font-size="27.1">10</text>
<text transform="translate(1072.5 752.3) scale(0.973 1.000)" font-size="17.3">-02</text>
<text transform="translate(1043.18 833) scale(1.023 1.000)" font-size="27.1">10</text>
<text transform="translate(1075.9 823.6) scale(0.934 1.000)" font-size="17.3">-04</text>
<text transform="translate(1039.78 905.8) scale(1.023 1.000)" font-size="27.1">10</text>
<text transform="translate(1072.5 896.4) scale(0.973 1.000)" font-size="17.3">-06</text>
<text transform="translate(1043.18 983) scale(1.023 1.000)" font-size="27.1">10</text>
<text transform="translate(1075.9 973.6) scale(0.934 1.000)" font-size="17.3">-08</text>
<text transform="translate(1040.28 1057.5) scale(1.023 1.000)" font-size="27.1">10</text>
<text transform="translate(1073 1048.1) scale(0.973 1.000)" font-size="17.3">-10</text>
<text transform="translate(106.48 1090) scale(1.023 1.000)" font-size="27.1">10</text>
<text transform="translate(139.2 1080.6) scale(0.973 1.000)" font-size="17.3">-02</text>
<text transform="translate(206.78 1090) scale(1.023 1.000)" font-size="27.1">10</text>
<text transform="translate(239.5 1080.6) scale(0.934 1.000)" font-size="17.3">-01</text>
<text transform="translate(303.98 1091.3) scale(1.023 1.000)" font-size="27.1">10</text>
<text transform="translate(335.8 1081.9) scale(1.010 1.000)" font-size="17.3">+00</text>
<text transform="translate(404.28 1091.3) scale(1.023 1.000)" font-size="27.1">10</text>
<text transform="translate(436.1 1081.9) scale(0.976 1.000)" font-size="17.3">+01</text>
<text transform="translate(498.98 1091.3) scale(1.023 1.000)" font-size="27.1">10</text>
<text transform="translate(530.8 1081.9) scale(1.010 1.000)" font-size="17.3">+02</text>
<text transform="translate(563.98 1091.3) scale(1.023 1.000)" font-size="27.1">10</text>
<text transform="translate(596.7 1081.9) scale(0.973 1.000)" font-size="17.3">-02</text>
<text transform="translate(658.68 1090) scale(1.023 1.000)" font-size="27.1">10</text>
<text transform="translate(691.4 1080.6) scale(0.934 1.000)" font-size="17.3">-01</text>
<text transform="translate(757.28 1091.3) scale(1.023 1.000)" font-size="27.1">10</text>
<text transform="translate(789.1 1081.9) scale(1.010 1.000)" font-size="17.3">+00</text>
<text transform="translate(857.68 1091.3) scale(1.023 1.000)" font-size="27.1">10</text>
<text transform="translate(889.5 1081.9) scale(0.976 1.000)" font-size="17.3">+01</text>
<text transform="translate(954.28 1090.8) scale(1.023 1.000)" font-size="27.1">10</text>
<text transform="translate(986.1 1081.4) scale(1.010 1.000)" font-size="17.3">+02</text>
<text transform="translate(1083.68 1090.8) scale(1.023 1.000)" font-size="27.1">10</text>
<text transform="translate(1116.4 1081.4) scale(0.973 1.000)" font-size="17.3">-02</text>
<text transform="translate(1186.48 1090.8) scale(1.023 1.000)" font-size="27.1">10</text>
<text transform="translate(1219.2 1081.4) scale(0.934 1.000)" font-size="17.3">-01</text>
<text transform="translate(1283.98 1092.5) scale(1.023 1.000)" font-size="27.1">10</text>
<text transform="translate(1315.8 1083.1) scale(1.010 1.000)" font-size="17.3">+00</text>
<text transform="translate(1383.98 1092.5) scale(1.023 1.000)" font-size="27.1">10</text>
<text transform="translate(1415.8 1083.1) scale(0.976 1.000)" font-size="17.3">+01</text>
<text transform="translate(1478.18 1092.5) scale(1.023 1.000)" font-size="27.1">10</text>
<text transform="translate(1510 1083.1) scale(1.010 1.000)" font-size="17.3">+02</text>
<text transform="translate(1543.68 1092.5) scale(1.023 1.000)" font-size="27.1">10</text>
<text transform="translate(1576.4 1083.1) scale(0.973 1.000)" font-size="17.3">-02</text>
<text transform="translate(1637.68 1090.8) scale(1.023 1.000)" font-size="27.1">10</text>
<text transform="translate(1670.4 1081.4) scale(0.934 1.000)" font-size="17.3">-01</text>
<text transform="translate(1736.48 1092.5) scale(1.023 1.000)" font-size="27.1">10</text>
<text transform="translate(1768.3 1083.1) scale(1.010 1.000)" font-size="17.3">+00</text>
<text transform="translate(1836.48 1092.5) scale(1.023 1.000)" font-size="27.1">10</text>
<text transform="translate(1868.3 1083.1) scale(0.976 1.000)" font-size="17.3">+01</text>
<text transform="translate(1933.98 1092.5) scale(1.023 1.000)" font-size="27.1">10</text>
<text transform="translate(1965.8 1083.1) scale(1.010 1.000)" font-size="17.3">+02</text>
<text transform="translate(152.05 255) scale(0.950 1.000)" font-size="28">(a)</text>
<text transform="translate(194.14 255) scale(0.857 1.000)" font-size="27.3">1s</text>
<text transform="translate(227 256.9) scale(1.195 1.000)" font-size="39.5" font-weight="normal">−</text>
<text transform="translate(238.59 259.7) scale(0.956 1.000)" font-size="58.75" font-weight="normal">›</text>
<text transform="translate(264.94 255) scale(0.857 1.000)" font-size="27.3">1s</text>
<text transform="translate(293.3 246.6) scale(0.750 1.000)" font-size="17.5">2</text>
<text transform="translate(152.04 294.7) scale(0.957 1.000)" font-size="28">(b)</text>
<text transform="translate(194.94 294.7) scale(0.857 1.000)" font-size="27.3">1s</text>
<text transform="translate(228.64 296.6) scale(1.162 1.000)" font-size="39.5" font-weight="normal">−</text>
<text transform="translate(239.49 299.4) scale(0.956 1.000)" font-size="58.75" font-weight="normal">›</text>
<text transform="translate(266.67 294.7) scale(0.829 1.000)" font-size="27.3">1s</text>
<text transform="translate(302.5 294.7) scale(0.855 1.000)" font-size="27.3">2s</text>
<text transform="translate(152.08 336.3) scale(0.925 1.000)" font-size="28">(c)</text>
<text transform="translate(191.15 336.3) scale(0.846 1.000)" font-size="27.3">1s</text>
<text transform="translate(224.54 338.2) scale(1.157 1.000)" font-size="39.5" font-weight="normal">−</text>
<text transform="translate(235.29 341) scale(0.956 1.000)" font-size="58.75" font-weight="normal">›</text>
<text transform="translate(264.17 336.3) scale(0.829 1.000)" font-size="27.3">1s</text>
<text transform="translate(298.3 336.3) scale(0.858 1.000)" font-size="27.3">3s</text>
<text transform="translate(607.64 334.5) scale(0.857 1.000)" font-size="27.3">1s</text>
<text transform="translate(640.83 336.4) scale(1.167 1.000)" font-size="39.5" font-weight="normal">−</text>
<text transform="translate(651.79 339.2) scale(0.956 1.000)" font-size="58.75" font-weight="normal">›</text>
<text transform="translate(680.14 334.5) scale(0.857 1.000)" font-size="27.3">1s</text>
<text transform="translate(714.6 334.5) scale(0.861 1.000)" font-size="27.3">4s</text>
<text transform="translate(1131.02 295.8) scale(0.981 1.000)" font-size="28">(a)</text>
<text transform="translate(1173.86 295.8) scale(0.840 1.000)" font-size="27.3">1s</text>
<text transform="translate(1201.7 287.4) scale(0.750 1.000)" font-size="17.5">2</text>
<text transform="translate(1217.04 297.7) scale(1.157 1.000)" font-size="39.5" font-weight="normal">−</text>
<text transform="translate(1227.79 300.5) scale(0.956 1.000)" font-size="58.75" font-weight="normal">›</text>
<text transform="translate(1256.7 295.8) scale(0.798 1.000)" font-size="27.3">1s</text>
<text transform="translate(1284.2 287.4) scale(0.780 1.000)" font-size="17.5">2</text>
<text transform="translate(1298.3 295.8) scale(0.858 1.000)" font-size="27.3">2s</text>
<text transform="translate(1129.83 340.8) scale(0.972 1.000)" font-size="28">(b)</text>
<text transform="translate(1173.86 340.8) scale(0.840 1.000)" font-size="27.3">1s</text>
<text transform="translate(1201.7 332.4) scale(0.750 1.000)" font-size="17.5">2</text>
<text transform="translate(1217.04 342.7) scale(1.157 1.000)" font-size="39.5" font-weight="normal">−</text>
<text transform="translate(1227.79 345.5) scale(0.956 1.000)" font-size="58.75" font-weight="normal">›</text>
<text transform="translate(1256.7 340.8) scale(0.798 1.000)" font-size="27.3">1s</text>
<text transform="translate(1284.2 332.4) scale(0.780 1.000)" font-size="17.5">2</text>
<text transform="translate(1298.3 340.8) scale(0.858 1.000)" font-size="27.3">3s</text>
<text transform="translate(1587.48 341.7) scale(0.822 1.000)" font-size="27.3">1s</text>
<text transform="translate(1615 333.3) scale(0.830 1.000)" font-size="17.5">2</text>
<text transform="translate(1631.18 343.6) scale(1.119 1.000)" font-size="39.5" font-weight="normal">−</text>
<text transform="translate(1641.09 346.4) scale(0.956 1.000)" font-size="58.75" font-weight="normal">›</text>
<text transform="translate(1669.87 341.7) scale(0.833 1.000)" font-size="27.3">1s</text>
<text transform="translate(1697.7 333.3) scale(0.800 1.000)" font-size="17.5">2</text>
<text transform="translate(1713.3 341.7) scale(0.861 1.000)" font-size="27.3">4s</text>
<text transform="translate(152.05 632.5) scale(0.950 1.000)" font-size="28">(a)</text>
<text transform="translate(194.14 632.5) scale(0.857 1.000)" font-size="27.3">1s</text>
<text transform="translate(227 634.4) scale(1.195 1.000)" font-size="39.5" font-weight="normal">−</text>
<text transform="translate(238.59 637.2) scale(0.956 1.000)" font-size="58.75" font-weight="normal">›</text>
<text transform="translate(264.94 632.5) scale(0.857 1.000)" font-size="27.3">1s</text>
<text transform="translate(298.3 632.5) scale(0.962 1.000)" font-size="27.3">2p</text>
<text transform="translate(153.23 681.3) scale(0.972 1.000)" font-size="28">(b)</text>
<text transform="translate(196.64 681.3) scale(0.857 1.000)" font-size="27.3">1s</text>
<text transform="translate(229.5 683.2) scale(1.195 1.000)" font-size="39.5" font-weight="normal">−</text>
<text transform="translate(241.09 686) scale(0.956 1.000)" font-size="58.75" font-weight="normal">›</text>
<text transform="translate(268.37 681.3) scale(0.826 1.000)" font-size="27.3">1s</text>
<text transform="translate(301.7 681.3) scale(0.962 1.000)" font-size="27.3">3p</text>
<text transform="translate(603.45 676.7) scale(0.846 1.000)" font-size="27.3">1s</text>
<text transform="translate(636.88 678.6) scale(1.119 1.000)" font-size="39.5" font-weight="normal">−</text>
<text transform="translate(646.79 681.4) scale(0.956 1.000)" font-size="58.75" font-weight="normal">›</text>
<text transform="translate(675.87 676.7) scale(0.833 1.000)" font-size="27.3">1s</text>
<text transform="translate(708.3 676.7) scale(0.943 1.000)" font-size="27.3">4p</text>
<text transform="translate(1132.32 635.5) scale(0.984 1.000)" font-size="28">(a)</text>
<text transform="translate(1174.95 635.5) scale(0.846 1.000)" font-size="27.3">1s</text>
<text transform="translate(1203 627.1) scale(0.750 1.000)" font-size="17.5">2</text>
<text transform="translate(1218.34 637.4) scale(1.157 1.000)" font-size="39.5" font-weight="normal">−</text>
<text transform="translate(1229.09 640.2) scale(0.956 1.000)" font-size="58.75" font-weight="normal">›</text>
<text transform="translate(1257.88 635.5) scale(0.816 1.000)" font-size="27.3">1s</text>
<text transform="translate(1285.3 627.1) scale(0.800 1.000)" font-size="17.5">2</text>
<text transform="translate(1300 635.5) scale(0.962 1.000)" font-size="27.3">2p</text>
<text transform="translate(1131.02 683.3) scale(0.978 1.000)" font-size="28">(b)</text>
<text transform="translate(1174.95 683.3) scale(0.846 1.000)" font-size="27.3">1s</text>
<text transform="translate(1203 674.9) scale(0.750 1.000)" font-size="17.5">2</text>
<text transform="translate(1218.34 685.2) scale(1.157 1.000)" font-size="39.5" font-weight="normal">−</text>
<text transform="translate(1229.09 688) scale(0.956 1.000)" font-size="58.75" font-weight="normal">›</text>
<text transform="translate(1257.88 683.3) scale(0.816 1.000)" font-size="27.3">1s</text>
<text transform="translate(1285.3 674.9) scale(0.800 1.000)" font-size="17.5">2</text>
<text transform="translate(1300 683.3) scale(0.962 1.000)" font-size="27.3">3p</text>
<text transform="translate(1582.87 678.3) scale(0.833 1.000)" font-size="27.3">1s</text>
<text transform="translate(1610.3 669.9) scale(0.840 1.000)" font-size="17.5">2</text>
<text transform="translate(1626.58 680.2) scale(1.119 1.000)" font-size="39.5" font-weight="normal">−</text>
<text transform="translate(1636.49 683) scale(0.956 1.000)" font-size="58.75" font-weight="normal">›</text>
<text transform="translate(1665.46 678.3) scale(0.836 1.000)" font-size="27.3">1s</text>
<text transform="translate(1693 669.9) scale(0.830 1.000)" font-size="17.5">2</text>
<text transform="translate(1708.7 678.3) scale(0.962 1.000)" font-size="27.3">4p</text>
<text transform="translate(153.34 1024.7) scale(0.857 1.000)" font-size="27.3">1s</text>
<text transform="translate(186.52 1026.6) scale(1.181 1.000)" font-size="39.5" font-weight="normal">−</text>
<text transform="translate(197.79 1029.4) scale(0.956 1.000)" font-size="58.75" font-weight="normal">›</text>
<text transform="translate(225.84 1024.7) scale(0.857 1.000)" font-size="27.3">1s</text>
<text transform="translate(258.3 1024.7) scale(0.967 1.000)" font-size="27.3">3d</text>
<text transform="translate(603.35 1020.8) scale(0.850 1.000)" font-size="27.3">1s</text>
<text transform="translate(636.85 1022.7) scale(1.152 1.000)" font-size="39.5" font-weight="normal">−</text>
<text transform="translate(647.49 1025.5) scale(0.956 1.000)" font-size="58.75" font-weight="normal">›</text>
<text transform="translate(675.86 1020.8) scale(0.843 1.000)" font-size="27.3">1s</text>
<text transform="translate(708 1020.8) scale(0.977 1.000)" font-size="27.3">4d</text>
<text transform="translate(1133.37 1025.8) scale(0.826 1.000)" font-size="27.3">1s</text>
<text transform="translate(1160.8 1017.4) scale(0.790 1.000)" font-size="17.5">2</text>
<text transform="translate(1176.56 1027.7) scale(1.143 1.000)" font-size="39.5" font-weight="normal">−</text>
<text transform="translate(1186.99 1030.5) scale(0.956 1.000)" font-size="58.75" font-weight="normal">›</text>
<text transform="translate(1215.87 1025.8) scale(0.826 1.000)" font-size="27.3">1s</text>
<text transform="translate(1243.7 1017.4) scale(0.800 1.000)" font-size="17.5">2</text>
<text transform="translate(1259.2 1025.8) scale(0.977 1.000)" font-size="27.3">3d</text>
<text transform="translate(1588.86 1023) scale(0.840 1.000)" font-size="27.3">1s</text>
<text transform="translate(1616.7 1014.6) scale(0.800 1.000)" font-size="17.5">2</text>
<text transform="translate(1632.04 1024.9) scale(1.157 1.000)" font-size="39.5" font-weight="normal">−</text>
<text transform="translate(1642.79 1027.7) scale(0.956 1.000)" font-size="58.75" font-weight="normal">›</text>
<text transform="translate(1671.67 1023) scale(0.829 1.000)" font-size="27.3">1s</text>
<text transform="translate(1699.2 1014.6) scale(0.800 1.000)" font-size="17.5">2</text>
<text transform="translate(1714.7 1023) scale(0.994 1.000)" font-size="27.3">4d</text>
<text transform="translate(395.36 171.7) scale(0.944 1.000)" font-size="28.3">(a)</text>
<text transform="translate(456.04 199.7) scale(0.957 1.000)" font-size="28.3">(b)</text>
<text transform="translate(484.31 240.4) scale(0.887 1.000)" font-size="28.3">(c)</text>
<text transform="translate(1394.16 205.8) scale(0.944 1.000)" font-size="28.3">(a)</text>
<text transform="translate(1454.86 240.3) scale(0.936 1.000)" font-size="28.3">(b)</text>
<text transform="translate(385.72 516.5) scale(0.983 1.000)" font-size="28.3">(a)</text>
<text transform="translate(379.35 584) scale(0.948 1.000)" font-size="28.3">(b)</text>
<text transform="translate(1365.72 517.2) scale(0.983 1.000)" font-size="28.3">(a)</text>
<text transform="translate(1358.54 585.4) scale(0.959 1.000)" font-size="28.3">(b)</text>
<text transform="translate(364.27 86.9) scale(0.833 1.000)" font-size="27.7">n</text>
<text transform="translate(381.03 92.6) scale(0.967 1.000)" font-size="17.5">p</text>
<text transform="translate(393.11 86.9) scale(0.787 1.000)" font-size="27.7">=</text>
<text transform="translate(407.98 86.9) scale(0.915 1.000)" font-size="27.7">10</text>
<text transform="translate(438.54 78.1) scale(0.960 1.000)" font-size="17.9">19</text>
<text transform="translate(467.36 86.9) scale(0.936 1.000)" font-size="27.7">cm</text>
<text transform="translate(505.8 78.1) scale(0.902 1.000)" font-size="17.9">-3</text>
<text transform="translate(365.47 127.3) scale(0.833 1.000)" font-size="27.7">n</text>
<text transform="translate(382.23 133) scale(0.967 1.000)" font-size="17.5">p</text>
<text transform="translate(394.31 127.3) scale(0.787 1.000)" font-size="27.7">=</text>
<text transform="translate(409.18 127.3) scale(0.915 1.000)" font-size="27.7">10</text>
<text transform="translate(440.7 118.5) scale(0.912 1.000)" font-size="17.9">20</text>
<text transform="translate(468.56 127.3) scale(0.936 1.000)" font-size="27.7">cm</text>
<text transform="translate(507 118.5) scale(0.902 1.000)" font-size="17.9">-3</text>
<text transform="translate(1343.87 93.9) scale(0.833 1.000)" font-size="27.7">n</text>
<text transform="translate(1360.63 99.6) scale(0.967 1.000)" font-size="17.5">p</text>
<text transform="translate(1372.71 93.9) scale(0.787 1.000)" font-size="27.7">=</text>
<text transform="translate(1387.58 93.9) scale(0.915 1.000)" font-size="27.7">10</text>
<text transform="translate(1418.14 85.1) scale(0.960 1.000)" font-size="17.9">19</text>
<text transform="translate(1446.96 93.9) scale(0.936 1.000)" font-size="27.7">cm</text>
<text transform="translate(1485.4 85.1) scale(0.902 1.000)" font-size="17.9">-3</text>
<text transform="translate(1345.07 134.3) scale(0.833 1.000)" font-size="27.7">n</text>
<text transform="translate(1361.83 140) scale(0.967 1.000)" font-size="17.5">p</text>
<text transform="translate(1373.91 134.3) scale(0.787 1.000)" font-size="27.7">=</text>
<text transform="translate(1388.78 134.3) scale(0.915 1.000)" font-size="27.7">10</text>
<text transform="translate(1420.3 125.5) scale(0.912 1.000)" font-size="17.9">20</text>
<text transform="translate(1448.16 134.3) scale(0.936 1.000)" font-size="27.7">cm</text>
<text transform="translate(1486.6 125.5) scale(0.902 1.000)" font-size="17.9">-3</text>
<text transform="translate(541.5 27) scale(0.999 1.000)" font-size="30">(A)</text>
<text transform="translate(1521.18 28.5) scale(0.920 1.000)" font-size="30">(B)</text>
<text transform="translate(935.05 1140.8) scale(0.977 1.000)" font-size="33">Energy</text>
<text transform="translate(1053.22 1140.8) scale(0.978 1.000)" font-size="33">(Ry)</text>
<g transform="translate(33.9 620.9) rotate(-90)"><text transform="translate(-0.67 0) scale(0.970 1.000)" font-size="34.7" font-weight="normal" stroke="#111" stroke-width="0.7" stroke-linejoin="round">σ</text><text transform="translate(24.59 8.2) scale(0.810 1.000)" font-size="22.5" stroke="#111" stroke-width="0.7" stroke-linejoin="round">RR</text><text transform="translate(60.28 0) scale(0.717 1.000)" font-size="36.9" stroke="#111" stroke-width="1.1" stroke-linejoin="round">(</text><text transform="translate(72.98 0) scale(1.115 1.000)" font-size="31" font-weight="normal" stroke="#111" stroke-width="0.6" stroke-linejoin="round">π</text><text transform="translate(96.44 0) scale(0.760 1.000)" font-size="36.9" stroke="#111" stroke-width="1.0" stroke-linejoin="round">a</text><text transform="translate(114 8.2) scale(0.882 1.000)" font-size="21.1" stroke="#111" stroke-width="0.6" stroke-linejoin="round">0</text><text transform="translate(128 -14) scale(0.875 1.000)" font-size="22.1" stroke="#111" stroke-width="0.6" stroke-linejoin="round">2</text><text transform="translate(141.5 0) scale(0.645 1.000)" font-size="36.9" stroke="#111" stroke-width="1.1" stroke-linejoin="round">)</text></g>
<path class="ln" style="stroke-width:1.7" d="M135.2 46.2C135.2 30 136.5 23 141 22.3H526.5M598 22.3H991C996 23 996.9 30 996.9 46"/>
<path class="ln" style="stroke-width:1.7" d="M1115.4 47.3C1115.4 31.5 1116.7 24.5 1121 23.7H1506M1576 23.7H1970C1974.8 24.4 1975.8 31.5 1975.8 47"/>
<path class="ln" d="M400.1 176.3L385.7 194.4M456.4 205.1L428.6 243.9M485 245L456 285M1400.1 211.9L1387.6 228.8M1461.4 246.3L1433.9 283.2"/>
<path class="b" style="stroke:#5B9BD5;stroke-width:1.5;stroke-dasharray:3 1.4" d="M301.9 78.8H359.4M1281.5 84.6H1339.1"/>
<path class="o" d="M301.9 122.3H360.7M1281.5 129.4H1340.3"/>
</svg></body></html>
